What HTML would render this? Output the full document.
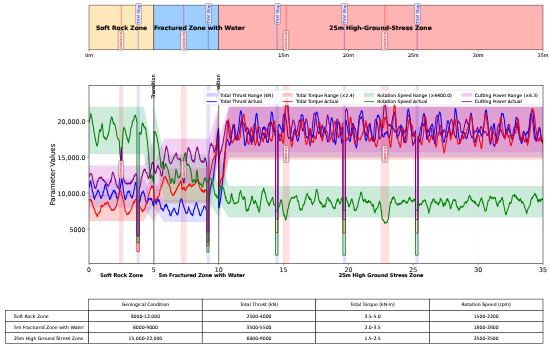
<!DOCTYPE html>
<html><head><meta charset="utf-8"><title>TBM Parameters</title>
<style>html,body{margin:0;padding:0;background:#fff}svg{display:block}</style></head>
<body>
<svg width="550" height="349" viewBox="0 0 550 349" font-family="DejaVu Sans, Liberation Sans, sans-serif">
<rect width="550" height="349" fill="#fff"/>
<rect x="89.00" y="5.1" width="64.86" height="44.70" fill="#fee8ba" stroke="#222" stroke-width="0.45"/>
<rect x="153.86" y="5.1" width="64.86" height="44.70" fill="#9dceff" stroke="#222" stroke-width="0.45"/>
<rect x="218.71" y="5.1" width="324.29" height="44.70" fill="#ffb3b3" stroke="#222" stroke-width="0.45"/>
<line x1="121.17" x2="121.17" y1="5.1" y2="49.8" stroke="#ff0000" stroke-opacity="0.6" stroke-width="0.6"/>
<line x1="183.69" x2="183.69" y1="5.1" y2="49.8" stroke="#ff0000" stroke-opacity="0.6" stroke-width="0.6"/>
<line x1="286.23" x2="286.23" y1="5.1" y2="49.8" stroke="#ff0000" stroke-opacity="0.6" stroke-width="0.6"/>
<line x1="384.88" x2="384.88" y1="5.1" y2="49.8" stroke="#ff0000" stroke-opacity="0.6" stroke-width="0.6"/>
<line x1="138.23" x2="138.23" y1="5.1" y2="49.8" stroke="#0000ff" stroke-opacity="0.5" stroke-width="0.6"/>
<line x1="208.27" x2="208.27" y1="5.1" y2="49.8" stroke="#0000ff" stroke-opacity="0.5" stroke-width="0.6"/>
<line x1="277.15" x2="277.15" y1="5.1" y2="49.8" stroke="#0000ff" stroke-opacity="0.5" stroke-width="0.6"/>
<line x1="344.34" x2="344.34" y1="5.1" y2="49.8" stroke="#0000ff" stroke-opacity="0.5" stroke-width="0.6"/>
<line x1="417.11" x2="417.11" y1="5.1" y2="49.8" stroke="#0000ff" stroke-opacity="0.5" stroke-width="0.6"/>
<text x="121.50" y="29.8" font-size="6" font-weight="bold" text-anchor="middle" fill="#000" stroke="#000" stroke-width="0.15">Soft Rock Zone</text>
<text x="199.40" y="29.8" font-size="6" font-weight="bold" text-anchor="middle" fill="#000" stroke="#000" stroke-width="0.15">Fractured Zone with Water</text>
<text x="380.50" y="29.8" font-size="6" font-weight="bold" text-anchor="middle" fill="#000" stroke="#000" stroke-width="0.15">25m High-Ground-Stress Zone</text>
<rect x="118.17" y="30.98" width="5.50" height="19.05" rx="0.8" fill="#fff" fill-opacity="0.82" stroke="#666" stroke-width="0.55"/><text transform="translate(122.36 40.50) rotate(-90)" font-size="4.0" text-anchor="middle" fill="#ff0000">Anomaly</text>
<rect x="180.69" y="30.98" width="5.50" height="19.05" rx="0.8" fill="#fff" fill-opacity="0.82" stroke="#666" stroke-width="0.55"/><text transform="translate(184.88 40.50) rotate(-90)" font-size="4.0" text-anchor="middle" fill="#ff0000">Anomaly</text>
<rect x="283.23" y="30.98" width="5.50" height="19.05" rx="0.8" fill="#fff" fill-opacity="0.82" stroke="#666" stroke-width="0.55"/><text transform="translate(287.42 40.50) rotate(-90)" font-size="4.0" text-anchor="middle" fill="#ff0000">Anomaly</text>
<rect x="381.88" y="30.98" width="5.50" height="19.05" rx="0.8" fill="#fff" fill-opacity="0.82" stroke="#666" stroke-width="0.55"/><text transform="translate(386.07 40.50) rotate(-90)" font-size="4.0" text-anchor="middle" fill="#ff0000">Anomaly</text>
<rect x="135.78" y="3.65" width="5.50" height="20.50" rx="0.8" fill="#fff" fill-opacity="0.82" stroke="#666" stroke-width="0.55"/><text transform="translate(139.97 13.90) rotate(-90)" font-size="4.0" text-anchor="middle" fill="#0000ff">TBM Stop</text>
<rect x="205.82" y="3.65" width="5.50" height="20.50" rx="0.8" fill="#fff" fill-opacity="0.82" stroke="#666" stroke-width="0.55"/><text transform="translate(210.01 13.90) rotate(-90)" font-size="4.0" text-anchor="middle" fill="#0000ff">TBM Stop</text>
<rect x="274.70" y="3.65" width="5.50" height="20.50" rx="0.8" fill="#fff" fill-opacity="0.82" stroke="#666" stroke-width="0.55"/><text transform="translate(278.89 13.90) rotate(-90)" font-size="4.0" text-anchor="middle" fill="#0000ff">TBM Stop</text>
<rect x="341.89" y="3.65" width="5.50" height="20.50" rx="0.8" fill="#fff" fill-opacity="0.82" stroke="#666" stroke-width="0.55"/><text transform="translate(346.08 13.90) rotate(-90)" font-size="4.0" text-anchor="middle" fill="#0000ff">TBM Stop</text>
<rect x="414.66" y="3.65" width="5.50" height="20.50" rx="0.8" fill="#fff" fill-opacity="0.82" stroke="#666" stroke-width="0.55"/><text transform="translate(418.85 13.90) rotate(-90)" font-size="4.0" text-anchor="middle" fill="#0000ff">TBM Stop</text>
<line x1="89.00" x2="89.00" y1="49.8" y2="51.599999999999994" stroke="#000" stroke-width="0.4"/>
<text x="89.00" y="56.80" font-size="4.8" text-anchor="middle" fill="#000" stroke="#000" stroke-width="0.08">0m</text>
<line x1="283.57" x2="283.57" y1="49.8" y2="51.599999999999994" stroke="#000" stroke-width="0.4"/>
<text x="283.57" y="56.80" font-size="4.8" text-anchor="middle" fill="#000" stroke="#000" stroke-width="0.08">15m</text>
<line x1="348.43" x2="348.43" y1="49.8" y2="51.599999999999994" stroke="#000" stroke-width="0.4"/>
<text x="348.43" y="56.80" font-size="4.8" text-anchor="middle" fill="#000" stroke="#000" stroke-width="0.08">20m</text>
<line x1="413.29" x2="413.29" y1="49.8" y2="51.599999999999994" stroke="#000" stroke-width="0.4"/>
<text x="413.29" y="56.80" font-size="4.8" text-anchor="middle" fill="#000" stroke="#000" stroke-width="0.08">25m</text>
<line x1="478.14" x2="478.14" y1="49.8" y2="51.599999999999994" stroke="#000" stroke-width="0.4"/>
<text x="478.14" y="56.80" font-size="4.8" text-anchor="middle" fill="#000" stroke="#000" stroke-width="0.08">30m</text>
<line x1="543.00" x2="543.00" y1="49.8" y2="51.599999999999994" stroke="#000" stroke-width="0.4"/>
<text x="543.00" y="56.80" font-size="4.8" text-anchor="middle" fill="#000" stroke="#000" stroke-width="0.08">35m</text>
<clipPath id="c"><rect x="89.0" y="85.5" width="454.0" height="178.0"/></clipPath>
<g clip-path="url(#c)">
<line x1="89.00" x2="89.00" y1="85.5" y2="263.5" stroke="#b0b0b0" stroke-opacity="0.35" stroke-width="0.4" stroke-dasharray="0.5 0.8"/>
<line x1="153.86" x2="153.86" y1="85.5" y2="263.5" stroke="#b0b0b0" stroke-opacity="0.35" stroke-width="0.4" stroke-dasharray="0.5 0.8"/>
<line x1="218.71" x2="218.71" y1="85.5" y2="263.5" stroke="#b0b0b0" stroke-opacity="0.35" stroke-width="0.4" stroke-dasharray="0.5 0.8"/>
<line x1="283.57" x2="283.57" y1="85.5" y2="263.5" stroke="#b0b0b0" stroke-opacity="0.35" stroke-width="0.4" stroke-dasharray="0.5 0.8"/>
<line x1="348.43" x2="348.43" y1="85.5" y2="263.5" stroke="#b0b0b0" stroke-opacity="0.35" stroke-width="0.4" stroke-dasharray="0.5 0.8"/>
<line x1="413.29" x2="413.29" y1="85.5" y2="263.5" stroke="#b0b0b0" stroke-opacity="0.35" stroke-width="0.4" stroke-dasharray="0.5 0.8"/>
<line x1="478.14" x2="478.14" y1="85.5" y2="263.5" stroke="#b0b0b0" stroke-opacity="0.35" stroke-width="0.4" stroke-dasharray="0.5 0.8"/>
<line x1="543.00" x2="543.00" y1="85.5" y2="263.5" stroke="#b0b0b0" stroke-opacity="0.35" stroke-width="0.4" stroke-dasharray="0.5 0.8"/>
<line x1="89.0" x2="543.0" y1="229.10" y2="229.10" stroke="#b0b0b0" stroke-opacity="0.35" stroke-width="0.4" stroke-dasharray="0.5 0.8"/>
<line x1="89.0" x2="543.0" y1="193.10" y2="193.10" stroke="#b0b0b0" stroke-opacity="0.35" stroke-width="0.4" stroke-dasharray="0.5 0.8"/>
<line x1="89.0" x2="543.0" y1="157.10" y2="157.10" stroke="#b0b0b0" stroke-opacity="0.35" stroke-width="0.4" stroke-dasharray="0.5 0.8"/>
<line x1="89.0" x2="543.0" y1="121.10" y2="121.10" stroke="#b0b0b0" stroke-opacity="0.35" stroke-width="0.4" stroke-dasharray="0.5 0.8"/>
<path d="M89.00 178.70 L89.65 178.70 L90.30 178.70 L90.95 178.70 L91.59 178.70 L92.24 178.70 L92.89 178.70 L93.54 178.70 L94.19 178.70 L94.84 178.70 L95.49 178.70 L96.13 178.70 L96.78 178.70 L97.43 178.70 L98.08 178.70 L98.73 178.70 L99.38 178.70 L100.03 178.70 L100.67 178.70 L101.32 178.70 L101.97 178.70 L102.62 178.70 L103.27 178.70 L103.92 178.70 L104.57 178.70 L105.21 178.70 L105.86 178.70 L106.51 178.70 L107.16 178.70 L107.81 178.70 L108.46 178.70 L109.11 178.70 L109.75 178.70 L110.40 178.70 L111.05 178.70 L111.70 178.70 L112.35 178.70 L113.00 178.70 L113.65 178.70 L114.29 178.70 L114.94 178.70 L115.59 178.70 L116.24 178.70 L116.89 178.70 L117.54 178.70 L118.19 178.70 L118.83 178.70 L119.48 178.70 L120.13 178.70 L120.78 178.70 L121.43 178.70 L122.08 178.70 L122.73 178.70 L123.37 178.70 L124.02 178.70 L124.67 178.70 L125.32 178.70 L125.97 178.70 L126.62 178.70 L127.27 178.70 L127.91 178.70 L128.56 178.70 L129.21 178.70 L129.86 178.70 L130.51 178.70 L131.16 178.70 L131.81 178.70 L132.45 178.70 L133.10 178.70 L133.75 178.70 L134.40 178.70 L135.05 178.70 L135.70 178.70 L136.35 178.70 L136.99 178.70 L137.64 178.70 L138.29 178.70 L138.94 178.70 L139.59 178.70 L140.24 178.70 L140.89 178.70 L141.53 178.70 L142.18 178.70 L142.83 178.70 L143.48 178.70 L144.13 179.53 L144.78 180.92 L145.43 182.30 L146.07 183.68 L146.72 185.07 L147.37 186.45 L148.02 187.84 L148.67 189.22 L149.32 190.61 L149.97 191.99 L150.61 193.38 L151.26 194.76 L151.91 196.15 L152.56 197.53 L153.21 198.92 L153.86 178.70 L154.51 180.08 L155.15 181.47 L155.80 182.85 L156.45 184.24 L157.10 185.62 L157.75 187.01 L158.40 188.39 L159.05 189.78 L159.69 191.16 L160.34 192.55 L160.99 193.93 L161.64 195.32 L162.29 196.70 L162.94 198.08 L163.59 199.47 L164.23 200.30 L164.88 200.30 L165.53 200.30 L166.18 200.30 L166.83 200.30 L167.48 200.30 L168.13 200.30 L168.77 200.30 L169.42 200.30 L170.07 200.30 L170.72 200.30 L171.37 200.30 L172.02 200.30 L172.67 200.30 L173.31 200.30 L173.96 200.30 L174.61 200.30 L175.26 200.30 L175.91 200.30 L176.56 200.30 L177.21 200.30 L177.85 200.30 L178.50 200.30 L179.15 200.30 L179.80 200.30 L180.45 200.30 L181.10 200.30 L181.75 200.30 L182.39 200.30 L183.04 200.30 L183.69 200.30 L184.34 200.30 L184.99 200.30 L185.64 200.30 L186.29 200.30 L186.93 200.30 L187.58 200.30 L188.23 200.30 L188.88 200.30 L189.53 200.30 L190.18 200.30 L190.83 200.30 L191.47 200.30 L192.12 200.30 L192.77 200.30 L193.42 200.30 L194.07 200.30 L194.72 200.30 L195.37 200.30 L196.01 200.30 L196.66 200.30 L197.31 200.30 L197.96 200.30 L198.61 200.30 L199.26 200.30 L199.91 200.30 L200.55 200.30 L201.20 200.30 L201.85 200.30 L202.50 200.30 L203.15 200.30 L203.80 200.30 L204.45 200.30 L205.09 200.30 L205.74 200.30 L206.39 200.30 L207.04 200.30 L207.69 200.30 L208.34 200.30 L208.99 196.70 L209.63 190.70 L210.28 184.70 L210.93 178.70 L211.58 172.70 L212.23 166.70 L212.88 160.70 L213.53 154.70 L214.17 148.70 L214.82 142.70 L215.47 136.70 L216.12 130.70 L216.77 124.70 L217.42 118.70 L218.07 112.70 L218.71 200.30 L219.36 194.30 L220.01 188.30 L220.66 182.30 L221.31 176.30 L221.96 170.30 L222.61 164.30 L223.25 158.30 L223.90 152.30 L224.55 146.30 L225.20 140.30 L225.85 134.30 L226.50 128.30 L227.15 122.30 L227.79 116.30 L228.44 110.30 L229.09 106.70 L229.74 106.70 L230.39 106.70 L231.04 106.70 L231.69 106.70 L232.33 106.70 L232.98 106.70 L233.63 106.70 L234.28 106.70 L234.93 106.70 L235.58 106.70 L236.23 106.70 L236.87 106.70 L237.52 106.70 L238.17 106.70 L238.82 106.70 L239.47 106.70 L240.12 106.70 L240.77 106.70 L241.41 106.70 L242.06 106.70 L242.71 106.70 L243.36 106.70 L244.01 106.70 L244.66 106.70 L245.31 106.70 L245.95 106.70 L246.60 106.70 L247.25 106.70 L247.90 106.70 L248.55 106.70 L249.20 106.70 L249.85 106.70 L250.49 106.70 L251.14 106.70 L251.79 106.70 L252.44 106.70 L253.09 106.70 L253.74 106.70 L254.39 106.70 L255.03 106.70 L255.68 106.70 L256.33 106.70 L256.98 106.70 L257.63 106.70 L258.28 106.70 L258.93 106.70 L259.57 106.70 L260.22 106.70 L260.87 106.70 L261.52 106.70 L262.17 106.70 L262.82 106.70 L263.47 106.70 L264.11 106.70 L264.76 106.70 L265.41 106.70 L266.06 106.70 L266.71 106.70 L267.36 106.70 L268.01 106.70 L268.65 106.70 L269.30 106.70 L269.95 106.70 L270.60 106.70 L271.25 106.70 L271.90 106.70 L272.55 106.70 L273.19 106.70 L273.84 106.70 L274.49 106.70 L275.14 106.70 L275.79 106.70 L276.44 106.70 L277.09 106.70 L277.73 106.70 L278.38 106.70 L279.03 106.70 L279.68 106.70 L280.33 106.70 L280.98 106.70 L281.63 106.70 L282.27 106.70 L282.92 106.70 L283.57 106.70 L284.22 106.70 L284.87 106.70 L285.52 106.70 L286.17 106.70 L286.81 106.70 L287.46 106.70 L288.11 106.70 L288.76 106.70 L289.41 106.70 L290.06 106.70 L290.71 106.70 L291.35 106.70 L292.00 106.70 L292.65 106.70 L293.30 106.70 L293.95 106.70 L294.60 106.70 L295.25 106.70 L295.89 106.70 L296.54 106.70 L297.19 106.70 L297.84 106.70 L298.49 106.70 L299.14 106.70 L299.79 106.70 L300.43 106.70 L301.08 106.70 L301.73 106.70 L302.38 106.70 L303.03 106.70 L303.68 106.70 L304.33 106.70 L304.97 106.70 L305.62 106.70 L306.27 106.70 L306.92 106.70 L307.57 106.70 L308.22 106.70 L308.87 106.70 L309.51 106.70 L310.16 106.70 L310.81 106.70 L311.46 106.70 L312.11 106.70 L312.76 106.70 L313.41 106.70 L314.05 106.70 L314.70 106.70 L315.35 106.70 L316.00 106.70 L316.65 106.70 L317.30 106.70 L317.95 106.70 L318.59 106.70 L319.24 106.70 L319.89 106.70 L320.54 106.70 L321.19 106.70 L321.84 106.70 L322.49 106.70 L323.13 106.70 L323.78 106.70 L324.43 106.70 L325.08 106.70 L325.73 106.70 L326.38 106.70 L327.03 106.70 L327.67 106.70 L328.32 106.70 L328.97 106.70 L329.62 106.70 L330.27 106.70 L330.92 106.70 L331.57 106.70 L332.21 106.70 L332.86 106.70 L333.51 106.70 L334.16 106.70 L334.81 106.70 L335.46 106.70 L336.11 106.70 L336.75 106.70 L337.40 106.70 L338.05 106.70 L338.70 106.70 L339.35 106.70 L340.00 106.70 L340.65 106.70 L341.29 106.70 L341.94 106.70 L342.59 106.70 L343.24 106.70 L343.89 106.70 L344.54 106.70 L345.19 106.70 L345.83 106.70 L346.48 106.70 L347.13 106.70 L347.78 106.70 L348.43 106.70 L349.08 106.70 L349.73 106.70 L350.37 106.70 L351.02 106.70 L351.67 106.70 L352.32 106.70 L352.97 106.70 L353.62 106.70 L354.27 106.70 L354.91 106.70 L355.56 106.70 L356.21 106.70 L356.86 106.70 L357.51 106.70 L358.16 106.70 L358.81 106.70 L359.45 106.70 L360.10 106.70 L360.75 106.70 L361.40 106.70 L362.05 106.70 L362.70 106.70 L363.35 106.70 L363.99 106.70 L364.64 106.70 L365.29 106.70 L365.94 106.70 L366.59 106.70 L367.24 106.70 L367.89 106.70 L368.53 106.70 L369.18 106.70 L369.83 106.70 L370.48 106.70 L371.13 106.70 L371.78 106.70 L372.43 106.70 L373.07 106.70 L373.72 106.70 L374.37 106.70 L375.02 106.70 L375.67 106.70 L376.32 106.70 L376.97 106.70 L377.61 106.70 L378.26 106.70 L378.91 106.70 L379.56 106.70 L380.21 106.70 L380.86 106.70 L381.51 106.70 L382.15 106.70 L382.80 106.70 L383.45 106.70 L384.10 106.70 L384.75 106.70 L385.40 106.70 L386.05 106.70 L386.69 106.70 L387.34 106.70 L387.99 106.70 L388.64 106.70 L389.29 106.70 L389.94 106.70 L390.59 106.70 L391.23 106.70 L391.88 106.70 L392.53 106.70 L393.18 106.70 L393.83 106.70 L394.48 106.70 L395.13 106.70 L395.77 106.70 L396.42 106.70 L397.07 106.70 L397.72 106.70 L398.37 106.70 L399.02 106.70 L399.67 106.70 L400.31 106.70 L400.96 106.70 L401.61 106.70 L402.26 106.70 L402.91 106.70 L403.56 106.70 L404.21 106.70 L404.85 106.70 L405.50 106.70 L406.15 106.70 L406.80 106.70 L407.45 106.70 L408.10 106.70 L408.75 106.70 L409.39 106.70 L410.04 106.70 L410.69 106.70 L411.34 106.70 L411.99 106.70 L412.64 106.70 L413.29 106.70 L413.93 106.70 L414.58 106.70 L415.23 106.70 L415.88 106.70 L416.53 106.70 L417.18 106.70 L417.83 106.70 L418.47 106.70 L419.12 106.70 L419.77 106.70 L420.42 106.70 L421.07 106.70 L421.72 106.70 L422.37 106.70 L423.01 106.70 L423.66 106.70 L424.31 106.70 L424.96 106.70 L425.61 106.70 L426.26 106.70 L426.91 106.70 L427.55 106.70 L428.20 106.70 L428.85 106.70 L429.50 106.70 L430.15 106.70 L430.80 106.70 L431.45 106.70 L432.09 106.70 L432.74 106.70 L433.39 106.70 L434.04 106.70 L434.69 106.70 L435.34 106.70 L435.99 106.70 L436.63 106.70 L437.28 106.70 L437.93 106.70 L438.58 106.70 L439.23 106.70 L439.88 106.70 L440.53 106.70 L441.17 106.70 L441.82 106.70 L442.47 106.70 L443.12 106.70 L443.77 106.70 L444.42 106.70 L445.07 106.70 L445.71 106.70 L446.36 106.70 L447.01 106.70 L447.66 106.70 L448.31 106.70 L448.96 106.70 L449.61 106.70 L450.25 106.70 L450.90 106.70 L451.55 106.70 L452.20 106.70 L452.85 106.70 L453.50 106.70 L454.15 106.70 L454.79 106.70 L455.44 106.70 L456.09 106.70 L456.74 106.70 L457.39 106.70 L458.04 106.70 L458.69 106.70 L459.33 106.70 L459.98 106.70 L460.63 106.70 L461.28 106.70 L461.93 106.70 L462.58 106.70 L463.23 106.70 L463.87 106.70 L464.52 106.70 L465.17 106.70 L465.82 106.70 L466.47 106.70 L467.12 106.70 L467.77 106.70 L468.41 106.70 L469.06 106.70 L469.71 106.70 L470.36 106.70 L471.01 106.70 L471.66 106.70 L472.31 106.70 L472.95 106.70 L473.60 106.70 L474.25 106.70 L474.90 106.70 L475.55 106.70 L476.20 106.70 L476.85 106.70 L477.49 106.70 L478.14 106.70 L478.79 106.70 L479.44 106.70 L480.09 106.70 L480.74 106.70 L481.39 106.70 L482.03 106.70 L482.68 106.70 L483.33 106.70 L483.98 106.70 L484.63 106.70 L485.28 106.70 L485.93 106.70 L486.57 106.70 L487.22 106.70 L487.87 106.70 L488.52 106.70 L489.17 106.70 L489.82 106.70 L490.47 106.70 L491.11 106.70 L491.76 106.70 L492.41 106.70 L493.06 106.70 L493.71 106.70 L494.36 106.70 L495.01 106.70 L495.65 106.70 L496.30 106.70 L496.95 106.70 L497.60 106.70 L498.25 106.70 L498.90 106.70 L499.55 106.70 L500.19 106.70 L500.84 106.70 L501.49 106.70 L502.14 106.70 L502.79 106.70 L503.44 106.70 L504.09 106.70 L504.73 106.70 L505.38 106.70 L506.03 106.70 L506.68 106.70 L507.33 106.70 L507.98 106.70 L508.63 106.70 L509.27 106.70 L509.92 106.70 L510.57 106.70 L511.22 106.70 L511.87 106.70 L512.52 106.70 L513.17 106.70 L513.81 106.70 L514.46 106.70 L515.11 106.70 L515.76 106.70 L516.41 106.70 L517.06 106.70 L517.71 106.70 L518.35 106.70 L519.00 106.70 L519.65 106.70 L520.30 106.70 L520.95 106.70 L521.60 106.70 L522.25 106.70 L522.89 106.70 L523.54 106.70 L524.19 106.70 L524.84 106.70 L525.49 106.70 L526.14 106.70 L526.79 106.70 L527.43 106.70 L528.08 106.70 L528.73 106.70 L529.38 106.70 L530.03 106.70 L530.68 106.70 L531.33 106.70 L531.97 106.70 L532.62 106.70 L533.27 106.70 L533.92 106.70 L534.57 106.70 L535.22 106.70 L535.87 106.70 L536.51 106.70 L537.16 106.70 L537.81 106.70 L538.46 106.70 L539.11 106.70 L539.76 106.70 L540.41 106.70 L541.05 106.70 L541.70 106.70 L542.35 106.70 L543.00 106.70 L543.00 157.10 L542.35 157.10 L541.70 157.10 L541.05 157.10 L540.41 157.10 L539.76 157.10 L539.11 157.10 L538.46 157.10 L537.81 157.10 L537.16 157.10 L536.51 157.10 L535.87 157.10 L535.22 157.10 L534.57 157.10 L533.92 157.10 L533.27 157.10 L532.62 157.10 L531.97 157.10 L531.33 157.10 L530.68 157.10 L530.03 157.10 L529.38 157.10 L528.73 157.10 L528.08 157.10 L527.43 157.10 L526.79 157.10 L526.14 157.10 L525.49 157.10 L524.84 157.10 L524.19 157.10 L523.54 157.10 L522.89 157.10 L522.25 157.10 L521.60 157.10 L520.95 157.10 L520.30 157.10 L519.65 157.10 L519.00 157.10 L518.35 157.10 L517.71 157.10 L517.06 157.10 L516.41 157.10 L515.76 157.10 L515.11 157.10 L514.46 157.10 L513.81 157.10 L513.17 157.10 L512.52 157.10 L511.87 157.10 L511.22 157.10 L510.57 157.10 L509.92 157.10 L509.27 157.10 L508.63 157.10 L507.98 157.10 L507.33 157.10 L506.68 157.10 L506.03 157.10 L505.38 157.10 L504.73 157.10 L504.09 157.10 L503.44 157.10 L502.79 157.10 L502.14 157.10 L501.49 157.10 L500.84 157.10 L500.19 157.10 L499.55 157.10 L498.90 157.10 L498.25 157.10 L497.60 157.10 L496.95 157.10 L496.30 157.10 L495.65 157.10 L495.01 157.10 L494.36 157.10 L493.71 157.10 L493.06 157.10 L492.41 157.10 L491.76 157.10 L491.11 157.10 L490.47 157.10 L489.82 157.10 L489.17 157.10 L488.52 157.10 L487.87 157.10 L487.22 157.10 L486.57 157.10 L485.93 157.10 L485.28 157.10 L484.63 157.10 L483.98 157.10 L483.33 157.10 L482.68 157.10 L482.03 157.10 L481.39 157.10 L480.74 157.10 L480.09 157.10 L479.44 157.10 L478.79 157.10 L478.14 157.10 L477.49 157.10 L476.85 157.10 L476.20 157.10 L475.55 157.10 L474.90 157.10 L474.25 157.10 L473.60 157.10 L472.95 157.10 L472.31 157.10 L471.66 157.10 L471.01 157.10 L470.36 157.10 L469.71 157.10 L469.06 157.10 L468.41 157.10 L467.77 157.10 L467.12 157.10 L466.47 157.10 L465.82 157.10 L465.17 157.10 L464.52 157.10 L463.87 157.10 L463.23 157.10 L462.58 157.10 L461.93 157.10 L461.28 157.10 L460.63 157.10 L459.98 157.10 L459.33 157.10 L458.69 157.10 L458.04 157.10 L457.39 157.10 L456.74 157.10 L456.09 157.10 L455.44 157.10 L454.79 157.10 L454.15 157.10 L453.50 157.10 L452.85 157.10 L452.20 157.10 L451.55 157.10 L450.90 157.10 L450.25 157.10 L449.61 157.10 L448.96 157.10 L448.31 157.10 L447.66 157.10 L447.01 157.10 L446.36 157.10 L445.71 157.10 L445.07 157.10 L444.42 157.10 L443.77 157.10 L443.12 157.10 L442.47 157.10 L441.82 157.10 L441.17 157.10 L440.53 157.10 L439.88 157.10 L439.23 157.10 L438.58 157.10 L437.93 157.10 L437.28 157.10 L436.63 157.10 L435.99 157.10 L435.34 157.10 L434.69 157.10 L434.04 157.10 L433.39 157.10 L432.74 157.10 L432.09 157.10 L431.45 157.10 L430.80 157.10 L430.15 157.10 L429.50 157.10 L428.85 157.10 L428.20 157.10 L427.55 157.10 L426.91 157.10 L426.26 157.10 L425.61 157.10 L424.96 157.10 L424.31 157.10 L423.66 157.10 L423.01 157.10 L422.37 157.10 L421.72 157.10 L421.07 157.10 L420.42 157.10 L419.77 157.10 L419.12 157.10 L418.47 157.10 L417.83 157.10 L417.18 157.10 L416.53 157.10 L415.88 157.10 L415.23 157.10 L414.58 157.10 L413.93 157.10 L413.29 157.10 L412.64 157.10 L411.99 157.10 L411.34 157.10 L410.69 157.10 L410.04 157.10 L409.39 157.10 L408.75 157.10 L408.10 157.10 L407.45 157.10 L406.80 157.10 L406.15 157.10 L405.50 157.10 L404.85 157.10 L404.21 157.10 L403.56 157.10 L402.91 157.10 L402.26 157.10 L401.61 157.10 L400.96 157.10 L400.31 157.10 L399.67 157.10 L399.02 157.10 L398.37 157.10 L397.72 157.10 L397.07 157.10 L396.42 157.10 L395.77 157.10 L395.13 157.10 L394.48 157.10 L393.83 157.10 L393.18 157.10 L392.53 157.10 L391.88 157.10 L391.23 157.10 L390.59 157.10 L389.94 157.10 L389.29 157.10 L388.64 157.10 L387.99 157.10 L387.34 157.10 L386.69 157.10 L386.05 157.10 L385.40 157.10 L384.75 157.10 L384.10 157.10 L383.45 157.10 L382.80 157.10 L382.15 157.10 L381.51 157.10 L380.86 157.10 L380.21 157.10 L379.56 157.10 L378.91 157.10 L378.26 157.10 L377.61 157.10 L376.97 157.10 L376.32 157.10 L375.67 157.10 L375.02 157.10 L374.37 157.10 L373.72 157.10 L373.07 157.10 L372.43 157.10 L371.78 157.10 L371.13 157.10 L370.48 157.10 L369.83 157.10 L369.18 157.10 L368.53 157.10 L367.89 157.10 L367.24 157.10 L366.59 157.10 L365.94 157.10 L365.29 157.10 L364.64 157.10 L363.99 157.10 L363.35 157.10 L362.70 157.10 L362.05 157.10 L361.40 157.10 L360.75 157.10 L360.10 157.10 L359.45 157.10 L358.81 157.10 L358.16 157.10 L357.51 157.10 L356.86 157.10 L356.21 157.10 L355.56 157.10 L354.91 157.10 L354.27 157.10 L353.62 157.10 L352.97 157.10 L352.32 157.10 L351.67 157.10 L351.02 157.10 L350.37 157.10 L349.73 157.10 L349.08 157.10 L348.43 157.10 L347.78 157.10 L347.13 157.10 L346.48 157.10 L345.83 157.10 L345.19 157.10 L344.54 157.10 L343.89 157.10 L343.24 157.10 L342.59 157.10 L341.94 157.10 L341.29 157.10 L340.65 157.10 L340.00 157.10 L339.35 157.10 L338.70 157.10 L338.05 157.10 L337.40 157.10 L336.75 157.10 L336.11 157.10 L335.46 157.10 L334.81 157.10 L334.16 157.10 L333.51 157.10 L332.86 157.10 L332.21 157.10 L331.57 157.10 L330.92 157.10 L330.27 157.10 L329.62 157.10 L328.97 157.10 L328.32 157.10 L327.67 157.10 L327.03 157.10 L326.38 157.10 L325.73 157.10 L325.08 157.10 L324.43 157.10 L323.78 157.10 L323.13 157.10 L322.49 157.10 L321.84 157.10 L321.19 157.10 L320.54 157.10 L319.89 157.10 L319.24 157.10 L318.59 157.10 L317.95 157.10 L317.30 157.10 L316.65 157.10 L316.00 157.10 L315.35 157.10 L314.70 157.10 L314.05 157.10 L313.41 157.10 L312.76 157.10 L312.11 157.10 L311.46 157.10 L310.81 157.10 L310.16 157.10 L309.51 157.10 L308.87 157.10 L308.22 157.10 L307.57 157.10 L306.92 157.10 L306.27 157.10 L305.62 157.10 L304.97 157.10 L304.33 157.10 L303.68 157.10 L303.03 157.10 L302.38 157.10 L301.73 157.10 L301.08 157.10 L300.43 157.10 L299.79 157.10 L299.14 157.10 L298.49 157.10 L297.84 157.10 L297.19 157.10 L296.54 157.10 L295.89 157.10 L295.25 157.10 L294.60 157.10 L293.95 157.10 L293.30 157.10 L292.65 157.10 L292.00 157.10 L291.35 157.10 L290.71 157.10 L290.06 157.10 L289.41 157.10 L288.76 157.10 L288.11 157.10 L287.46 157.10 L286.81 157.10 L286.17 157.10 L285.52 157.10 L284.87 157.10 L284.22 157.10 L283.57 157.10 L282.92 157.10 L282.27 157.10 L281.63 157.10 L280.98 157.10 L280.33 157.10 L279.68 157.10 L279.03 157.10 L278.38 157.10 L277.73 157.10 L277.09 157.10 L276.44 157.10 L275.79 157.10 L275.14 157.10 L274.49 157.10 L273.84 157.10 L273.19 157.10 L272.55 157.10 L271.90 157.10 L271.25 157.10 L270.60 157.10 L269.95 157.10 L269.30 157.10 L268.65 157.10 L268.01 157.10 L267.36 157.10 L266.71 157.10 L266.06 157.10 L265.41 157.10 L264.76 157.10 L264.11 157.10 L263.47 157.10 L262.82 157.10 L262.17 157.10 L261.52 157.10 L260.87 157.10 L260.22 157.10 L259.57 157.10 L258.93 157.10 L258.28 157.10 L257.63 157.10 L256.98 157.10 L256.33 157.10 L255.68 157.10 L255.03 157.10 L254.39 157.10 L253.74 157.10 L253.09 157.10 L252.44 157.10 L251.79 157.10 L251.14 157.10 L250.49 157.10 L249.85 157.10 L249.20 157.10 L248.55 157.10 L247.90 157.10 L247.25 157.10 L246.60 157.10 L245.95 157.10 L245.31 157.10 L244.66 157.10 L244.01 157.10 L243.36 157.10 L242.71 157.10 L242.06 157.10 L241.41 157.10 L240.77 157.10 L240.12 157.10 L239.47 157.10 L238.82 157.10 L238.17 157.10 L237.52 157.10 L236.87 157.10 L236.23 157.10 L235.58 157.10 L234.93 157.10 L234.28 157.10 L233.63 157.10 L232.98 157.10 L232.33 157.10 L231.69 157.10 L231.04 157.10 L230.39 157.10 L229.74 157.10 L229.09 157.10 L228.44 159.59 L227.79 163.75 L227.15 167.90 L226.50 172.05 L225.85 176.21 L225.20 180.36 L224.55 184.52 L223.90 188.67 L223.25 192.82 L222.61 196.98 L221.96 201.13 L221.31 205.28 L220.66 209.44 L220.01 213.59 L219.36 217.75 L218.71 221.90 L218.07 161.25 L217.42 165.41 L216.77 169.56 L216.12 173.72 L215.47 177.87 L214.82 182.02 L214.17 186.18 L213.53 190.33 L212.88 194.48 L212.23 198.64 L211.58 202.79 L210.93 206.95 L210.28 211.10 L209.63 215.25 L208.99 219.41 L208.34 221.90 L207.69 221.90 L207.04 221.90 L206.39 221.90 L205.74 221.90 L205.09 221.90 L204.45 221.90 L203.80 221.90 L203.15 221.90 L202.50 221.90 L201.85 221.90 L201.20 221.90 L200.55 221.90 L199.91 221.90 L199.26 221.90 L198.61 221.90 L197.96 221.90 L197.31 221.90 L196.66 221.90 L196.01 221.90 L195.37 221.90 L194.72 221.90 L194.07 221.90 L193.42 221.90 L192.77 221.90 L192.12 221.90 L191.47 221.90 L190.83 221.90 L190.18 221.90 L189.53 221.90 L188.88 221.90 L188.23 221.90 L187.58 221.90 L186.93 221.90 L186.29 221.90 L185.64 221.90 L184.99 221.90 L184.34 221.90 L183.69 221.90 L183.04 221.90 L182.39 221.90 L181.75 221.90 L181.10 221.90 L180.45 221.90 L179.80 221.90 L179.15 221.90 L178.50 221.90 L177.85 221.90 L177.21 221.90 L176.56 221.90 L175.91 221.90 L175.26 221.90 L174.61 221.90 L173.96 221.90 L173.31 221.90 L172.67 221.90 L172.02 221.90 L171.37 221.90 L170.72 221.90 L170.07 221.90 L169.42 221.90 L168.77 221.90 L168.13 221.90 L167.48 221.90 L166.83 221.90 L166.18 221.90 L165.53 221.90 L164.88 221.90 L164.23 221.90 L163.59 221.35 L162.94 220.42 L162.29 219.50 L161.64 218.58 L160.99 217.65 L160.34 216.73 L159.69 215.81 L159.05 214.88 L158.40 213.96 L157.75 213.04 L157.10 212.12 L156.45 211.19 L155.80 210.27 L155.15 209.35 L154.51 208.42 L153.86 207.50 L153.21 220.98 L152.56 220.05 L151.91 219.13 L151.26 218.21 L150.61 217.28 L149.97 216.36 L149.32 215.44 L148.67 214.52 L148.02 213.59 L147.37 212.67 L146.72 211.75 L146.07 210.82 L145.43 209.90 L144.78 208.98 L144.13 208.05 L143.48 207.50 L142.83 207.50 L142.18 207.50 L141.53 207.50 L140.89 207.50 L140.24 207.50 L139.59 207.50 L138.94 207.50 L138.29 207.50 L137.64 207.50 L136.99 207.50 L136.35 207.50 L135.70 207.50 L135.05 207.50 L134.40 207.50 L133.75 207.50 L133.10 207.50 L132.45 207.50 L131.81 207.50 L131.16 207.50 L130.51 207.50 L129.86 207.50 L129.21 207.50 L128.56 207.50 L127.91 207.50 L127.27 207.50 L126.62 207.50 L125.97 207.50 L125.32 207.50 L124.67 207.50 L124.02 207.50 L123.37 207.50 L122.73 207.50 L122.08 207.50 L121.43 207.50 L120.78 207.50 L120.13 207.50 L119.48 207.50 L118.83 207.50 L118.19 207.50 L117.54 207.50 L116.89 207.50 L116.24 207.50 L115.59 207.50 L114.94 207.50 L114.29 207.50 L113.65 207.50 L113.00 207.50 L112.35 207.50 L111.70 207.50 L111.05 207.50 L110.40 207.50 L109.75 207.50 L109.11 207.50 L108.46 207.50 L107.81 207.50 L107.16 207.50 L106.51 207.50 L105.86 207.50 L105.21 207.50 L104.57 207.50 L103.92 207.50 L103.27 207.50 L102.62 207.50 L101.97 207.50 L101.32 207.50 L100.67 207.50 L100.03 207.50 L99.38 207.50 L98.73 207.50 L98.08 207.50 L97.43 207.50 L96.78 207.50 L96.13 207.50 L95.49 207.50 L94.84 207.50 L94.19 207.50 L93.54 207.50 L92.89 207.50 L92.24 207.50 L91.59 207.50 L90.95 207.50 L90.30 207.50 L89.65 207.50 L89.00 207.50Z" fill="#0000ff" fill-opacity="0.13"/>
<path d="M89.00 194.70 L89.65 194.70 L90.30 194.70 L90.95 194.70 L91.59 194.70 L92.24 194.70 L92.89 194.70 L93.54 194.70 L94.19 194.70 L94.84 194.70 L95.49 194.70 L96.13 194.70 L96.78 194.70 L97.43 194.70 L98.08 194.70 L98.73 194.70 L99.38 194.70 L100.03 194.70 L100.67 194.70 L101.32 194.70 L101.97 194.70 L102.62 194.70 L103.27 194.70 L103.92 194.70 L104.57 194.70 L105.21 194.70 L105.86 194.70 L106.51 194.70 L107.16 194.70 L107.81 194.70 L108.46 194.70 L109.11 194.70 L109.75 194.70 L110.40 194.70 L111.05 194.70 L111.70 194.70 L112.35 194.70 L113.00 194.70 L113.65 194.70 L114.29 194.70 L114.94 194.70 L115.59 194.70 L116.24 194.70 L116.89 194.70 L117.54 194.70 L118.19 194.70 L118.83 194.70 L119.48 194.70 L120.13 194.70 L120.78 194.70 L121.43 194.70 L122.08 194.70 L122.73 194.70 L123.37 194.70 L124.02 194.70 L124.67 194.70 L125.32 194.70 L125.97 194.70 L126.62 194.70 L127.27 194.70 L127.91 194.70 L128.56 194.70 L129.21 194.70 L129.86 194.70 L130.51 194.70 L131.16 194.70 L131.81 194.70 L132.45 194.70 L133.10 194.70 L133.75 194.70 L134.40 194.70 L135.05 194.70 L135.70 194.70 L136.35 194.70 L136.99 194.70 L137.64 194.70 L138.29 194.70 L138.94 194.70 L139.59 194.70 L140.24 194.70 L140.89 194.70 L141.53 194.70 L142.18 194.70 L142.83 194.70 L143.48 194.70 L144.13 193.68 L144.78 191.99 L145.43 190.30 L146.07 188.61 L146.72 186.92 L147.37 185.22 L148.02 183.53 L148.67 181.84 L149.32 180.15 L149.97 178.46 L150.61 176.76 L151.26 175.07 L151.91 173.38 L152.56 171.69 L153.21 170.00 L153.86 194.70 L154.51 193.01 L155.15 191.31 L155.80 189.62 L156.45 187.93 L157.10 186.24 L157.75 184.55 L158.40 182.85 L159.05 181.16 L159.69 179.47 L160.34 177.78 L160.99 176.09 L161.64 174.39 L162.29 172.70 L162.94 171.01 L163.59 169.32 L164.23 168.30 L164.88 168.30 L165.53 168.30 L166.18 168.30 L166.83 168.30 L167.48 168.30 L168.13 168.30 L168.77 168.30 L169.42 168.30 L170.07 168.30 L170.72 168.30 L171.37 168.30 L172.02 168.30 L172.67 168.30 L173.31 168.30 L173.96 168.30 L174.61 168.30 L175.26 168.30 L175.91 168.30 L176.56 168.30 L177.21 168.30 L177.85 168.30 L178.50 168.30 L179.15 168.30 L179.80 168.30 L180.45 168.30 L181.10 168.30 L181.75 168.30 L182.39 168.30 L183.04 168.30 L183.69 168.30 L184.34 168.30 L184.99 168.30 L185.64 168.30 L186.29 168.30 L186.93 168.30 L187.58 168.30 L188.23 168.30 L188.88 168.30 L189.53 168.30 L190.18 168.30 L190.83 168.30 L191.47 168.30 L192.12 168.30 L192.77 168.30 L193.42 168.30 L194.07 168.30 L194.72 168.30 L195.37 168.30 L196.01 168.30 L196.66 168.30 L197.31 168.30 L197.96 168.30 L198.61 168.30 L199.26 168.30 L199.91 168.30 L200.55 168.30 L201.20 168.30 L201.85 168.30 L202.50 168.30 L203.15 168.30 L203.80 168.30 L204.45 168.30 L205.09 168.30 L205.74 168.30 L206.39 168.30 L207.04 168.30 L207.69 168.30 L208.34 168.30 L208.99 165.93 L209.63 161.98 L210.28 158.04 L210.93 154.09 L211.58 150.14 L212.23 146.19 L212.88 142.24 L213.53 138.29 L214.17 134.34 L214.82 130.39 L215.47 126.44 L216.12 122.50 L216.77 118.55 L217.42 114.60 L218.07 110.65 L218.71 168.30 L219.36 164.35 L220.01 160.41 L220.66 156.46 L221.31 152.51 L221.96 148.56 L222.61 144.61 L223.25 140.66 L223.90 136.71 L224.55 132.76 L225.20 128.81 L225.85 124.87 L226.50 120.92 L227.15 116.97 L227.79 113.02 L228.44 109.07 L229.09 106.70 L229.74 106.70 L230.39 106.70 L231.04 106.70 L231.69 106.70 L232.33 106.70 L232.98 106.70 L233.63 106.70 L234.28 106.70 L234.93 106.70 L235.58 106.70 L236.23 106.70 L236.87 106.70 L237.52 106.70 L238.17 106.70 L238.82 106.70 L239.47 106.70 L240.12 106.70 L240.77 106.70 L241.41 106.70 L242.06 106.70 L242.71 106.70 L243.36 106.70 L244.01 106.70 L244.66 106.70 L245.31 106.70 L245.95 106.70 L246.60 106.70 L247.25 106.70 L247.90 106.70 L248.55 106.70 L249.20 106.70 L249.85 106.70 L250.49 106.70 L251.14 106.70 L251.79 106.70 L252.44 106.70 L253.09 106.70 L253.74 106.70 L254.39 106.70 L255.03 106.70 L255.68 106.70 L256.33 106.70 L256.98 106.70 L257.63 106.70 L258.28 106.70 L258.93 106.70 L259.57 106.70 L260.22 106.70 L260.87 106.70 L261.52 106.70 L262.17 106.70 L262.82 106.70 L263.47 106.70 L264.11 106.70 L264.76 106.70 L265.41 106.70 L266.06 106.70 L266.71 106.70 L267.36 106.70 L268.01 106.70 L268.65 106.70 L269.30 106.70 L269.95 106.70 L270.60 106.70 L271.25 106.70 L271.90 106.70 L272.55 106.70 L273.19 106.70 L273.84 106.70 L274.49 106.70 L275.14 106.70 L275.79 106.70 L276.44 106.70 L277.09 106.70 L277.73 106.70 L278.38 106.70 L279.03 106.70 L279.68 106.70 L280.33 106.70 L280.98 106.70 L281.63 106.70 L282.27 106.70 L282.92 106.70 L283.57 106.70 L284.22 106.70 L284.87 106.70 L285.52 106.70 L286.17 106.70 L286.81 106.70 L287.46 106.70 L288.11 106.70 L288.76 106.70 L289.41 106.70 L290.06 106.70 L290.71 106.70 L291.35 106.70 L292.00 106.70 L292.65 106.70 L293.30 106.70 L293.95 106.70 L294.60 106.70 L295.25 106.70 L295.89 106.70 L296.54 106.70 L297.19 106.70 L297.84 106.70 L298.49 106.70 L299.14 106.70 L299.79 106.70 L300.43 106.70 L301.08 106.70 L301.73 106.70 L302.38 106.70 L303.03 106.70 L303.68 106.70 L304.33 106.70 L304.97 106.70 L305.62 106.70 L306.27 106.70 L306.92 106.70 L307.57 106.70 L308.22 106.70 L308.87 106.70 L309.51 106.70 L310.16 106.70 L310.81 106.70 L311.46 106.70 L312.11 106.70 L312.76 106.70 L313.41 106.70 L314.05 106.70 L314.70 106.70 L315.35 106.70 L316.00 106.70 L316.65 106.70 L317.30 106.70 L317.95 106.70 L318.59 106.70 L319.24 106.70 L319.89 106.70 L320.54 106.70 L321.19 106.70 L321.84 106.70 L322.49 106.70 L323.13 106.70 L323.78 106.70 L324.43 106.70 L325.08 106.70 L325.73 106.70 L326.38 106.70 L327.03 106.70 L327.67 106.70 L328.32 106.70 L328.97 106.70 L329.62 106.70 L330.27 106.70 L330.92 106.70 L331.57 106.70 L332.21 106.70 L332.86 106.70 L333.51 106.70 L334.16 106.70 L334.81 106.70 L335.46 106.70 L336.11 106.70 L336.75 106.70 L337.40 106.70 L338.05 106.70 L338.70 106.70 L339.35 106.70 L340.00 106.70 L340.65 106.70 L341.29 106.70 L341.94 106.70 L342.59 106.70 L343.24 106.70 L343.89 106.70 L344.54 106.70 L345.19 106.70 L345.83 106.70 L346.48 106.70 L347.13 106.70 L347.78 106.70 L348.43 106.70 L349.08 106.70 L349.73 106.70 L350.37 106.70 L351.02 106.70 L351.67 106.70 L352.32 106.70 L352.97 106.70 L353.62 106.70 L354.27 106.70 L354.91 106.70 L355.56 106.70 L356.21 106.70 L356.86 106.70 L357.51 106.70 L358.16 106.70 L358.81 106.70 L359.45 106.70 L360.10 106.70 L360.75 106.70 L361.40 106.70 L362.05 106.70 L362.70 106.70 L363.35 106.70 L363.99 106.70 L364.64 106.70 L365.29 106.70 L365.94 106.70 L366.59 106.70 L367.24 106.70 L367.89 106.70 L368.53 106.70 L369.18 106.70 L369.83 106.70 L370.48 106.70 L371.13 106.70 L371.78 106.70 L372.43 106.70 L373.07 106.70 L373.72 106.70 L374.37 106.70 L375.02 106.70 L375.67 106.70 L376.32 106.70 L376.97 106.70 L377.61 106.70 L378.26 106.70 L378.91 106.70 L379.56 106.70 L380.21 106.70 L380.86 106.70 L381.51 106.70 L382.15 106.70 L382.80 106.70 L383.45 106.70 L384.10 106.70 L384.75 106.70 L385.40 106.70 L386.05 106.70 L386.69 106.70 L387.34 106.70 L387.99 106.70 L388.64 106.70 L389.29 106.70 L389.94 106.70 L390.59 106.70 L391.23 106.70 L391.88 106.70 L392.53 106.70 L393.18 106.70 L393.83 106.70 L394.48 106.70 L395.13 106.70 L395.77 106.70 L396.42 106.70 L397.07 106.70 L397.72 106.70 L398.37 106.70 L399.02 106.70 L399.67 106.70 L400.31 106.70 L400.96 106.70 L401.61 106.70 L402.26 106.70 L402.91 106.70 L403.56 106.70 L404.21 106.70 L404.85 106.70 L405.50 106.70 L406.15 106.70 L406.80 106.70 L407.45 106.70 L408.10 106.70 L408.75 106.70 L409.39 106.70 L410.04 106.70 L410.69 106.70 L411.34 106.70 L411.99 106.70 L412.64 106.70 L413.29 106.70 L413.93 106.70 L414.58 106.70 L415.23 106.70 L415.88 106.70 L416.53 106.70 L417.18 106.70 L417.83 106.70 L418.47 106.70 L419.12 106.70 L419.77 106.70 L420.42 106.70 L421.07 106.70 L421.72 106.70 L422.37 106.70 L423.01 106.70 L423.66 106.70 L424.31 106.70 L424.96 106.70 L425.61 106.70 L426.26 106.70 L426.91 106.70 L427.55 106.70 L428.20 106.70 L428.85 106.70 L429.50 106.70 L430.15 106.70 L430.80 106.70 L431.45 106.70 L432.09 106.70 L432.74 106.70 L433.39 106.70 L434.04 106.70 L434.69 106.70 L435.34 106.70 L435.99 106.70 L436.63 106.70 L437.28 106.70 L437.93 106.70 L438.58 106.70 L439.23 106.70 L439.88 106.70 L440.53 106.70 L441.17 106.70 L441.82 106.70 L442.47 106.70 L443.12 106.70 L443.77 106.70 L444.42 106.70 L445.07 106.70 L445.71 106.70 L446.36 106.70 L447.01 106.70 L447.66 106.70 L448.31 106.70 L448.96 106.70 L449.61 106.70 L450.25 106.70 L450.90 106.70 L451.55 106.70 L452.20 106.70 L452.85 106.70 L453.50 106.70 L454.15 106.70 L454.79 106.70 L455.44 106.70 L456.09 106.70 L456.74 106.70 L457.39 106.70 L458.04 106.70 L458.69 106.70 L459.33 106.70 L459.98 106.70 L460.63 106.70 L461.28 106.70 L461.93 106.70 L462.58 106.70 L463.23 106.70 L463.87 106.70 L464.52 106.70 L465.17 106.70 L465.82 106.70 L466.47 106.70 L467.12 106.70 L467.77 106.70 L468.41 106.70 L469.06 106.70 L469.71 106.70 L470.36 106.70 L471.01 106.70 L471.66 106.70 L472.31 106.70 L472.95 106.70 L473.60 106.70 L474.25 106.70 L474.90 106.70 L475.55 106.70 L476.20 106.70 L476.85 106.70 L477.49 106.70 L478.14 106.70 L478.79 106.70 L479.44 106.70 L480.09 106.70 L480.74 106.70 L481.39 106.70 L482.03 106.70 L482.68 106.70 L483.33 106.70 L483.98 106.70 L484.63 106.70 L485.28 106.70 L485.93 106.70 L486.57 106.70 L487.22 106.70 L487.87 106.70 L488.52 106.70 L489.17 106.70 L489.82 106.70 L490.47 106.70 L491.11 106.70 L491.76 106.70 L492.41 106.70 L493.06 106.70 L493.71 106.70 L494.36 106.70 L495.01 106.70 L495.65 106.70 L496.30 106.70 L496.95 106.70 L497.60 106.70 L498.25 106.70 L498.90 106.70 L499.55 106.70 L500.19 106.70 L500.84 106.70 L501.49 106.70 L502.14 106.70 L502.79 106.70 L503.44 106.70 L504.09 106.70 L504.73 106.70 L505.38 106.70 L506.03 106.70 L506.68 106.70 L507.33 106.70 L507.98 106.70 L508.63 106.70 L509.27 106.70 L509.92 106.70 L510.57 106.70 L511.22 106.70 L511.87 106.70 L512.52 106.70 L513.17 106.70 L513.81 106.70 L514.46 106.70 L515.11 106.70 L515.76 106.70 L516.41 106.70 L517.06 106.70 L517.71 106.70 L518.35 106.70 L519.00 106.70 L519.65 106.70 L520.30 106.70 L520.95 106.70 L521.60 106.70 L522.25 106.70 L522.89 106.70 L523.54 106.70 L524.19 106.70 L524.84 106.70 L525.49 106.70 L526.14 106.70 L526.79 106.70 L527.43 106.70 L528.08 106.70 L528.73 106.70 L529.38 106.70 L530.03 106.70 L530.68 106.70 L531.33 106.70 L531.97 106.70 L532.62 106.70 L533.27 106.70 L533.92 106.70 L534.57 106.70 L535.22 106.70 L535.87 106.70 L536.51 106.70 L537.16 106.70 L537.81 106.70 L538.46 106.70 L539.11 106.70 L539.76 106.70 L540.41 106.70 L541.05 106.70 L541.70 106.70 L542.35 106.70 L543.00 106.70 L543.00 159.50 L542.35 159.50 L541.70 159.50 L541.05 159.50 L540.41 159.50 L539.76 159.50 L539.11 159.50 L538.46 159.50 L537.81 159.50 L537.16 159.50 L536.51 159.50 L535.87 159.50 L535.22 159.50 L534.57 159.50 L533.92 159.50 L533.27 159.50 L532.62 159.50 L531.97 159.50 L531.33 159.50 L530.68 159.50 L530.03 159.50 L529.38 159.50 L528.73 159.50 L528.08 159.50 L527.43 159.50 L526.79 159.50 L526.14 159.50 L525.49 159.50 L524.84 159.50 L524.19 159.50 L523.54 159.50 L522.89 159.50 L522.25 159.50 L521.60 159.50 L520.95 159.50 L520.30 159.50 L519.65 159.50 L519.00 159.50 L518.35 159.50 L517.71 159.50 L517.06 159.50 L516.41 159.50 L515.76 159.50 L515.11 159.50 L514.46 159.50 L513.81 159.50 L513.17 159.50 L512.52 159.50 L511.87 159.50 L511.22 159.50 L510.57 159.50 L509.92 159.50 L509.27 159.50 L508.63 159.50 L507.98 159.50 L507.33 159.50 L506.68 159.50 L506.03 159.50 L505.38 159.50 L504.73 159.50 L504.09 159.50 L503.44 159.50 L502.79 159.50 L502.14 159.50 L501.49 159.50 L500.84 159.50 L500.19 159.50 L499.55 159.50 L498.90 159.50 L498.25 159.50 L497.60 159.50 L496.95 159.50 L496.30 159.50 L495.65 159.50 L495.01 159.50 L494.36 159.50 L493.71 159.50 L493.06 159.50 L492.41 159.50 L491.76 159.50 L491.11 159.50 L490.47 159.50 L489.82 159.50 L489.17 159.50 L488.52 159.50 L487.87 159.50 L487.22 159.50 L486.57 159.50 L485.93 159.50 L485.28 159.50 L484.63 159.50 L483.98 159.50 L483.33 159.50 L482.68 159.50 L482.03 159.50 L481.39 159.50 L480.74 159.50 L480.09 159.50 L479.44 159.50 L478.79 159.50 L478.14 159.50 L477.49 159.50 L476.85 159.50 L476.20 159.50 L475.55 159.50 L474.90 159.50 L474.25 159.50 L473.60 159.50 L472.95 159.50 L472.31 159.50 L471.66 159.50 L471.01 159.50 L470.36 159.50 L469.71 159.50 L469.06 159.50 L468.41 159.50 L467.77 159.50 L467.12 159.50 L466.47 159.50 L465.82 159.50 L465.17 159.50 L464.52 159.50 L463.87 159.50 L463.23 159.50 L462.58 159.50 L461.93 159.50 L461.28 159.50 L460.63 159.50 L459.98 159.50 L459.33 159.50 L458.69 159.50 L458.04 159.50 L457.39 159.50 L456.74 159.50 L456.09 159.50 L455.44 159.50 L454.79 159.50 L454.15 159.50 L453.50 159.50 L452.85 159.50 L452.20 159.50 L451.55 159.50 L450.90 159.50 L450.25 159.50 L449.61 159.50 L448.96 159.50 L448.31 159.50 L447.66 159.50 L447.01 159.50 L446.36 159.50 L445.71 159.50 L445.07 159.50 L444.42 159.50 L443.77 159.50 L443.12 159.50 L442.47 159.50 L441.82 159.50 L441.17 159.50 L440.53 159.50 L439.88 159.50 L439.23 159.50 L438.58 159.50 L437.93 159.50 L437.28 159.50 L436.63 159.50 L435.99 159.50 L435.34 159.50 L434.69 159.50 L434.04 159.50 L433.39 159.50 L432.74 159.50 L432.09 159.50 L431.45 159.50 L430.80 159.50 L430.15 159.50 L429.50 159.50 L428.85 159.50 L428.20 159.50 L427.55 159.50 L426.91 159.50 L426.26 159.50 L425.61 159.50 L424.96 159.50 L424.31 159.50 L423.66 159.50 L423.01 159.50 L422.37 159.50 L421.72 159.50 L421.07 159.50 L420.42 159.50 L419.77 159.50 L419.12 159.50 L418.47 159.50 L417.83 159.50 L417.18 159.50 L416.53 159.50 L415.88 159.50 L415.23 159.50 L414.58 159.50 L413.93 159.50 L413.29 159.50 L412.64 159.50 L411.99 159.50 L411.34 159.50 L410.69 159.50 L410.04 159.50 L409.39 159.50 L408.75 159.50 L408.10 159.50 L407.45 159.50 L406.80 159.50 L406.15 159.50 L405.50 159.50 L404.85 159.50 L404.21 159.50 L403.56 159.50 L402.91 159.50 L402.26 159.50 L401.61 159.50 L400.96 159.50 L400.31 159.50 L399.67 159.50 L399.02 159.50 L398.37 159.50 L397.72 159.50 L397.07 159.50 L396.42 159.50 L395.77 159.50 L395.13 159.50 L394.48 159.50 L393.83 159.50 L393.18 159.50 L392.53 159.50 L391.88 159.50 L391.23 159.50 L390.59 159.50 L389.94 159.50 L389.29 159.50 L388.64 159.50 L387.99 159.50 L387.34 159.50 L386.69 159.50 L386.05 159.50 L385.40 159.50 L384.75 159.50 L384.10 159.50 L383.45 159.50 L382.80 159.50 L382.15 159.50 L381.51 159.50 L380.86 159.50 L380.21 159.50 L379.56 159.50 L378.91 159.50 L378.26 159.50 L377.61 159.50 L376.97 159.50 L376.32 159.50 L375.67 159.50 L375.02 159.50 L374.37 159.50 L373.72 159.50 L373.07 159.50 L372.43 159.50 L371.78 159.50 L371.13 159.50 L370.48 159.50 L369.83 159.50 L369.18 159.50 L368.53 159.50 L367.89 159.50 L367.24 159.50 L366.59 159.50 L365.94 159.50 L365.29 159.50 L364.64 159.50 L363.99 159.50 L363.35 159.50 L362.70 159.50 L362.05 159.50 L361.40 159.50 L360.75 159.50 L360.10 159.50 L359.45 159.50 L358.81 159.50 L358.16 159.50 L357.51 159.50 L356.86 159.50 L356.21 159.50 L355.56 159.50 L354.91 159.50 L354.27 159.50 L353.62 159.50 L352.97 159.50 L352.32 159.50 L351.67 159.50 L351.02 159.50 L350.37 159.50 L349.73 159.50 L349.08 159.50 L348.43 159.50 L347.78 159.50 L347.13 159.50 L346.48 159.50 L345.83 159.50 L345.19 159.50 L344.54 159.50 L343.89 159.50 L343.24 159.50 L342.59 159.50 L341.94 159.50 L341.29 159.50 L340.65 159.50 L340.00 159.50 L339.35 159.50 L338.70 159.50 L338.05 159.50 L337.40 159.50 L336.75 159.50 L336.11 159.50 L335.46 159.50 L334.81 159.50 L334.16 159.50 L333.51 159.50 L332.86 159.50 L332.21 159.50 L331.57 159.50 L330.92 159.50 L330.27 159.50 L329.62 159.50 L328.97 159.50 L328.32 159.50 L327.67 159.50 L327.03 159.50 L326.38 159.50 L325.73 159.50 L325.08 159.50 L324.43 159.50 L323.78 159.50 L323.13 159.50 L322.49 159.50 L321.84 159.50 L321.19 159.50 L320.54 159.50 L319.89 159.50 L319.24 159.50 L318.59 159.50 L317.95 159.50 L317.30 159.50 L316.65 159.50 L316.00 159.50 L315.35 159.50 L314.70 159.50 L314.05 159.50 L313.41 159.50 L312.76 159.50 L312.11 159.50 L311.46 159.50 L310.81 159.50 L310.16 159.50 L309.51 159.50 L308.87 159.50 L308.22 159.50 L307.57 159.50 L306.92 159.50 L306.27 159.50 L305.62 159.50 L304.97 159.50 L304.33 159.50 L303.68 159.50 L303.03 159.50 L302.38 159.50 L301.73 159.50 L301.08 159.50 L300.43 159.50 L299.79 159.50 L299.14 159.50 L298.49 159.50 L297.84 159.50 L297.19 159.50 L296.54 159.50 L295.89 159.50 L295.25 159.50 L294.60 159.50 L293.95 159.50 L293.30 159.50 L292.65 159.50 L292.00 159.50 L291.35 159.50 L290.71 159.50 L290.06 159.50 L289.41 159.50 L288.76 159.50 L288.11 159.50 L287.46 159.50 L286.81 159.50 L286.17 159.50 L285.52 159.50 L284.87 159.50 L284.22 159.50 L283.57 159.50 L282.92 159.50 L282.27 159.50 L281.63 159.50 L280.98 159.50 L280.33 159.50 L279.68 159.50 L279.03 159.50 L278.38 159.50 L277.73 159.50 L277.09 159.50 L276.44 159.50 L275.79 159.50 L275.14 159.50 L274.49 159.50 L273.84 159.50 L273.19 159.50 L272.55 159.50 L271.90 159.50 L271.25 159.50 L270.60 159.50 L269.95 159.50 L269.30 159.50 L268.65 159.50 L268.01 159.50 L267.36 159.50 L266.71 159.50 L266.06 159.50 L265.41 159.50 L264.76 159.50 L264.11 159.50 L263.47 159.50 L262.82 159.50 L262.17 159.50 L261.52 159.50 L260.87 159.50 L260.22 159.50 L259.57 159.50 L258.93 159.50 L258.28 159.50 L257.63 159.50 L256.98 159.50 L256.33 159.50 L255.68 159.50 L255.03 159.50 L254.39 159.50 L253.74 159.50 L253.09 159.50 L252.44 159.50 L251.79 159.50 L251.14 159.50 L250.49 159.50 L249.85 159.50 L249.20 159.50 L248.55 159.50 L247.90 159.50 L247.25 159.50 L246.60 159.50 L245.95 159.50 L245.31 159.50 L244.66 159.50 L244.01 159.50 L243.36 159.50 L242.71 159.50 L242.06 159.50 L241.41 159.50 L240.77 159.50 L240.12 159.50 L239.47 159.50 L238.82 159.50 L238.17 159.50 L237.52 159.50 L236.87 159.50 L236.23 159.50 L235.58 159.50 L234.93 159.50 L234.28 159.50 L233.63 159.50 L232.98 159.50 L232.33 159.50 L231.69 159.50 L231.04 159.50 L230.39 159.50 L229.74 159.50 L229.09 159.50 L228.44 161.19 L227.79 164.01 L227.15 166.83 L226.50 169.65 L225.85 172.47 L225.20 175.29 L224.55 178.11 L223.90 180.93 L223.25 183.75 L222.61 186.57 L221.96 189.39 L221.31 192.21 L220.66 195.04 L220.01 197.86 L219.36 200.68 L218.71 203.50 L218.07 162.32 L217.42 165.14 L216.77 167.96 L216.12 170.78 L215.47 173.60 L214.82 176.42 L214.17 179.24 L213.53 182.06 L212.88 184.88 L212.23 187.70 L211.58 190.52 L210.93 193.34 L210.28 196.16 L209.63 198.98 L208.99 201.80 L208.34 203.50 L207.69 203.50 L207.04 203.50 L206.39 203.50 L205.74 203.50 L205.09 203.50 L204.45 203.50 L203.80 203.50 L203.15 203.50 L202.50 203.50 L201.85 203.50 L201.20 203.50 L200.55 203.50 L199.91 203.50 L199.26 203.50 L198.61 203.50 L197.96 203.50 L197.31 203.50 L196.66 203.50 L196.01 203.50 L195.37 203.50 L194.72 203.50 L194.07 203.50 L193.42 203.50 L192.77 203.50 L192.12 203.50 L191.47 203.50 L190.83 203.50 L190.18 203.50 L189.53 203.50 L188.88 203.50 L188.23 203.50 L187.58 203.50 L186.93 203.50 L186.29 203.50 L185.64 203.50 L184.99 203.50 L184.34 203.50 L183.69 203.50 L183.04 203.50 L182.39 203.50 L181.75 203.50 L181.10 203.50 L180.45 203.50 L179.80 203.50 L179.15 203.50 L178.50 203.50 L177.85 203.50 L177.21 203.50 L176.56 203.50 L175.91 203.50 L175.26 203.50 L174.61 203.50 L173.96 203.50 L173.31 203.50 L172.67 203.50 L172.02 203.50 L171.37 203.50 L170.72 203.50 L170.07 203.50 L169.42 203.50 L168.77 203.50 L168.13 203.50 L167.48 203.50 L166.83 203.50 L166.18 203.50 L165.53 203.50 L164.88 203.50 L164.23 203.50 L163.59 204.17 L162.94 205.30 L162.29 206.43 L161.64 207.56 L160.99 208.69 L160.34 209.82 L159.69 210.94 L159.05 212.07 L158.40 213.20 L157.75 214.33 L157.10 215.46 L156.45 216.59 L155.80 217.72 L155.15 218.84 L154.51 219.97 L153.86 221.10 L153.21 204.63 L152.56 205.75 L151.91 206.88 L151.26 208.01 L150.61 209.14 L149.97 210.27 L149.32 211.40 L148.67 212.52 L148.02 213.65 L147.37 214.78 L146.72 215.91 L146.07 217.04 L145.43 218.17 L144.78 219.30 L144.13 220.42 L143.48 221.10 L142.83 221.10 L142.18 221.10 L141.53 221.10 L140.89 221.10 L140.24 221.10 L139.59 221.10 L138.94 221.10 L138.29 221.10 L137.64 221.10 L136.99 221.10 L136.35 221.10 L135.70 221.10 L135.05 221.10 L134.40 221.10 L133.75 221.10 L133.10 221.10 L132.45 221.10 L131.81 221.10 L131.16 221.10 L130.51 221.10 L129.86 221.10 L129.21 221.10 L128.56 221.10 L127.91 221.10 L127.27 221.10 L126.62 221.10 L125.97 221.10 L125.32 221.10 L124.67 221.10 L124.02 221.10 L123.37 221.10 L122.73 221.10 L122.08 221.10 L121.43 221.10 L120.78 221.10 L120.13 221.10 L119.48 221.10 L118.83 221.10 L118.19 221.10 L117.54 221.10 L116.89 221.10 L116.24 221.10 L115.59 221.10 L114.94 221.10 L114.29 221.10 L113.65 221.10 L113.00 221.10 L112.35 221.10 L111.70 221.10 L111.05 221.10 L110.40 221.10 L109.75 221.10 L109.11 221.10 L108.46 221.10 L107.81 221.10 L107.16 221.10 L106.51 221.10 L105.86 221.10 L105.21 221.10 L104.57 221.10 L103.92 221.10 L103.27 221.10 L102.62 221.10 L101.97 221.10 L101.32 221.10 L100.67 221.10 L100.03 221.10 L99.38 221.10 L98.73 221.10 L98.08 221.10 L97.43 221.10 L96.78 221.10 L96.13 221.10 L95.49 221.10 L94.84 221.10 L94.19 221.10 L93.54 221.10 L92.89 221.10 L92.24 221.10 L91.59 221.10 L90.95 221.10 L90.30 221.10 L89.65 221.10 L89.00 221.10Z" fill="#ff0000" fill-opacity="0.175"/>
<path d="M89.00 106.70 L89.65 106.70 L90.30 106.70 L90.95 106.70 L91.59 106.70 L92.24 106.70 L92.89 106.70 L93.54 106.70 L94.19 106.70 L94.84 106.70 L95.49 106.70 L96.13 106.70 L96.78 106.70 L97.43 106.70 L98.08 106.70 L98.73 106.70 L99.38 106.70 L100.03 106.70 L100.67 106.70 L101.32 106.70 L101.97 106.70 L102.62 106.70 L103.27 106.70 L103.92 106.70 L104.57 106.70 L105.21 106.70 L105.86 106.70 L106.51 106.70 L107.16 106.70 L107.81 106.70 L108.46 106.70 L109.11 106.70 L109.75 106.70 L110.40 106.70 L111.05 106.70 L111.70 106.70 L112.35 106.70 L113.00 106.70 L113.65 106.70 L114.29 106.70 L114.94 106.70 L115.59 106.70 L116.24 106.70 L116.89 106.70 L117.54 106.70 L118.19 106.70 L118.83 106.70 L119.48 106.70 L120.13 106.70 L120.78 106.70 L121.43 106.70 L122.08 106.70 L122.73 106.70 L123.37 106.70 L124.02 106.70 L124.67 106.70 L125.32 106.70 L125.97 106.70 L126.62 106.70 L127.27 106.70 L127.91 106.70 L128.56 106.70 L129.21 106.70 L129.86 106.70 L130.51 106.70 L131.16 106.70 L131.81 106.70 L132.45 106.70 L133.10 106.70 L133.75 106.70 L134.40 106.70 L135.05 106.70 L135.70 106.70 L136.35 106.70 L136.99 106.70 L137.64 106.70 L138.29 106.70 L138.94 106.70 L139.59 106.70 L140.24 106.70 L140.89 106.70 L141.53 106.70 L142.18 106.70 L142.83 106.70 L143.48 106.70 L144.13 108.53 L144.78 111.57 L145.43 114.62 L146.07 117.67 L146.72 120.71 L147.37 123.76 L148.02 126.80 L148.67 129.85 L149.32 132.90 L149.97 135.94 L150.61 138.99 L151.26 142.04 L151.91 145.08 L152.56 148.13 L153.21 151.17 L153.86 106.70 L154.51 109.75 L155.15 112.79 L155.80 115.84 L156.45 118.88 L157.10 121.93 L157.75 124.98 L158.40 128.02 L159.05 131.07 L159.69 134.12 L160.34 137.16 L160.99 140.21 L161.64 143.25 L162.29 146.30 L162.94 149.35 L163.59 152.39 L164.23 154.22 L164.88 154.22 L165.53 154.22 L166.18 154.22 L166.83 154.22 L167.48 154.22 L168.13 154.22 L168.77 154.22 L169.42 154.22 L170.07 154.22 L170.72 154.22 L171.37 154.22 L172.02 154.22 L172.67 154.22 L173.31 154.22 L173.96 154.22 L174.61 154.22 L175.26 154.22 L175.91 154.22 L176.56 154.22 L177.21 154.22 L177.85 154.22 L178.50 154.22 L179.15 154.22 L179.80 154.22 L180.45 154.22 L181.10 154.22 L181.75 154.22 L182.39 154.22 L183.04 154.22 L183.69 154.22 L184.34 154.22 L184.99 154.22 L185.64 154.22 L186.29 154.22 L186.93 154.22 L187.58 154.22 L188.23 154.22 L188.88 154.22 L189.53 154.22 L190.18 154.22 L190.83 154.22 L191.47 154.22 L192.12 154.22 L192.77 154.22 L193.42 154.22 L194.07 154.22 L194.72 154.22 L195.37 154.22 L196.01 154.22 L196.66 154.22 L197.31 154.22 L197.96 154.22 L198.61 154.22 L199.26 154.22 L199.91 154.22 L200.55 154.22 L201.20 154.22 L201.85 154.22 L202.50 154.22 L203.15 154.22 L203.80 154.22 L204.45 154.22 L205.09 154.22 L205.74 154.22 L206.39 154.22 L207.04 154.22 L207.69 154.22 L208.34 154.22 L208.99 155.44 L209.63 157.47 L210.28 159.50 L210.93 161.53 L211.58 163.56 L212.23 165.59 L212.88 167.62 L213.53 169.65 L214.17 171.68 L214.82 173.72 L215.47 175.75 L216.12 177.78 L216.77 179.81 L217.42 181.84 L218.07 183.87 L218.71 154.22 L219.36 156.25 L220.01 158.28 L220.66 160.31 L221.31 162.34 L221.96 164.37 L222.61 166.40 L223.25 168.44 L223.90 170.47 L224.55 172.50 L225.20 174.53 L225.85 176.56 L226.50 178.59 L227.15 180.62 L227.79 182.65 L228.44 184.68 L229.09 185.90 L229.74 185.90 L230.39 185.90 L231.04 185.90 L231.69 185.90 L232.33 185.90 L232.98 185.90 L233.63 185.90 L234.28 185.90 L234.93 185.90 L235.58 185.90 L236.23 185.90 L236.87 185.90 L237.52 185.90 L238.17 185.90 L238.82 185.90 L239.47 185.90 L240.12 185.90 L240.77 185.90 L241.41 185.90 L242.06 185.90 L242.71 185.90 L243.36 185.90 L244.01 185.90 L244.66 185.90 L245.31 185.90 L245.95 185.90 L246.60 185.90 L247.25 185.90 L247.90 185.90 L248.55 185.90 L249.20 185.90 L249.85 185.90 L250.49 185.90 L251.14 185.90 L251.79 185.90 L252.44 185.90 L253.09 185.90 L253.74 185.90 L254.39 185.90 L255.03 185.90 L255.68 185.90 L256.33 185.90 L256.98 185.90 L257.63 185.90 L258.28 185.90 L258.93 185.90 L259.57 185.90 L260.22 185.90 L260.87 185.90 L261.52 185.90 L262.17 185.90 L262.82 185.90 L263.47 185.90 L264.11 185.90 L264.76 185.90 L265.41 185.90 L266.06 185.90 L266.71 185.90 L267.36 185.90 L268.01 185.90 L268.65 185.90 L269.30 185.90 L269.95 185.90 L270.60 185.90 L271.25 185.90 L271.90 185.90 L272.55 185.90 L273.19 185.90 L273.84 185.90 L274.49 185.90 L275.14 185.90 L275.79 185.90 L276.44 185.90 L277.09 185.90 L277.73 185.90 L278.38 185.90 L279.03 185.90 L279.68 185.90 L280.33 185.90 L280.98 185.90 L281.63 185.90 L282.27 185.90 L282.92 185.90 L283.57 185.90 L284.22 185.90 L284.87 185.90 L285.52 185.90 L286.17 185.90 L286.81 185.90 L287.46 185.90 L288.11 185.90 L288.76 185.90 L289.41 185.90 L290.06 185.90 L290.71 185.90 L291.35 185.90 L292.00 185.90 L292.65 185.90 L293.30 185.90 L293.95 185.90 L294.60 185.90 L295.25 185.90 L295.89 185.90 L296.54 185.90 L297.19 185.90 L297.84 185.90 L298.49 185.90 L299.14 185.90 L299.79 185.90 L300.43 185.90 L301.08 185.90 L301.73 185.90 L302.38 185.90 L303.03 185.90 L303.68 185.90 L304.33 185.90 L304.97 185.90 L305.62 185.90 L306.27 185.90 L306.92 185.90 L307.57 185.90 L308.22 185.90 L308.87 185.90 L309.51 185.90 L310.16 185.90 L310.81 185.90 L311.46 185.90 L312.11 185.90 L312.76 185.90 L313.41 185.90 L314.05 185.90 L314.70 185.90 L315.35 185.90 L316.00 185.90 L316.65 185.90 L317.30 185.90 L317.95 185.90 L318.59 185.90 L319.24 185.90 L319.89 185.90 L320.54 185.90 L321.19 185.90 L321.84 185.90 L322.49 185.90 L323.13 185.90 L323.78 185.90 L324.43 185.90 L325.08 185.90 L325.73 185.90 L326.38 185.90 L327.03 185.90 L327.67 185.90 L328.32 185.90 L328.97 185.90 L329.62 185.90 L330.27 185.90 L330.92 185.90 L331.57 185.90 L332.21 185.90 L332.86 185.90 L333.51 185.90 L334.16 185.90 L334.81 185.90 L335.46 185.90 L336.11 185.90 L336.75 185.90 L337.40 185.90 L338.05 185.90 L338.70 185.90 L339.35 185.90 L340.00 185.90 L340.65 185.90 L341.29 185.90 L341.94 185.90 L342.59 185.90 L343.24 185.90 L343.89 185.90 L344.54 185.90 L345.19 185.90 L345.83 185.90 L346.48 185.90 L347.13 185.90 L347.78 185.90 L348.43 185.90 L349.08 185.90 L349.73 185.90 L350.37 185.90 L351.02 185.90 L351.67 185.90 L352.32 185.90 L352.97 185.90 L353.62 185.90 L354.27 185.90 L354.91 185.90 L355.56 185.90 L356.21 185.90 L356.86 185.90 L357.51 185.90 L358.16 185.90 L358.81 185.90 L359.45 185.90 L360.10 185.90 L360.75 185.90 L361.40 185.90 L362.05 185.90 L362.70 185.90 L363.35 185.90 L363.99 185.90 L364.64 185.90 L365.29 185.90 L365.94 185.90 L366.59 185.90 L367.24 185.90 L367.89 185.90 L368.53 185.90 L369.18 185.90 L369.83 185.90 L370.48 185.90 L371.13 185.90 L371.78 185.90 L372.43 185.90 L373.07 185.90 L373.72 185.90 L374.37 185.90 L375.02 185.90 L375.67 185.90 L376.32 185.90 L376.97 185.90 L377.61 185.90 L378.26 185.90 L378.91 185.90 L379.56 185.90 L380.21 185.90 L380.86 185.90 L381.51 185.90 L382.15 185.90 L382.80 185.90 L383.45 185.90 L384.10 185.90 L384.75 185.90 L385.40 185.90 L386.05 185.90 L386.69 185.90 L387.34 185.90 L387.99 185.90 L388.64 185.90 L389.29 185.90 L389.94 185.90 L390.59 185.90 L391.23 185.90 L391.88 185.90 L392.53 185.90 L393.18 185.90 L393.83 185.90 L394.48 185.90 L395.13 185.90 L395.77 185.90 L396.42 185.90 L397.07 185.90 L397.72 185.90 L398.37 185.90 L399.02 185.90 L399.67 185.90 L400.31 185.90 L400.96 185.90 L401.61 185.90 L402.26 185.90 L402.91 185.90 L403.56 185.90 L404.21 185.90 L404.85 185.90 L405.50 185.90 L406.15 185.90 L406.80 185.90 L407.45 185.90 L408.10 185.90 L408.75 185.90 L409.39 185.90 L410.04 185.90 L410.69 185.90 L411.34 185.90 L411.99 185.90 L412.64 185.90 L413.29 185.90 L413.93 185.90 L414.58 185.90 L415.23 185.90 L415.88 185.90 L416.53 185.90 L417.18 185.90 L417.83 185.90 L418.47 185.90 L419.12 185.90 L419.77 185.90 L420.42 185.90 L421.07 185.90 L421.72 185.90 L422.37 185.90 L423.01 185.90 L423.66 185.90 L424.31 185.90 L424.96 185.90 L425.61 185.90 L426.26 185.90 L426.91 185.90 L427.55 185.90 L428.20 185.90 L428.85 185.90 L429.50 185.90 L430.15 185.90 L430.80 185.90 L431.45 185.90 L432.09 185.90 L432.74 185.90 L433.39 185.90 L434.04 185.90 L434.69 185.90 L435.34 185.90 L435.99 185.90 L436.63 185.90 L437.28 185.90 L437.93 185.90 L438.58 185.90 L439.23 185.90 L439.88 185.90 L440.53 185.90 L441.17 185.90 L441.82 185.90 L442.47 185.90 L443.12 185.90 L443.77 185.90 L444.42 185.90 L445.07 185.90 L445.71 185.90 L446.36 185.90 L447.01 185.90 L447.66 185.90 L448.31 185.90 L448.96 185.90 L449.61 185.90 L450.25 185.90 L450.90 185.90 L451.55 185.90 L452.20 185.90 L452.85 185.90 L453.50 185.90 L454.15 185.90 L454.79 185.90 L455.44 185.90 L456.09 185.90 L456.74 185.90 L457.39 185.90 L458.04 185.90 L458.69 185.90 L459.33 185.90 L459.98 185.90 L460.63 185.90 L461.28 185.90 L461.93 185.90 L462.58 185.90 L463.23 185.90 L463.87 185.90 L464.52 185.90 L465.17 185.90 L465.82 185.90 L466.47 185.90 L467.12 185.90 L467.77 185.90 L468.41 185.90 L469.06 185.90 L469.71 185.90 L470.36 185.90 L471.01 185.90 L471.66 185.90 L472.31 185.90 L472.95 185.90 L473.60 185.90 L474.25 185.90 L474.90 185.90 L475.55 185.90 L476.20 185.90 L476.85 185.90 L477.49 185.90 L478.14 185.90 L478.79 185.90 L479.44 185.90 L480.09 185.90 L480.74 185.90 L481.39 185.90 L482.03 185.90 L482.68 185.90 L483.33 185.90 L483.98 185.90 L484.63 185.90 L485.28 185.90 L485.93 185.90 L486.57 185.90 L487.22 185.90 L487.87 185.90 L488.52 185.90 L489.17 185.90 L489.82 185.90 L490.47 185.90 L491.11 185.90 L491.76 185.90 L492.41 185.90 L493.06 185.90 L493.71 185.90 L494.36 185.90 L495.01 185.90 L495.65 185.90 L496.30 185.90 L496.95 185.90 L497.60 185.90 L498.25 185.90 L498.90 185.90 L499.55 185.90 L500.19 185.90 L500.84 185.90 L501.49 185.90 L502.14 185.90 L502.79 185.90 L503.44 185.90 L504.09 185.90 L504.73 185.90 L505.38 185.90 L506.03 185.90 L506.68 185.90 L507.33 185.90 L507.98 185.90 L508.63 185.90 L509.27 185.90 L509.92 185.90 L510.57 185.90 L511.22 185.90 L511.87 185.90 L512.52 185.90 L513.17 185.90 L513.81 185.90 L514.46 185.90 L515.11 185.90 L515.76 185.90 L516.41 185.90 L517.06 185.90 L517.71 185.90 L518.35 185.90 L519.00 185.90 L519.65 185.90 L520.30 185.90 L520.95 185.90 L521.60 185.90 L522.25 185.90 L522.89 185.90 L523.54 185.90 L524.19 185.90 L524.84 185.90 L525.49 185.90 L526.14 185.90 L526.79 185.90 L527.43 185.90 L528.08 185.90 L528.73 185.90 L529.38 185.90 L530.03 185.90 L530.68 185.90 L531.33 185.90 L531.97 185.90 L532.62 185.90 L533.27 185.90 L533.92 185.90 L534.57 185.90 L535.22 185.90 L535.87 185.90 L536.51 185.90 L537.16 185.90 L537.81 185.90 L538.46 185.90 L539.11 185.90 L539.76 185.90 L540.41 185.90 L541.05 185.90 L541.70 185.90 L542.35 185.90 L543.00 185.90 L543.00 217.58 L542.35 217.58 L541.70 217.58 L541.05 217.58 L540.41 217.58 L539.76 217.58 L539.11 217.58 L538.46 217.58 L537.81 217.58 L537.16 217.58 L536.51 217.58 L535.87 217.58 L535.22 217.58 L534.57 217.58 L533.92 217.58 L533.27 217.58 L532.62 217.58 L531.97 217.58 L531.33 217.58 L530.68 217.58 L530.03 217.58 L529.38 217.58 L528.73 217.58 L528.08 217.58 L527.43 217.58 L526.79 217.58 L526.14 217.58 L525.49 217.58 L524.84 217.58 L524.19 217.58 L523.54 217.58 L522.89 217.58 L522.25 217.58 L521.60 217.58 L520.95 217.58 L520.30 217.58 L519.65 217.58 L519.00 217.58 L518.35 217.58 L517.71 217.58 L517.06 217.58 L516.41 217.58 L515.76 217.58 L515.11 217.58 L514.46 217.58 L513.81 217.58 L513.17 217.58 L512.52 217.58 L511.87 217.58 L511.22 217.58 L510.57 217.58 L509.92 217.58 L509.27 217.58 L508.63 217.58 L507.98 217.58 L507.33 217.58 L506.68 217.58 L506.03 217.58 L505.38 217.58 L504.73 217.58 L504.09 217.58 L503.44 217.58 L502.79 217.58 L502.14 217.58 L501.49 217.58 L500.84 217.58 L500.19 217.58 L499.55 217.58 L498.90 217.58 L498.25 217.58 L497.60 217.58 L496.95 217.58 L496.30 217.58 L495.65 217.58 L495.01 217.58 L494.36 217.58 L493.71 217.58 L493.06 217.58 L492.41 217.58 L491.76 217.58 L491.11 217.58 L490.47 217.58 L489.82 217.58 L489.17 217.58 L488.52 217.58 L487.87 217.58 L487.22 217.58 L486.57 217.58 L485.93 217.58 L485.28 217.58 L484.63 217.58 L483.98 217.58 L483.33 217.58 L482.68 217.58 L482.03 217.58 L481.39 217.58 L480.74 217.58 L480.09 217.58 L479.44 217.58 L478.79 217.58 L478.14 217.58 L477.49 217.58 L476.85 217.58 L476.20 217.58 L475.55 217.58 L474.90 217.58 L474.25 217.58 L473.60 217.58 L472.95 217.58 L472.31 217.58 L471.66 217.58 L471.01 217.58 L470.36 217.58 L469.71 217.58 L469.06 217.58 L468.41 217.58 L467.77 217.58 L467.12 217.58 L466.47 217.58 L465.82 217.58 L465.17 217.58 L464.52 217.58 L463.87 217.58 L463.23 217.58 L462.58 217.58 L461.93 217.58 L461.28 217.58 L460.63 217.58 L459.98 217.58 L459.33 217.58 L458.69 217.58 L458.04 217.58 L457.39 217.58 L456.74 217.58 L456.09 217.58 L455.44 217.58 L454.79 217.58 L454.15 217.58 L453.50 217.58 L452.85 217.58 L452.20 217.58 L451.55 217.58 L450.90 217.58 L450.25 217.58 L449.61 217.58 L448.96 217.58 L448.31 217.58 L447.66 217.58 L447.01 217.58 L446.36 217.58 L445.71 217.58 L445.07 217.58 L444.42 217.58 L443.77 217.58 L443.12 217.58 L442.47 217.58 L441.82 217.58 L441.17 217.58 L440.53 217.58 L439.88 217.58 L439.23 217.58 L438.58 217.58 L437.93 217.58 L437.28 217.58 L436.63 217.58 L435.99 217.58 L435.34 217.58 L434.69 217.58 L434.04 217.58 L433.39 217.58 L432.74 217.58 L432.09 217.58 L431.45 217.58 L430.80 217.58 L430.15 217.58 L429.50 217.58 L428.85 217.58 L428.20 217.58 L427.55 217.58 L426.91 217.58 L426.26 217.58 L425.61 217.58 L424.96 217.58 L424.31 217.58 L423.66 217.58 L423.01 217.58 L422.37 217.58 L421.72 217.58 L421.07 217.58 L420.42 217.58 L419.77 217.58 L419.12 217.58 L418.47 217.58 L417.83 217.58 L417.18 217.58 L416.53 217.58 L415.88 217.58 L415.23 217.58 L414.58 217.58 L413.93 217.58 L413.29 217.58 L412.64 217.58 L411.99 217.58 L411.34 217.58 L410.69 217.58 L410.04 217.58 L409.39 217.58 L408.75 217.58 L408.10 217.58 L407.45 217.58 L406.80 217.58 L406.15 217.58 L405.50 217.58 L404.85 217.58 L404.21 217.58 L403.56 217.58 L402.91 217.58 L402.26 217.58 L401.61 217.58 L400.96 217.58 L400.31 217.58 L399.67 217.58 L399.02 217.58 L398.37 217.58 L397.72 217.58 L397.07 217.58 L396.42 217.58 L395.77 217.58 L395.13 217.58 L394.48 217.58 L393.83 217.58 L393.18 217.58 L392.53 217.58 L391.88 217.58 L391.23 217.58 L390.59 217.58 L389.94 217.58 L389.29 217.58 L388.64 217.58 L387.99 217.58 L387.34 217.58 L386.69 217.58 L386.05 217.58 L385.40 217.58 L384.75 217.58 L384.10 217.58 L383.45 217.58 L382.80 217.58 L382.15 217.58 L381.51 217.58 L380.86 217.58 L380.21 217.58 L379.56 217.58 L378.91 217.58 L378.26 217.58 L377.61 217.58 L376.97 217.58 L376.32 217.58 L375.67 217.58 L375.02 217.58 L374.37 217.58 L373.72 217.58 L373.07 217.58 L372.43 217.58 L371.78 217.58 L371.13 217.58 L370.48 217.58 L369.83 217.58 L369.18 217.58 L368.53 217.58 L367.89 217.58 L367.24 217.58 L366.59 217.58 L365.94 217.58 L365.29 217.58 L364.64 217.58 L363.99 217.58 L363.35 217.58 L362.70 217.58 L362.05 217.58 L361.40 217.58 L360.75 217.58 L360.10 217.58 L359.45 217.58 L358.81 217.58 L358.16 217.58 L357.51 217.58 L356.86 217.58 L356.21 217.58 L355.56 217.58 L354.91 217.58 L354.27 217.58 L353.62 217.58 L352.97 217.58 L352.32 217.58 L351.67 217.58 L351.02 217.58 L350.37 217.58 L349.73 217.58 L349.08 217.58 L348.43 217.58 L347.78 217.58 L347.13 217.58 L346.48 217.58 L345.83 217.58 L345.19 217.58 L344.54 217.58 L343.89 217.58 L343.24 217.58 L342.59 217.58 L341.94 217.58 L341.29 217.58 L340.65 217.58 L340.00 217.58 L339.35 217.58 L338.70 217.58 L338.05 217.58 L337.40 217.58 L336.75 217.58 L336.11 217.58 L335.46 217.58 L334.81 217.58 L334.16 217.58 L333.51 217.58 L332.86 217.58 L332.21 217.58 L331.57 217.58 L330.92 217.58 L330.27 217.58 L329.62 217.58 L328.97 217.58 L328.32 217.58 L327.67 217.58 L327.03 217.58 L326.38 217.58 L325.73 217.58 L325.08 217.58 L324.43 217.58 L323.78 217.58 L323.13 217.58 L322.49 217.58 L321.84 217.58 L321.19 217.58 L320.54 217.58 L319.89 217.58 L319.24 217.58 L318.59 217.58 L317.95 217.58 L317.30 217.58 L316.65 217.58 L316.00 217.58 L315.35 217.58 L314.70 217.58 L314.05 217.58 L313.41 217.58 L312.76 217.58 L312.11 217.58 L311.46 217.58 L310.81 217.58 L310.16 217.58 L309.51 217.58 L308.87 217.58 L308.22 217.58 L307.57 217.58 L306.92 217.58 L306.27 217.58 L305.62 217.58 L304.97 217.58 L304.33 217.58 L303.68 217.58 L303.03 217.58 L302.38 217.58 L301.73 217.58 L301.08 217.58 L300.43 217.58 L299.79 217.58 L299.14 217.58 L298.49 217.58 L297.84 217.58 L297.19 217.58 L296.54 217.58 L295.89 217.58 L295.25 217.58 L294.60 217.58 L293.95 217.58 L293.30 217.58 L292.65 217.58 L292.00 217.58 L291.35 217.58 L290.71 217.58 L290.06 217.58 L289.41 217.58 L288.76 217.58 L288.11 217.58 L287.46 217.58 L286.81 217.58 L286.17 217.58 L285.52 217.58 L284.87 217.58 L284.22 217.58 L283.57 217.58 L282.92 217.58 L282.27 217.58 L281.63 217.58 L280.98 217.58 L280.33 217.58 L279.68 217.58 L279.03 217.58 L278.38 217.58 L277.73 217.58 L277.09 217.58 L276.44 217.58 L275.79 217.58 L275.14 217.58 L274.49 217.58 L273.84 217.58 L273.19 217.58 L272.55 217.58 L271.90 217.58 L271.25 217.58 L270.60 217.58 L269.95 217.58 L269.30 217.58 L268.65 217.58 L268.01 217.58 L267.36 217.58 L266.71 217.58 L266.06 217.58 L265.41 217.58 L264.76 217.58 L264.11 217.58 L263.47 217.58 L262.82 217.58 L262.17 217.58 L261.52 217.58 L260.87 217.58 L260.22 217.58 L259.57 217.58 L258.93 217.58 L258.28 217.58 L257.63 217.58 L256.98 217.58 L256.33 217.58 L255.68 217.58 L255.03 217.58 L254.39 217.58 L253.74 217.58 L253.09 217.58 L252.44 217.58 L251.79 217.58 L251.14 217.58 L250.49 217.58 L249.85 217.58 L249.20 217.58 L248.55 217.58 L247.90 217.58 L247.25 217.58 L246.60 217.58 L245.95 217.58 L245.31 217.58 L244.66 217.58 L244.01 217.58 L243.36 217.58 L242.71 217.58 L242.06 217.58 L241.41 217.58 L240.77 217.58 L240.12 217.58 L239.47 217.58 L238.82 217.58 L238.17 217.58 L237.52 217.58 L236.87 217.58 L236.23 217.58 L235.58 217.58 L234.93 217.58 L234.28 217.58 L233.63 217.58 L232.98 217.58 L232.33 217.58 L231.69 217.58 L231.04 217.58 L230.39 217.58 L229.74 217.58 L229.09 217.58 L228.44 216.97 L227.79 215.96 L227.15 214.94 L226.50 213.92 L225.85 212.91 L225.20 211.89 L224.55 210.88 L223.90 209.86 L223.25 208.85 L222.61 207.83 L221.96 206.82 L221.31 205.80 L220.66 204.79 L220.01 203.77 L219.36 202.76 L218.71 201.74 L218.07 216.56 L217.42 215.55 L216.77 214.53 L216.12 213.52 L215.47 212.50 L214.82 211.49 L214.17 210.47 L213.53 209.46 L212.88 208.44 L212.23 207.43 L211.58 206.41 L210.93 205.40 L210.28 204.38 L209.63 203.36 L208.99 202.35 L208.34 201.74 L207.69 201.74 L207.04 201.74 L206.39 201.74 L205.74 201.74 L205.09 201.74 L204.45 201.74 L203.80 201.74 L203.15 201.74 L202.50 201.74 L201.85 201.74 L201.20 201.74 L200.55 201.74 L199.91 201.74 L199.26 201.74 L198.61 201.74 L197.96 201.74 L197.31 201.74 L196.66 201.74 L196.01 201.74 L195.37 201.74 L194.72 201.74 L194.07 201.74 L193.42 201.74 L192.77 201.74 L192.12 201.74 L191.47 201.74 L190.83 201.74 L190.18 201.74 L189.53 201.74 L188.88 201.74 L188.23 201.74 L187.58 201.74 L186.93 201.74 L186.29 201.74 L185.64 201.74 L184.99 201.74 L184.34 201.74 L183.69 201.74 L183.04 201.74 L182.39 201.74 L181.75 201.74 L181.10 201.74 L180.45 201.74 L179.80 201.74 L179.15 201.74 L178.50 201.74 L177.85 201.74 L177.21 201.74 L176.56 201.74 L175.91 201.74 L175.26 201.74 L174.61 201.74 L173.96 201.74 L173.31 201.74 L172.67 201.74 L172.02 201.74 L171.37 201.74 L170.72 201.74 L170.07 201.74 L169.42 201.74 L168.77 201.74 L168.13 201.74 L167.48 201.74 L166.83 201.74 L166.18 201.74 L165.53 201.74 L164.88 201.74 L164.23 201.74 L163.59 199.91 L162.94 196.87 L162.29 193.82 L161.64 190.77 L160.99 187.73 L160.34 184.68 L159.69 181.64 L159.05 178.59 L158.40 175.54 L157.75 172.50 L157.10 169.45 L156.45 166.40 L155.80 163.36 L155.15 160.31 L154.51 157.27 L153.86 154.22 L153.21 198.69 L152.56 195.65 L151.91 192.60 L151.26 189.56 L150.61 186.51 L149.97 183.46 L149.32 180.42 L148.67 177.37 L148.02 174.32 L147.37 171.28 L146.72 168.23 L146.07 165.19 L145.43 162.14 L144.78 159.09 L144.13 156.05 L143.48 154.22 L142.83 154.22 L142.18 154.22 L141.53 154.22 L140.89 154.22 L140.24 154.22 L139.59 154.22 L138.94 154.22 L138.29 154.22 L137.64 154.22 L136.99 154.22 L136.35 154.22 L135.70 154.22 L135.05 154.22 L134.40 154.22 L133.75 154.22 L133.10 154.22 L132.45 154.22 L131.81 154.22 L131.16 154.22 L130.51 154.22 L129.86 154.22 L129.21 154.22 L128.56 154.22 L127.91 154.22 L127.27 154.22 L126.62 154.22 L125.97 154.22 L125.32 154.22 L124.67 154.22 L124.02 154.22 L123.37 154.22 L122.73 154.22 L122.08 154.22 L121.43 154.22 L120.78 154.22 L120.13 154.22 L119.48 154.22 L118.83 154.22 L118.19 154.22 L117.54 154.22 L116.89 154.22 L116.24 154.22 L115.59 154.22 L114.94 154.22 L114.29 154.22 L113.65 154.22 L113.00 154.22 L112.35 154.22 L111.70 154.22 L111.05 154.22 L110.40 154.22 L109.75 154.22 L109.11 154.22 L108.46 154.22 L107.81 154.22 L107.16 154.22 L106.51 154.22 L105.86 154.22 L105.21 154.22 L104.57 154.22 L103.92 154.22 L103.27 154.22 L102.62 154.22 L101.97 154.22 L101.32 154.22 L100.67 154.22 L100.03 154.22 L99.38 154.22 L98.73 154.22 L98.08 154.22 L97.43 154.22 L96.78 154.22 L96.13 154.22 L95.49 154.22 L94.84 154.22 L94.19 154.22 L93.54 154.22 L92.89 154.22 L92.24 154.22 L91.59 154.22 L90.95 154.22 L90.30 154.22 L89.65 154.22 L89.00 154.22Z" fill="#3cb371" fill-opacity="0.26"/>
<path d="M89.00 165.53 L89.65 165.53 L90.30 165.53 L90.95 165.53 L91.59 165.53 L92.24 165.53 L92.89 165.53 L93.54 165.53 L94.19 165.53 L94.84 165.53 L95.49 165.53 L96.13 165.53 L96.78 165.53 L97.43 165.53 L98.08 165.53 L98.73 165.53 L99.38 165.53 L100.03 165.53 L100.67 165.53 L101.32 165.53 L101.97 165.53 L102.62 165.53 L103.27 165.53 L103.92 165.53 L104.57 165.53 L105.21 165.53 L105.86 165.53 L106.51 165.53 L107.16 165.53 L107.81 165.53 L108.46 165.53 L109.11 165.53 L109.75 165.53 L110.40 165.53 L111.05 165.53 L111.70 165.53 L112.35 165.53 L113.00 165.53 L113.65 165.53 L114.29 165.53 L114.94 165.53 L115.59 165.53 L116.24 165.53 L116.89 165.53 L117.54 165.53 L118.19 165.53 L118.83 165.53 L119.48 165.53 L120.13 165.53 L120.78 165.53 L121.43 165.53 L122.08 165.53 L122.73 165.53 L123.37 165.53 L124.02 165.53 L124.67 165.53 L125.32 165.53 L125.97 165.53 L126.62 165.53 L127.27 165.53 L127.91 165.53 L128.56 165.53 L129.21 165.53 L129.86 165.53 L130.51 165.53 L131.16 165.53 L131.81 165.53 L132.45 165.53 L133.10 165.53 L133.75 165.53 L134.40 165.53 L135.05 165.53 L135.70 165.53 L136.35 165.53 L136.99 165.53 L137.64 165.53 L138.29 165.53 L138.94 165.53 L139.59 165.53 L140.24 165.53 L140.89 165.53 L141.53 165.53 L142.18 165.53 L142.83 165.53 L143.48 165.53 L144.13 164.49 L144.78 162.75 L145.43 161.01 L146.07 159.27 L146.72 157.53 L147.37 155.78 L148.02 154.04 L148.67 152.30 L149.32 150.56 L149.97 148.82 L150.61 147.08 L151.26 145.34 L151.91 143.60 L152.56 141.86 L153.21 140.12 L153.86 165.53 L154.51 163.79 L155.15 162.05 L155.80 160.31 L156.45 158.57 L157.10 156.83 L157.75 155.09 L158.40 153.35 L159.05 151.61 L159.69 149.87 L160.34 148.13 L160.99 146.39 L161.64 144.65 L162.29 142.91 L162.94 141.16 L163.59 139.42 L164.23 138.38 L164.88 138.38 L165.53 138.38 L166.18 138.38 L166.83 138.38 L167.48 138.38 L168.13 138.38 L168.77 138.38 L169.42 138.38 L170.07 138.38 L170.72 138.38 L171.37 138.38 L172.02 138.38 L172.67 138.38 L173.31 138.38 L173.96 138.38 L174.61 138.38 L175.26 138.38 L175.91 138.38 L176.56 138.38 L177.21 138.38 L177.85 138.38 L178.50 138.38 L179.15 138.38 L179.80 138.38 L180.45 138.38 L181.10 138.38 L181.75 138.38 L182.39 138.38 L183.04 138.38 L183.69 138.38 L184.34 138.38 L184.99 138.38 L185.64 138.38 L186.29 138.38 L186.93 138.38 L187.58 138.38 L188.23 138.38 L188.88 138.38 L189.53 138.38 L190.18 138.38 L190.83 138.38 L191.47 138.38 L192.12 138.38 L192.77 138.38 L193.42 138.38 L194.07 138.38 L194.72 138.38 L195.37 138.38 L196.01 138.38 L196.66 138.38 L197.31 138.38 L197.96 138.38 L198.61 138.38 L199.26 138.38 L199.91 138.38 L200.55 138.38 L201.20 138.38 L201.85 138.38 L202.50 138.38 L203.15 138.38 L203.80 138.38 L204.45 138.38 L205.09 138.38 L205.74 138.38 L206.39 138.38 L207.04 138.38 L207.69 138.38 L208.34 138.38 L208.99 137.16 L209.63 135.13 L210.28 133.10 L210.93 131.07 L211.58 129.04 L212.23 127.01 L212.88 124.98 L213.53 122.95 L214.17 120.92 L214.82 118.88 L215.47 116.85 L216.12 114.82 L216.77 112.79 L217.42 110.76 L218.07 108.73 L218.71 138.38 L219.36 136.35 L220.01 134.32 L220.66 132.29 L221.31 130.26 L221.96 128.23 L222.61 126.20 L223.25 124.16 L223.90 122.13 L224.55 120.10 L225.20 118.07 L225.85 116.04 L226.50 114.01 L227.15 111.98 L227.79 109.95 L228.44 107.92 L229.09 106.70 L229.74 106.70 L230.39 106.70 L231.04 106.70 L231.69 106.70 L232.33 106.70 L232.98 106.70 L233.63 106.70 L234.28 106.70 L234.93 106.70 L235.58 106.70 L236.23 106.70 L236.87 106.70 L237.52 106.70 L238.17 106.70 L238.82 106.70 L239.47 106.70 L240.12 106.70 L240.77 106.70 L241.41 106.70 L242.06 106.70 L242.71 106.70 L243.36 106.70 L244.01 106.70 L244.66 106.70 L245.31 106.70 L245.95 106.70 L246.60 106.70 L247.25 106.70 L247.90 106.70 L248.55 106.70 L249.20 106.70 L249.85 106.70 L250.49 106.70 L251.14 106.70 L251.79 106.70 L252.44 106.70 L253.09 106.70 L253.74 106.70 L254.39 106.70 L255.03 106.70 L255.68 106.70 L256.33 106.70 L256.98 106.70 L257.63 106.70 L258.28 106.70 L258.93 106.70 L259.57 106.70 L260.22 106.70 L260.87 106.70 L261.52 106.70 L262.17 106.70 L262.82 106.70 L263.47 106.70 L264.11 106.70 L264.76 106.70 L265.41 106.70 L266.06 106.70 L266.71 106.70 L267.36 106.70 L268.01 106.70 L268.65 106.70 L269.30 106.70 L269.95 106.70 L270.60 106.70 L271.25 106.70 L271.90 106.70 L272.55 106.70 L273.19 106.70 L273.84 106.70 L274.49 106.70 L275.14 106.70 L275.79 106.70 L276.44 106.70 L277.09 106.70 L277.73 106.70 L278.38 106.70 L279.03 106.70 L279.68 106.70 L280.33 106.70 L280.98 106.70 L281.63 106.70 L282.27 106.70 L282.92 106.70 L283.57 106.70 L284.22 106.70 L284.87 106.70 L285.52 106.70 L286.17 106.70 L286.81 106.70 L287.46 106.70 L288.11 106.70 L288.76 106.70 L289.41 106.70 L290.06 106.70 L290.71 106.70 L291.35 106.70 L292.00 106.70 L292.65 106.70 L293.30 106.70 L293.95 106.70 L294.60 106.70 L295.25 106.70 L295.89 106.70 L296.54 106.70 L297.19 106.70 L297.84 106.70 L298.49 106.70 L299.14 106.70 L299.79 106.70 L300.43 106.70 L301.08 106.70 L301.73 106.70 L302.38 106.70 L303.03 106.70 L303.68 106.70 L304.33 106.70 L304.97 106.70 L305.62 106.70 L306.27 106.70 L306.92 106.70 L307.57 106.70 L308.22 106.70 L308.87 106.70 L309.51 106.70 L310.16 106.70 L310.81 106.70 L311.46 106.70 L312.11 106.70 L312.76 106.70 L313.41 106.70 L314.05 106.70 L314.70 106.70 L315.35 106.70 L316.00 106.70 L316.65 106.70 L317.30 106.70 L317.95 106.70 L318.59 106.70 L319.24 106.70 L319.89 106.70 L320.54 106.70 L321.19 106.70 L321.84 106.70 L322.49 106.70 L323.13 106.70 L323.78 106.70 L324.43 106.70 L325.08 106.70 L325.73 106.70 L326.38 106.70 L327.03 106.70 L327.67 106.70 L328.32 106.70 L328.97 106.70 L329.62 106.70 L330.27 106.70 L330.92 106.70 L331.57 106.70 L332.21 106.70 L332.86 106.70 L333.51 106.70 L334.16 106.70 L334.81 106.70 L335.46 106.70 L336.11 106.70 L336.75 106.70 L337.40 106.70 L338.05 106.70 L338.70 106.70 L339.35 106.70 L340.00 106.70 L340.65 106.70 L341.29 106.70 L341.94 106.70 L342.59 106.70 L343.24 106.70 L343.89 106.70 L344.54 106.70 L345.19 106.70 L345.83 106.70 L346.48 106.70 L347.13 106.70 L347.78 106.70 L348.43 106.70 L349.08 106.70 L349.73 106.70 L350.37 106.70 L351.02 106.70 L351.67 106.70 L352.32 106.70 L352.97 106.70 L353.62 106.70 L354.27 106.70 L354.91 106.70 L355.56 106.70 L356.21 106.70 L356.86 106.70 L357.51 106.70 L358.16 106.70 L358.81 106.70 L359.45 106.70 L360.10 106.70 L360.75 106.70 L361.40 106.70 L362.05 106.70 L362.70 106.70 L363.35 106.70 L363.99 106.70 L364.64 106.70 L365.29 106.70 L365.94 106.70 L366.59 106.70 L367.24 106.70 L367.89 106.70 L368.53 106.70 L369.18 106.70 L369.83 106.70 L370.48 106.70 L371.13 106.70 L371.78 106.70 L372.43 106.70 L373.07 106.70 L373.72 106.70 L374.37 106.70 L375.02 106.70 L375.67 106.70 L376.32 106.70 L376.97 106.70 L377.61 106.70 L378.26 106.70 L378.91 106.70 L379.56 106.70 L380.21 106.70 L380.86 106.70 L381.51 106.70 L382.15 106.70 L382.80 106.70 L383.45 106.70 L384.10 106.70 L384.75 106.70 L385.40 106.70 L386.05 106.70 L386.69 106.70 L387.34 106.70 L387.99 106.70 L388.64 106.70 L389.29 106.70 L389.94 106.70 L390.59 106.70 L391.23 106.70 L391.88 106.70 L392.53 106.70 L393.18 106.70 L393.83 106.70 L394.48 106.70 L395.13 106.70 L395.77 106.70 L396.42 106.70 L397.07 106.70 L397.72 106.70 L398.37 106.70 L399.02 106.70 L399.67 106.70 L400.31 106.70 L400.96 106.70 L401.61 106.70 L402.26 106.70 L402.91 106.70 L403.56 106.70 L404.21 106.70 L404.85 106.70 L405.50 106.70 L406.15 106.70 L406.80 106.70 L407.45 106.70 L408.10 106.70 L408.75 106.70 L409.39 106.70 L410.04 106.70 L410.69 106.70 L411.34 106.70 L411.99 106.70 L412.64 106.70 L413.29 106.70 L413.93 106.70 L414.58 106.70 L415.23 106.70 L415.88 106.70 L416.53 106.70 L417.18 106.70 L417.83 106.70 L418.47 106.70 L419.12 106.70 L419.77 106.70 L420.42 106.70 L421.07 106.70 L421.72 106.70 L422.37 106.70 L423.01 106.70 L423.66 106.70 L424.31 106.70 L424.96 106.70 L425.61 106.70 L426.26 106.70 L426.91 106.70 L427.55 106.70 L428.20 106.70 L428.85 106.70 L429.50 106.70 L430.15 106.70 L430.80 106.70 L431.45 106.70 L432.09 106.70 L432.74 106.70 L433.39 106.70 L434.04 106.70 L434.69 106.70 L435.34 106.70 L435.99 106.70 L436.63 106.70 L437.28 106.70 L437.93 106.70 L438.58 106.70 L439.23 106.70 L439.88 106.70 L440.53 106.70 L441.17 106.70 L441.82 106.70 L442.47 106.70 L443.12 106.70 L443.77 106.70 L444.42 106.70 L445.07 106.70 L445.71 106.70 L446.36 106.70 L447.01 106.70 L447.66 106.70 L448.31 106.70 L448.96 106.70 L449.61 106.70 L450.25 106.70 L450.90 106.70 L451.55 106.70 L452.20 106.70 L452.85 106.70 L453.50 106.70 L454.15 106.70 L454.79 106.70 L455.44 106.70 L456.09 106.70 L456.74 106.70 L457.39 106.70 L458.04 106.70 L458.69 106.70 L459.33 106.70 L459.98 106.70 L460.63 106.70 L461.28 106.70 L461.93 106.70 L462.58 106.70 L463.23 106.70 L463.87 106.70 L464.52 106.70 L465.17 106.70 L465.82 106.70 L466.47 106.70 L467.12 106.70 L467.77 106.70 L468.41 106.70 L469.06 106.70 L469.71 106.70 L470.36 106.70 L471.01 106.70 L471.66 106.70 L472.31 106.70 L472.95 106.70 L473.60 106.70 L474.25 106.70 L474.90 106.70 L475.55 106.70 L476.20 106.70 L476.85 106.70 L477.49 106.70 L478.14 106.70 L478.79 106.70 L479.44 106.70 L480.09 106.70 L480.74 106.70 L481.39 106.70 L482.03 106.70 L482.68 106.70 L483.33 106.70 L483.98 106.70 L484.63 106.70 L485.28 106.70 L485.93 106.70 L486.57 106.70 L487.22 106.70 L487.87 106.70 L488.52 106.70 L489.17 106.70 L489.82 106.70 L490.47 106.70 L491.11 106.70 L491.76 106.70 L492.41 106.70 L493.06 106.70 L493.71 106.70 L494.36 106.70 L495.01 106.70 L495.65 106.70 L496.30 106.70 L496.95 106.70 L497.60 106.70 L498.25 106.70 L498.90 106.70 L499.55 106.70 L500.19 106.70 L500.84 106.70 L501.49 106.70 L502.14 106.70 L502.79 106.70 L503.44 106.70 L504.09 106.70 L504.73 106.70 L505.38 106.70 L506.03 106.70 L506.68 106.70 L507.33 106.70 L507.98 106.70 L508.63 106.70 L509.27 106.70 L509.92 106.70 L510.57 106.70 L511.22 106.70 L511.87 106.70 L512.52 106.70 L513.17 106.70 L513.81 106.70 L514.46 106.70 L515.11 106.70 L515.76 106.70 L516.41 106.70 L517.06 106.70 L517.71 106.70 L518.35 106.70 L519.00 106.70 L519.65 106.70 L520.30 106.70 L520.95 106.70 L521.60 106.70 L522.25 106.70 L522.89 106.70 L523.54 106.70 L524.19 106.70 L524.84 106.70 L525.49 106.70 L526.14 106.70 L526.79 106.70 L527.43 106.70 L528.08 106.70 L528.73 106.70 L529.38 106.70 L530.03 106.70 L530.68 106.70 L531.33 106.70 L531.97 106.70 L532.62 106.70 L533.27 106.70 L533.92 106.70 L534.57 106.70 L535.22 106.70 L535.87 106.70 L536.51 106.70 L537.16 106.70 L537.81 106.70 L538.46 106.70 L539.11 106.70 L539.76 106.70 L540.41 106.70 L541.05 106.70 L541.70 106.70 L542.35 106.70 L543.00 106.70 L543.00 151.96 L542.35 151.96 L541.70 151.96 L541.05 151.96 L540.41 151.96 L539.76 151.96 L539.11 151.96 L538.46 151.96 L537.81 151.96 L537.16 151.96 L536.51 151.96 L535.87 151.96 L535.22 151.96 L534.57 151.96 L533.92 151.96 L533.27 151.96 L532.62 151.96 L531.97 151.96 L531.33 151.96 L530.68 151.96 L530.03 151.96 L529.38 151.96 L528.73 151.96 L528.08 151.96 L527.43 151.96 L526.79 151.96 L526.14 151.96 L525.49 151.96 L524.84 151.96 L524.19 151.96 L523.54 151.96 L522.89 151.96 L522.25 151.96 L521.60 151.96 L520.95 151.96 L520.30 151.96 L519.65 151.96 L519.00 151.96 L518.35 151.96 L517.71 151.96 L517.06 151.96 L516.41 151.96 L515.76 151.96 L515.11 151.96 L514.46 151.96 L513.81 151.96 L513.17 151.96 L512.52 151.96 L511.87 151.96 L511.22 151.96 L510.57 151.96 L509.92 151.96 L509.27 151.96 L508.63 151.96 L507.98 151.96 L507.33 151.96 L506.68 151.96 L506.03 151.96 L505.38 151.96 L504.73 151.96 L504.09 151.96 L503.44 151.96 L502.79 151.96 L502.14 151.96 L501.49 151.96 L500.84 151.96 L500.19 151.96 L499.55 151.96 L498.90 151.96 L498.25 151.96 L497.60 151.96 L496.95 151.96 L496.30 151.96 L495.65 151.96 L495.01 151.96 L494.36 151.96 L493.71 151.96 L493.06 151.96 L492.41 151.96 L491.76 151.96 L491.11 151.96 L490.47 151.96 L489.82 151.96 L489.17 151.96 L488.52 151.96 L487.87 151.96 L487.22 151.96 L486.57 151.96 L485.93 151.96 L485.28 151.96 L484.63 151.96 L483.98 151.96 L483.33 151.96 L482.68 151.96 L482.03 151.96 L481.39 151.96 L480.74 151.96 L480.09 151.96 L479.44 151.96 L478.79 151.96 L478.14 151.96 L477.49 151.96 L476.85 151.96 L476.20 151.96 L475.55 151.96 L474.90 151.96 L474.25 151.96 L473.60 151.96 L472.95 151.96 L472.31 151.96 L471.66 151.96 L471.01 151.96 L470.36 151.96 L469.71 151.96 L469.06 151.96 L468.41 151.96 L467.77 151.96 L467.12 151.96 L466.47 151.96 L465.82 151.96 L465.17 151.96 L464.52 151.96 L463.87 151.96 L463.23 151.96 L462.58 151.96 L461.93 151.96 L461.28 151.96 L460.63 151.96 L459.98 151.96 L459.33 151.96 L458.69 151.96 L458.04 151.96 L457.39 151.96 L456.74 151.96 L456.09 151.96 L455.44 151.96 L454.79 151.96 L454.15 151.96 L453.50 151.96 L452.85 151.96 L452.20 151.96 L451.55 151.96 L450.90 151.96 L450.25 151.96 L449.61 151.96 L448.96 151.96 L448.31 151.96 L447.66 151.96 L447.01 151.96 L446.36 151.96 L445.71 151.96 L445.07 151.96 L444.42 151.96 L443.77 151.96 L443.12 151.96 L442.47 151.96 L441.82 151.96 L441.17 151.96 L440.53 151.96 L439.88 151.96 L439.23 151.96 L438.58 151.96 L437.93 151.96 L437.28 151.96 L436.63 151.96 L435.99 151.96 L435.34 151.96 L434.69 151.96 L434.04 151.96 L433.39 151.96 L432.74 151.96 L432.09 151.96 L431.45 151.96 L430.80 151.96 L430.15 151.96 L429.50 151.96 L428.85 151.96 L428.20 151.96 L427.55 151.96 L426.91 151.96 L426.26 151.96 L425.61 151.96 L424.96 151.96 L424.31 151.96 L423.66 151.96 L423.01 151.96 L422.37 151.96 L421.72 151.96 L421.07 151.96 L420.42 151.96 L419.77 151.96 L419.12 151.96 L418.47 151.96 L417.83 151.96 L417.18 151.96 L416.53 151.96 L415.88 151.96 L415.23 151.96 L414.58 151.96 L413.93 151.96 L413.29 151.96 L412.64 151.96 L411.99 151.96 L411.34 151.96 L410.69 151.96 L410.04 151.96 L409.39 151.96 L408.75 151.96 L408.10 151.96 L407.45 151.96 L406.80 151.96 L406.15 151.96 L405.50 151.96 L404.85 151.96 L404.21 151.96 L403.56 151.96 L402.91 151.96 L402.26 151.96 L401.61 151.96 L400.96 151.96 L400.31 151.96 L399.67 151.96 L399.02 151.96 L398.37 151.96 L397.72 151.96 L397.07 151.96 L396.42 151.96 L395.77 151.96 L395.13 151.96 L394.48 151.96 L393.83 151.96 L393.18 151.96 L392.53 151.96 L391.88 151.96 L391.23 151.96 L390.59 151.96 L389.94 151.96 L389.29 151.96 L388.64 151.96 L387.99 151.96 L387.34 151.96 L386.69 151.96 L386.05 151.96 L385.40 151.96 L384.75 151.96 L384.10 151.96 L383.45 151.96 L382.80 151.96 L382.15 151.96 L381.51 151.96 L380.86 151.96 L380.21 151.96 L379.56 151.96 L378.91 151.96 L378.26 151.96 L377.61 151.96 L376.97 151.96 L376.32 151.96 L375.67 151.96 L375.02 151.96 L374.37 151.96 L373.72 151.96 L373.07 151.96 L372.43 151.96 L371.78 151.96 L371.13 151.96 L370.48 151.96 L369.83 151.96 L369.18 151.96 L368.53 151.96 L367.89 151.96 L367.24 151.96 L366.59 151.96 L365.94 151.96 L365.29 151.96 L364.64 151.96 L363.99 151.96 L363.35 151.96 L362.70 151.96 L362.05 151.96 L361.40 151.96 L360.75 151.96 L360.10 151.96 L359.45 151.96 L358.81 151.96 L358.16 151.96 L357.51 151.96 L356.86 151.96 L356.21 151.96 L355.56 151.96 L354.91 151.96 L354.27 151.96 L353.62 151.96 L352.97 151.96 L352.32 151.96 L351.67 151.96 L351.02 151.96 L350.37 151.96 L349.73 151.96 L349.08 151.96 L348.43 151.96 L347.78 151.96 L347.13 151.96 L346.48 151.96 L345.83 151.96 L345.19 151.96 L344.54 151.96 L343.89 151.96 L343.24 151.96 L342.59 151.96 L341.94 151.96 L341.29 151.96 L340.65 151.96 L340.00 151.96 L339.35 151.96 L338.70 151.96 L338.05 151.96 L337.40 151.96 L336.75 151.96 L336.11 151.96 L335.46 151.96 L334.81 151.96 L334.16 151.96 L333.51 151.96 L332.86 151.96 L332.21 151.96 L331.57 151.96 L330.92 151.96 L330.27 151.96 L329.62 151.96 L328.97 151.96 L328.32 151.96 L327.67 151.96 L327.03 151.96 L326.38 151.96 L325.73 151.96 L325.08 151.96 L324.43 151.96 L323.78 151.96 L323.13 151.96 L322.49 151.96 L321.84 151.96 L321.19 151.96 L320.54 151.96 L319.89 151.96 L319.24 151.96 L318.59 151.96 L317.95 151.96 L317.30 151.96 L316.65 151.96 L316.00 151.96 L315.35 151.96 L314.70 151.96 L314.05 151.96 L313.41 151.96 L312.76 151.96 L312.11 151.96 L311.46 151.96 L310.81 151.96 L310.16 151.96 L309.51 151.96 L308.87 151.96 L308.22 151.96 L307.57 151.96 L306.92 151.96 L306.27 151.96 L305.62 151.96 L304.97 151.96 L304.33 151.96 L303.68 151.96 L303.03 151.96 L302.38 151.96 L301.73 151.96 L301.08 151.96 L300.43 151.96 L299.79 151.96 L299.14 151.96 L298.49 151.96 L297.84 151.96 L297.19 151.96 L296.54 151.96 L295.89 151.96 L295.25 151.96 L294.60 151.96 L293.95 151.96 L293.30 151.96 L292.65 151.96 L292.00 151.96 L291.35 151.96 L290.71 151.96 L290.06 151.96 L289.41 151.96 L288.76 151.96 L288.11 151.96 L287.46 151.96 L286.81 151.96 L286.17 151.96 L285.52 151.96 L284.87 151.96 L284.22 151.96 L283.57 151.96 L282.92 151.96 L282.27 151.96 L281.63 151.96 L280.98 151.96 L280.33 151.96 L279.68 151.96 L279.03 151.96 L278.38 151.96 L277.73 151.96 L277.09 151.96 L276.44 151.96 L275.79 151.96 L275.14 151.96 L274.49 151.96 L273.84 151.96 L273.19 151.96 L272.55 151.96 L271.90 151.96 L271.25 151.96 L270.60 151.96 L269.95 151.96 L269.30 151.96 L268.65 151.96 L268.01 151.96 L267.36 151.96 L266.71 151.96 L266.06 151.96 L265.41 151.96 L264.76 151.96 L264.11 151.96 L263.47 151.96 L262.82 151.96 L262.17 151.96 L261.52 151.96 L260.87 151.96 L260.22 151.96 L259.57 151.96 L258.93 151.96 L258.28 151.96 L257.63 151.96 L256.98 151.96 L256.33 151.96 L255.68 151.96 L255.03 151.96 L254.39 151.96 L253.74 151.96 L253.09 151.96 L252.44 151.96 L251.79 151.96 L251.14 151.96 L250.49 151.96 L249.85 151.96 L249.20 151.96 L248.55 151.96 L247.90 151.96 L247.25 151.96 L246.60 151.96 L245.95 151.96 L245.31 151.96 L244.66 151.96 L244.01 151.96 L243.36 151.96 L242.71 151.96 L242.06 151.96 L241.41 151.96 L240.77 151.96 L240.12 151.96 L239.47 151.96 L238.82 151.96 L238.17 151.96 L237.52 151.96 L236.87 151.96 L236.23 151.96 L235.58 151.96 L234.93 151.96 L234.28 151.96 L233.63 151.96 L232.98 151.96 L232.33 151.96 L231.69 151.96 L231.04 151.96 L230.39 151.96 L229.74 151.96 L229.09 151.96 L228.44 153.18 L227.79 155.21 L227.15 157.24 L226.50 159.27 L225.85 161.30 L225.20 163.33 L224.55 165.36 L223.90 167.39 L223.25 169.42 L222.61 171.45 L221.96 173.49 L221.31 175.52 L220.66 177.55 L220.01 179.58 L219.36 181.61 L218.71 183.64 L218.07 153.99 L217.42 156.02 L216.77 158.05 L216.12 160.08 L215.47 162.11 L214.82 164.14 L214.17 166.17 L213.53 168.21 L212.88 170.24 L212.23 172.27 L211.58 174.30 L210.93 176.33 L210.28 178.36 L209.63 180.39 L208.99 182.42 L208.34 183.64 L207.69 183.64 L207.04 183.64 L206.39 183.64 L205.74 183.64 L205.09 183.64 L204.45 183.64 L203.80 183.64 L203.15 183.64 L202.50 183.64 L201.85 183.64 L201.20 183.64 L200.55 183.64 L199.91 183.64 L199.26 183.64 L198.61 183.64 L197.96 183.64 L197.31 183.64 L196.66 183.64 L196.01 183.64 L195.37 183.64 L194.72 183.64 L194.07 183.64 L193.42 183.64 L192.77 183.64 L192.12 183.64 L191.47 183.64 L190.83 183.64 L190.18 183.64 L189.53 183.64 L188.88 183.64 L188.23 183.64 L187.58 183.64 L186.93 183.64 L186.29 183.64 L185.64 183.64 L184.99 183.64 L184.34 183.64 L183.69 183.64 L183.04 183.64 L182.39 183.64 L181.75 183.64 L181.10 183.64 L180.45 183.64 L179.80 183.64 L179.15 183.64 L178.50 183.64 L177.85 183.64 L177.21 183.64 L176.56 183.64 L175.91 183.64 L175.26 183.64 L174.61 183.64 L173.96 183.64 L173.31 183.64 L172.67 183.64 L172.02 183.64 L171.37 183.64 L170.72 183.64 L170.07 183.64 L169.42 183.64 L168.77 183.64 L168.13 183.64 L167.48 183.64 L166.83 183.64 L166.18 183.64 L165.53 183.64 L164.88 183.64 L164.23 183.64 L163.59 184.16 L162.94 185.03 L162.29 185.90 L161.64 186.77 L160.99 187.64 L160.34 188.51 L159.69 189.38 L159.05 190.25 L158.40 191.12 L157.75 191.99 L157.10 192.86 L156.45 193.73 L155.80 194.60 L155.15 195.47 L154.51 196.34 L153.86 197.21 L153.21 184.51 L152.56 185.38 L151.91 186.25 L151.26 187.12 L150.61 187.99 L149.97 188.86 L149.32 189.73 L148.67 190.60 L148.02 191.47 L147.37 192.34 L146.72 193.21 L146.07 194.08 L145.43 194.95 L144.78 195.82 L144.13 196.69 L143.48 197.21 L142.83 197.21 L142.18 197.21 L141.53 197.21 L140.89 197.21 L140.24 197.21 L139.59 197.21 L138.94 197.21 L138.29 197.21 L137.64 197.21 L136.99 197.21 L136.35 197.21 L135.70 197.21 L135.05 197.21 L134.40 197.21 L133.75 197.21 L133.10 197.21 L132.45 197.21 L131.81 197.21 L131.16 197.21 L130.51 197.21 L129.86 197.21 L129.21 197.21 L128.56 197.21 L127.91 197.21 L127.27 197.21 L126.62 197.21 L125.97 197.21 L125.32 197.21 L124.67 197.21 L124.02 197.21 L123.37 197.21 L122.73 197.21 L122.08 197.21 L121.43 197.21 L120.78 197.21 L120.13 197.21 L119.48 197.21 L118.83 197.21 L118.19 197.21 L117.54 197.21 L116.89 197.21 L116.24 197.21 L115.59 197.21 L114.94 197.21 L114.29 197.21 L113.65 197.21 L113.00 197.21 L112.35 197.21 L111.70 197.21 L111.05 197.21 L110.40 197.21 L109.75 197.21 L109.11 197.21 L108.46 197.21 L107.81 197.21 L107.16 197.21 L106.51 197.21 L105.86 197.21 L105.21 197.21 L104.57 197.21 L103.92 197.21 L103.27 197.21 L102.62 197.21 L101.97 197.21 L101.32 197.21 L100.67 197.21 L100.03 197.21 L99.38 197.21 L98.73 197.21 L98.08 197.21 L97.43 197.21 L96.78 197.21 L96.13 197.21 L95.49 197.21 L94.84 197.21 L94.19 197.21 L93.54 197.21 L92.89 197.21 L92.24 197.21 L91.59 197.21 L90.95 197.21 L90.30 197.21 L89.65 197.21 L89.00 197.21Z" fill="#da70d6" fill-opacity="0.32"/>
<rect x="119.09" y="85.5" width="4.15" height="178.0" fill="#ff0000" fill-opacity="0.12"/>
<rect x="180.97" y="85.5" width="5.45" height="178.0" fill="#ff0000" fill-opacity="0.12"/>
<rect x="282.79" y="85.5" width="6.87" height="178.0" fill="#ff0000" fill-opacity="0.12"/>
<rect x="380.60" y="85.5" width="8.56" height="178.0" fill="#ff0000" fill-opacity="0.12"/>
<rect x="136.61" y="85.5" width="3.24" height="178.0" fill="#0000ff" fill-opacity="0.12"/>
<rect x="206.52" y="85.5" width="3.50" height="178.0" fill="#0000ff" fill-opacity="0.12"/>
<rect x="275.53" y="85.5" width="3.24" height="178.0" fill="#0000ff" fill-opacity="0.12"/>
<rect x="342.72" y="85.5" width="3.24" height="178.0" fill="#0000ff" fill-opacity="0.12"/>
<rect x="415.49" y="85.5" width="3.24" height="178.0" fill="#0000ff" fill-opacity="0.12"/>
<path d="M89.00 187.43 L89.30 186.38 L89.60 185.17 L89.90 183.65 L90.20 181.75 L90.50 181.02 L90.80 181.04 L91.10 182.77 L91.40 185.19 L91.70 186.38 L92.00 187.98 L92.30 191.19 L92.60 192.33 L92.90 192.67 L93.20 192.79 L93.50 195.86 L93.80 197.40 L94.10 197.56 L94.40 199.37 L94.70 198.11 L95.00 197.55 L95.30 196.48 L95.60 195.88 L95.90 194.86 L96.20 195.06 L96.50 193.58 L96.80 193.43 L97.10 192.44 L97.40 191.66 L97.70 190.18 L98.00 189.96 L98.30 190.75 L98.60 191.37 L98.90 191.45 L99.20 193.10 L99.50 193.90 L99.80 195.12 L100.10 196.11 L100.40 196.52 L100.70 197.96 L101.00 198.55 L101.30 198.08 L101.60 197.06 L101.90 196.73 L102.20 195.53 L102.50 195.75 L102.80 195.52 L103.10 191.68 L103.40 192.43 L103.70 191.19 L104.00 190.15 L104.30 188.56 L104.60 186.36 L104.90 185.73 L105.20 184.57 L105.50 184.24 L105.80 185.46 L106.10 186.45 L106.40 189.14 L106.70 188.29 L107.00 189.93 L107.30 190.59 L107.60 192.35 L107.90 194.40 L108.20 194.50 L108.50 194.95 L108.80 195.57 L109.10 197.57 L109.40 197.88 L109.70 199.56 L110.00 199.29 L110.30 198.88 L110.60 198.31 L110.90 196.35 L111.20 196.73 L111.50 194.32 L111.80 194.19 L112.10 193.60 L112.40 194.01 L112.70 192.39 L113.00 192.02 L113.30 190.70 L113.60 190.39 L113.90 190.41 L114.20 191.21 L114.50 190.39 L114.80 191.60 L115.10 193.45 L115.40 191.79 L115.70 192.09 L116.00 193.86 L116.30 195.33 L116.60 197.58 L116.90 197.93 L117.20 199.01 L117.50 198.53 L117.80 198.25 L118.10 197.58 L118.40 195.86 L118.70 195.19 L119.00 193.49 L119.30 192.42 L119.60 190.32 L119.90 188.59 L120.20 188.66 L120.50 185.86 L120.80 183.67 L121.10 183.13 L121.40 180.52 L121.70 178.93 L122.00 179.54 L122.30 181.86 L122.60 183.87 L122.90 185.90 L123.20 189.25 L123.50 191.24 L123.80 193.13 L124.10 194.20 L124.40 195.88 L124.70 198.31 L125.00 199.06 L125.30 199.52 L125.60 199.60 L125.90 198.29 L126.20 196.77 L126.50 195.63 L126.80 194.93 L127.10 193.73 L127.40 192.30 L127.70 191.92 L128.00 192.23 L128.30 191.23 L128.60 191.91 L128.90 191.88 L129.20 191.35 L129.50 191.07 L129.80 192.54 L130.10 193.70 L130.40 194.55 L130.70 196.06 L131.00 196.05 L131.30 196.57 L131.60 197.37 L131.90 197.51 L132.20 198.25 L132.50 196.37 L132.80 195.37 L133.10 194.44 L133.40 194.05 L133.70 191.74 L134.00 190.33 L134.30 189.43 L134.60 187.94 L134.90 185.32 L135.20 184.43 L135.50 182.43 L135.80 183.18 L136.10 183.29 L136.40 185.73 L136.70 187.69 L136.90 188.55 M139.20 199.96 L139.40 200.97 L139.70 202.32 L140.00 201.28 L140.30 199.87 L140.60 197.90 L140.90 195.85 L141.20 195.42 L141.50 193.48 L141.80 194.44 L142.10 192.41 L142.40 192.52 L142.70 192.43 L143.00 191.61 L143.30 190.95 L143.60 192.24 L143.90 193.21 L144.20 193.52 L144.50 195.25 L144.80 195.18 L145.10 197.58 L145.40 199.78 L145.70 200.37 L146.00 201.56 L146.30 201.86 L146.60 202.61 L146.90 203.43 L147.20 202.20 L147.50 202.17 L147.80 200.55 L148.10 200.54 L148.40 199.78 L148.70 197.96 L149.00 198.75 L149.30 198.98 L149.60 198.99 L149.90 199.17 L150.20 199.63 L150.50 198.70 L150.80 198.17 L151.10 199.02 L151.40 199.78 L151.70 198.80 L152.00 200.88 L152.30 201.56 L152.60 202.47 L152.90 204.26 L153.20 205.39 L153.50 206.01 L153.80 203.66 L154.10 201.29 L154.40 199.99 L154.70 199.72 L155.00 199.67 L155.30 200.35 L155.60 202.16 L155.90 202.71 L156.20 204.17 L156.50 203.37 L156.80 201.35 L157.10 199.63 L157.40 199.11 L157.70 198.27 L158.00 200.56 L158.30 201.58 L158.60 200.68 L158.90 199.75 L159.20 200.84 L159.50 201.27 L159.80 202.17 L160.10 204.38 L160.40 205.57 L160.70 206.44 L161.00 208.41 L161.30 208.60 L161.60 208.34 L161.90 209.38 L162.20 208.76 L162.50 209.65 L162.80 209.95 L163.10 210.99 L163.40 210.33 L163.70 209.41 L164.00 208.80 L164.30 207.61 L164.60 206.18 L164.90 205.75 L165.20 204.60 L165.50 205.76 L165.80 206.76 L166.10 205.74 L166.40 203.98 L166.70 205.60 L167.00 205.28 L167.30 206.61 L167.60 207.51 L167.90 208.68 L168.20 209.75 L168.50 209.74 L168.80 210.81 L169.10 210.60 L169.40 211.89 L169.70 213.36 L170.00 215.22 L170.30 214.64 L170.60 215.49 L170.90 215.92 L171.20 214.58 L171.50 213.23 L171.80 211.87 L172.10 212.52 L172.40 210.74 L172.70 210.88 L173.00 210.43 L173.30 209.19 L173.60 209.59 L173.90 207.93 L174.20 208.99 L174.50 208.61 L174.80 209.86 L175.10 210.54 L175.40 211.44 L175.70 212.66 L176.00 212.73 L176.30 212.65 L176.60 213.08 L176.90 214.73 L177.20 214.04 L177.50 214.84 L177.80 214.92 L178.10 213.57 L178.40 211.58 L178.70 209.11 L179.00 208.86 L179.30 206.20 L179.60 204.07 L179.90 203.14 L180.20 202.07 L180.50 199.66 L180.80 199.73 L181.10 198.80 L181.40 198.86 L181.70 199.52 L182.00 200.15 L182.30 201.04 L182.60 202.89 L182.90 203.55 L183.20 205.43 L183.50 205.36 L183.80 206.86 L184.10 207.78 L184.40 207.76 L184.70 209.99 L185.00 210.17 L185.30 210.48 L185.60 212.03 L185.90 213.03 L186.20 212.84 L186.50 213.28 L186.80 213.27 L187.10 212.87 L187.40 213.02 L187.70 211.53 L188.00 210.60 L188.30 209.56 L188.60 206.74 L188.90 208.68 L189.20 209.46 L189.50 210.14 L189.80 210.17 L190.10 211.39 L190.40 212.80 L190.70 213.16 L191.00 213.70 L191.30 213.18 L191.60 214.21 L191.90 215.07 L192.20 214.62 L192.50 215.76 L192.80 215.06 L193.10 214.08 L193.40 211.91 L193.70 210.48 L194.00 209.15 L194.30 209.03 L194.60 208.22 L194.90 206.34 L195.20 205.44 L195.50 205.19 L195.80 204.70 L196.10 203.10 L196.40 202.59 L196.70 202.96 L197.00 204.35 L197.30 205.49 L197.60 207.15 L197.90 208.27 L198.20 208.74 L198.50 210.71 L198.80 210.39 L199.10 212.01 L199.40 212.80 L199.70 214.68 L200.00 215.39 L200.30 215.05 L200.60 215.83 L200.90 215.09 L201.20 213.79 L201.50 213.03 L201.80 212.52 L202.10 211.60 L202.40 210.04 L202.70 209.74 L203.00 209.62 L203.30 209.22 L203.60 207.87 L203.90 206.56 L204.20 205.72 L204.50 206.43 L204.80 206.50 L205.10 206.85 L205.40 207.31 L205.70 207.90 L206.00 208.86 L206.30 209.83 L206.60 209.60 L206.90 212.41 L206.90 212.41 M208.90 201.91 L209.00 200.75 L209.30 197.17 L209.60 195.04 L209.90 191.86 L210.20 189.79 L210.50 187.91 L210.80 186.13 L211.10 185.64 L211.40 183.56 L211.70 182.40 L212.00 181.71 L212.30 181.87 L212.60 181.95 L212.90 180.98 L213.20 179.32 L213.50 176.57 L213.80 174.35 L214.10 171.70 L214.40 168.32 L214.70 166.87 L215.00 164.57 L215.30 161.69 L215.60 159.42 L215.90 155.09 L216.20 150.22 L216.50 146.49 L216.80 142.57 L217.10 137.17 L217.40 134.66 L217.70 132.77 L218.00 130.75 L218.30 129.39 L218.60 128.15 L218.90 208.00 L219.20 207.62 L219.50 204.83 L219.80 203.69 L220.10 201.87 L220.40 200.67 L220.70 197.26 L221.00 195.90 L221.30 192.63 L221.60 191.97 L221.90 187.76 L222.20 184.88 L222.50 180.70 L222.80 177.12 L223.10 174.11 L223.40 169.67 L223.70 165.38 L224.00 162.50 L224.30 159.60 L224.60 157.65 L224.90 153.71 L225.20 151.13 L225.50 148.59 L225.80 146.53 L226.10 143.10 L226.40 140.29 L226.70 139.28 L227.00 140.53 L227.30 140.18 L227.60 139.48 L227.90 140.77 L228.20 141.24 L228.50 141.71 L228.80 142.53 L229.10 144.28 L229.40 145.72 L229.70 144.04 L230.00 144.55 L230.30 143.14 L230.60 141.33 L230.90 140.82 L231.20 137.69 L231.50 135.25 L231.80 134.30 L232.10 131.27 L232.40 129.53 L232.70 128.08 L233.00 125.06 L233.30 125.33 L233.60 124.40 L233.90 125.67 L234.20 127.96 L234.50 130.59 L234.80 132.76 L235.10 135.32 L235.40 137.28 L235.70 139.12 L236.00 138.05 L236.30 139.98 L236.60 137.88 L236.90 138.25 L237.20 135.71 L237.50 134.65 L237.80 131.73 L238.10 131.07 L238.40 128.81 L238.70 127.32 L239.00 125.49 L239.30 121.35 L239.60 118.79 L239.90 115.44 L240.20 113.47 L240.50 111.22 L240.80 110.85 L241.10 110.92 L241.40 112.97 L241.70 114.36 L242.00 117.84 L242.30 120.37 L242.60 123.07 L242.90 125.94 L243.20 130.10 L243.50 132.70 L243.80 135.75 L244.10 138.21 L244.40 140.76 L244.70 145.28 L245.00 145.41 L245.30 145.22 L245.60 145.14 L245.90 143.63 L246.20 140.77 L246.50 140.18 L246.80 137.26 L247.10 136.34 L247.40 134.12 L247.70 132.42 L248.00 133.64 L248.30 131.29 L248.60 131.32 L248.90 132.77 L249.20 133.31 L249.50 134.91 L249.80 134.65 L250.10 133.69 L250.40 135.43 L250.70 134.94 L251.00 135.62 L251.30 138.67 L251.60 140.14 L251.90 140.60 L252.20 141.41 L252.50 142.14 L252.80 141.31 L253.10 140.88 L253.40 139.35 L253.70 136.96 L254.00 135.06 L254.30 133.01 L254.60 130.93 L254.90 126.65 L255.20 123.94 L255.50 119.73 L255.80 117.09 L256.10 114.18 L256.40 113.70 L256.70 113.23 L257.00 114.54 L257.30 118.01 L257.60 120.10 L257.90 122.14 L258.20 126.99 L258.50 129.52 L258.80 133.15 L259.10 133.90 L259.40 136.30 L259.70 137.29 L260.00 137.85 L260.30 137.98 L260.60 139.78 L260.90 138.31 L261.20 137.30 L261.50 135.38 L261.80 135.47 L262.10 133.62 L262.40 130.68 L262.70 127.91 L263.00 127.75 L263.30 127.34 L263.60 127.09 L263.90 129.45 L264.20 128.44 L264.50 126.98 L264.80 127.09 L265.10 129.07 L265.40 131.47 L265.70 133.89 L266.00 136.56 L266.30 138.33 L266.60 141.38 L266.90 141.18 L267.20 142.05 L267.50 142.33 L267.80 141.92 L268.10 142.20 L268.40 141.84 L268.70 138.31 L269.00 137.44 L269.30 135.90 L269.60 133.32 L269.90 129.20 L270.20 126.28 L270.50 122.10 L270.80 118.19 L271.10 114.40 L271.40 112.92 L271.70 111.88 L272.00 112.28 L272.30 112.80 L272.60 114.67 L272.90 117.47 L273.20 121.06 L273.50 121.56 L273.80 124.26 L274.10 128.04 L274.40 129.12 L274.70 130.75 L275.00 134.72 L275.30 136.71 L275.50 137.75 M277.90 128.19 L278.00 127.35 L278.30 126.03 L278.60 125.30 L278.90 124.86 L279.20 124.99 L279.50 124.53 L279.80 125.28 L280.10 126.28 L280.40 127.30 L280.70 128.23 L281.00 128.87 L281.30 128.74 L281.60 129.04 L281.90 129.83 L282.20 130.74 L282.50 132.26 L282.80 132.26 L283.10 132.05 L283.40 130.18 L283.70 126.15 L284.00 123.97 L284.30 119.96 L284.60 118.23 L284.90 116.05 L285.20 112.45 L285.50 108.90 L285.80 106.01 L286.10 102.56 L286.40 100.08 L286.70 99.96 L287.00 98.30 L287.30 101.17 L287.60 102.68 L287.90 106.68 L288.20 108.98 L288.50 113.33 L288.80 115.29 L289.10 117.94 L289.40 124.69 L289.70 126.87 L290.00 130.25 L290.30 133.35 L290.60 135.71 L290.90 137.99 L291.20 138.75 L291.50 141.22 L291.80 139.99 L292.10 140.56 L292.40 140.03 L292.70 137.57 L293.00 136.34 L293.30 133.92 L293.60 132.35 L293.90 131.29 L294.20 131.25 L294.50 130.44 L294.80 129.13 L295.10 130.73 L295.40 130.87 L295.70 133.22 L296.00 135.45 L296.30 135.66 L296.60 138.58 L296.90 139.21 L297.20 139.48 L297.50 141.27 L297.80 141.18 L298.10 140.92 L298.40 139.89 L298.70 138.48 L299.00 136.25 L299.30 134.30 L299.60 130.85 L299.90 127.95 L300.20 125.03 L300.50 121.85 L300.80 118.62 L301.10 116.35 L301.40 114.87 L301.70 115.15 L302.00 115.28 L302.30 114.62 L302.60 115.25 L302.90 115.95 L303.20 117.71 L303.50 119.28 L303.80 122.29 L304.10 123.37 L304.40 123.00 L304.70 125.54 L305.00 127.11 L305.30 129.24 L305.60 133.49 L305.90 135.39 L306.20 137.19 L306.50 137.53 L306.80 136.61 L307.10 137.68 L307.40 137.27 L307.70 137.37 L308.00 137.22 L308.30 139.03 L308.60 136.44 L308.90 135.71 L309.20 134.39 L309.50 133.08 L309.80 130.34 L310.10 128.95 L310.40 130.69 L310.70 131.12 L311.00 133.54 L311.30 136.19 L311.60 135.19 L311.90 135.80 L312.20 134.85 L312.50 137.72 L312.80 136.57 L313.10 137.08 L313.40 135.69 L313.70 133.16 L314.00 131.04 L314.30 127.05 L314.60 123.64 L314.90 121.25 L315.20 119.13 L315.50 117.30 L315.80 115.44 L316.10 113.33 L316.40 112.39 L316.70 113.27 L317.00 111.94 L317.30 113.46 L317.60 113.84 L317.90 116.30 L318.20 118.01 L318.50 119.47 L318.80 122.36 L319.10 125.21 L319.40 127.51 L319.70 129.57 L320.00 130.89 L320.30 133.10 L320.60 134.35 L320.90 136.34 L321.20 137.34 L321.50 137.35 L321.80 136.89 L322.10 137.32 L322.40 136.52 L322.70 135.58 L323.00 133.65 L323.30 132.15 L323.60 130.04 L323.90 128.70 L324.20 126.90 L324.50 128.12 L324.80 128.42 L325.10 128.88 L325.40 131.92 L325.70 133.49 L326.00 135.20 L326.30 135.24 L326.60 136.18 L326.90 137.85 L327.20 139.85 L327.50 141.77 L327.80 141.35 L328.10 141.80 L328.40 139.90 L328.70 139.48 L329.00 138.38 L329.30 136.14 L329.60 134.52 L329.90 130.64 L330.20 126.86 L330.50 123.51 L330.80 121.28 L331.10 120.08 L331.40 117.56 L331.70 117.75 L332.00 118.83 L332.30 119.34 L332.60 121.15 L332.90 122.25 L333.20 125.28 L333.50 128.62 L333.80 132.30 L334.10 136.40 L334.40 138.17 L334.70 140.80 L335.00 143.01 L335.30 144.48 L335.60 144.04 L335.90 142.35 L336.20 139.49 L336.50 136.21 L336.80 131.79 L337.10 129.14 L337.40 126.86 L337.70 123.65 L338.00 122.56 L338.30 121.92 L338.60 122.59 L338.90 122.69 L339.20 123.65 L339.50 126.23 L339.80 128.50 L340.10 131.49 L340.40 132.87 L340.70 135.00 L341.00 136.73 L341.30 138.83 L341.60 142.37 L341.90 141.39 L342.20 143.72 L342.50 142.23 L342.80 140.75 L342.90 139.49 M345.40 120.43 L345.50 120.63 L345.80 120.38 L346.10 120.26 L346.40 121.63 L346.70 124.24 L347.00 126.10 L347.30 126.65 L347.60 127.80 L347.90 131.36 L348.20 132.42 L348.50 135.34 L348.80 137.61 L349.10 139.36 L349.40 141.26 L349.70 141.06 L350.00 141.54 L350.30 140.96 L350.60 138.93 L350.90 136.36 L351.20 132.37 L351.50 128.75 L351.80 127.41 L352.10 125.59 L352.40 124.32 L352.70 123.19 L353.00 123.68 L353.30 123.92 L353.60 127.30 L353.90 131.34 L354.20 134.48 L354.50 138.16 L354.80 141.25 L355.10 143.02 L355.40 144.42 L355.70 145.54 L356.00 146.41 L356.30 148.06 L356.60 146.26 L356.90 146.30 L357.20 142.92 L357.50 140.47 L357.80 135.72 L358.10 130.94 L358.40 126.59 L358.70 122.21 L359.00 119.91 L359.30 116.48 L359.60 115.28 L359.90 114.68 L360.20 114.82 L360.50 114.10 L360.80 113.44 L361.10 111.78 L361.40 110.72 L361.70 110.80 L362.00 111.21 L362.30 111.99 L362.60 113.08 L362.90 116.29 L363.20 119.83 L363.50 122.02 L363.80 123.86 L364.10 127.06 L364.40 129.45 L364.70 132.93 L365.00 136.33 L365.30 138.10 L365.60 139.34 L365.90 140.20 L366.20 140.90 L366.50 139.80 L366.80 139.12 L367.10 137.22 L367.40 136.52 L367.70 134.74 L368.00 133.81 L368.30 133.27 L368.60 131.75 L368.90 129.51 L369.20 127.24 L369.50 125.79 L369.80 123.96 L370.10 123.61 L370.40 126.07 L370.70 128.76 L371.00 130.38 L371.30 131.13 L371.60 133.76 L371.90 135.53 L372.20 136.62 L372.50 138.33 L372.80 139.06 L373.10 138.33 L373.40 141.29 L373.70 141.19 L374.00 141.29 L374.30 140.72 L374.60 140.60 L374.90 140.23 L375.20 139.10 L375.50 135.89 L375.80 131.48 L376.10 127.47 L376.40 122.65 L376.70 119.28 L377.00 118.63 L377.30 116.51 L377.60 115.35 L377.90 115.67 L378.20 114.99 L378.50 116.83 L378.80 115.83 L379.10 116.73 L379.40 117.46 L379.70 118.54 L380.00 119.83 L380.30 123.36 L380.60 125.45 L380.90 127.00 L381.20 129.04 L381.50 130.41 L381.80 133.33 L382.10 134.33 L382.40 135.24 L382.70 136.21 L383.00 136.27 L383.30 136.56 L383.60 136.65 L383.90 136.85 L384.20 134.49 L384.50 133.61 L384.80 134.04 L385.10 134.14 L385.40 133.60 L385.70 132.69 L386.00 132.43 L386.30 132.18 L386.60 132.97 L386.90 131.52 L387.20 131.89 L387.50 131.87 L387.80 134.60 L388.10 135.69 L388.40 136.79 L388.70 137.08 L389.00 136.78 L389.30 137.73 L389.60 136.05 L389.90 135.66 L390.20 134.15 L390.50 132.41 L390.80 130.06 L391.10 128.79 L391.40 127.06 L391.70 124.88 L392.00 121.60 L392.30 120.48 L392.60 117.85 L392.90 117.23 L393.20 115.13 L393.50 114.05 L393.80 112.54 L394.10 112.01 L394.40 112.66 L394.70 114.11 L395.00 116.13 L395.30 117.94 L395.60 120.85 L395.90 125.56 L396.20 130.15 L396.50 133.09 L396.80 136.19 L397.10 137.88 L397.40 138.56 L397.70 138.10 L398.00 135.88 L398.30 135.70 L398.60 135.73 L398.90 134.97 L399.20 133.78 L399.50 132.48 L399.80 131.75 L400.10 130.38 L400.40 127.88 L400.70 126.52 L401.00 124.79 L401.30 125.41 L401.60 126.18 L401.90 128.61 L402.20 130.01 L402.50 131.57 L402.80 133.78 L403.10 136.36 L403.40 138.53 L403.70 140.27 L404.00 142.46 L404.30 142.27 L404.60 141.35 L404.90 141.91 L405.20 139.83 L405.50 138.04 L405.80 136.47 L406.10 132.14 L406.40 128.01 L406.70 122.92 L407.00 118.51 L407.30 113.72 L407.60 112.16 L407.90 110.46 L408.20 108.89 L408.50 109.90 L408.80 110.61 L409.10 112.26 L409.40 114.14 L409.70 114.51 L410.00 117.74 L410.30 119.85 L410.60 123.44 L410.90 125.92 L411.20 129.62 L411.50 131.06 L411.80 131.38 L412.10 132.86 L412.40 134.06 L412.70 135.24 L413.00 136.28 L413.30 135.31 L413.60 134.70 L413.90 135.57 L414.20 134.63 L414.50 133.67 L414.80 132.83 L415.10 131.38 L415.40 130.99 L415.50 130.55 M418.00 137.87 L418.10 138.38 L418.40 139.63 L418.70 139.97 L419.00 141.42 L419.30 141.99 L419.60 140.86 L419.90 141.69 L420.20 140.50 L420.50 139.10 L420.80 137.22 L421.10 134.68 L421.40 131.00 L421.70 129.08 L422.00 125.85 L422.30 122.00 L422.60 121.72 L422.90 117.88 L423.20 115.38 L423.50 114.76 L423.80 113.63 L424.10 113.31 L424.40 114.70 L424.70 116.24 L425.00 117.83 L425.30 119.06 L425.60 123.65 L425.90 126.98 L426.20 131.13 L426.50 135.44 L426.80 139.16 L427.10 138.47 L427.40 139.26 L427.70 137.42 L428.00 136.18 L428.30 135.88 L428.60 136.22 L428.90 135.99 L429.20 135.87 L429.50 135.23 L429.80 132.55 L430.10 129.33 L430.40 127.09 L430.70 126.36 L431.00 126.28 L431.30 125.57 L431.60 125.13 L431.90 124.44 L432.20 124.09 L432.50 124.26 L432.80 125.64 L433.10 129.02 L433.40 131.26 L433.70 134.63 L434.00 137.46 L434.30 140.64 L434.60 143.45 L434.90 143.49 L435.20 143.46 L435.50 140.94 L435.80 138.74 L436.10 134.90 L436.40 132.93 L436.70 128.27 L437.00 124.85 L437.30 121.12 L437.60 119.26 L437.90 118.94 L438.20 116.82 L438.50 117.43 L438.80 115.12 L439.10 114.54 L439.40 112.35 L439.70 111.93 L440.00 112.11 L440.30 113.57 L440.60 114.29 L440.90 117.35 L441.20 120.17 L441.50 124.13 L441.80 127.28 L442.10 131.52 L442.40 134.23 L442.70 136.95 L443.00 139.89 L443.30 141.69 L443.60 141.66 L443.90 142.41 L444.20 141.99 L444.50 140.43 L444.80 139.26 L445.10 137.16 L445.40 136.24 L445.70 133.59 L446.00 133.01 L446.30 129.06 L446.60 128.14 L446.90 125.79 L447.20 123.00 L447.50 120.94 L447.80 121.24 L448.10 120.43 L448.40 122.17 L448.70 122.39 L449.00 123.35 L449.30 124.91 L449.60 127.43 L449.90 129.77 L450.20 132.96 L450.50 135.09 L450.80 135.64 L451.10 136.46 L451.40 136.11 L451.70 135.20 L452.00 134.02 L452.30 133.36 L452.60 130.95 L452.90 129.40 L453.20 127.84 L453.50 126.58 L453.80 125.59 L454.10 122.09 L454.40 118.73 L454.70 114.37 L455.00 111.31 L455.30 108.42 L455.60 109.10 L455.90 109.36 L456.20 111.97 L456.50 114.99 L456.80 117.75 L457.10 121.05 L457.40 124.11 L457.70 126.72 L458.00 128.62 L458.30 132.86 L458.60 135.19 L458.90 137.34 L459.20 139.18 L459.50 140.43 L459.80 141.25 L460.10 140.38 L460.40 140.06 L460.70 140.95 L461.00 139.95 L461.30 138.95 L461.60 136.87 L461.90 134.71 L462.20 134.97 L462.50 134.20 L462.80 132.82 L463.10 133.08 L463.40 133.10 L463.70 133.53 L464.00 132.71 L464.30 132.64 L464.60 132.91 L464.90 133.70 L465.20 134.89 L465.50 135.56 L465.80 137.36 L466.10 138.18 L466.40 138.71 L466.70 138.32 L467.00 138.12 L467.30 136.50 L467.60 135.47 L467.90 133.59 L468.20 133.45 L468.50 131.70 L468.80 130.94 L469.10 127.10 L469.40 125.84 L469.70 123.36 L470.00 118.77 L470.30 117.30 L470.60 115.01 L470.90 112.97 L471.20 113.57 L471.50 115.41 L471.80 116.54 L472.10 118.87 L472.40 121.22 L472.70 124.91 L473.00 127.52 L473.30 130.96 L473.60 135.28 L473.90 139.45 L474.20 141.66 L474.50 143.18 L474.80 142.68 L475.10 141.45 L475.40 140.27 L475.70 138.92 L476.00 138.77 L476.30 137.66 L476.60 137.51 L476.90 135.61 L477.20 135.32 L477.50 133.68 L477.80 131.60 L478.10 132.84 L478.40 130.42 L478.70 131.40 L479.00 131.55 L479.30 132.12 L479.60 131.49 L479.90 130.43 L480.20 132.42 L480.50 132.71 L480.80 134.23 L481.10 134.84 L481.40 136.15 L481.70 135.62 L482.00 134.77 L482.30 135.87 L482.60 133.62 L482.90 131.62 L483.20 131.18 L483.50 129.33 L483.80 127.12 L484.10 123.93 L484.40 121.22 L484.70 117.51 L485.00 114.62 L485.30 112.68 L485.60 110.38 L485.90 110.35 L486.20 110.01 L486.50 111.21 L486.80 112.68 L487.10 115.66 L487.40 117.62 L487.70 119.97 L488.00 123.61 L488.30 127.44 L488.60 130.10 L488.90 132.45 L489.20 135.61 L489.50 138.27 L489.80 141.99 L490.10 143.10 L490.40 144.25 L490.70 143.74 L491.00 141.51 L491.30 140.21 L491.60 137.66 L491.90 136.43 L492.20 133.79 L492.50 133.13 L492.80 130.73 L493.10 128.06 L493.40 126.33 L493.70 123.93 L494.00 123.96 L494.30 123.50 L494.60 126.77 L494.90 129.20 L495.20 133.15 L495.50 134.27 L495.80 135.83 L496.10 135.03 L496.40 137.77 L496.70 138.99 L497.00 141.72 L497.30 142.04 L497.60 141.03 L497.90 139.74 L498.20 138.19 L498.50 136.71 L498.80 135.81 L499.10 134.36 L499.40 132.18 L499.70 129.73 L500.00 128.58 L500.30 124.76 L500.60 121.65 L500.90 120.31 L501.20 116.52 L501.50 114.72 L501.80 113.37 L502.10 113.40 L502.40 114.61 L502.70 113.55 L503.00 114.52 L503.30 114.08 L503.60 116.48 L503.90 117.78 L504.20 119.28 L504.50 120.50 L504.80 124.49 L505.10 126.44 L505.40 128.99 L505.70 131.66 L506.00 131.98 L506.30 133.93 L506.60 133.79 L506.90 133.69 L507.20 133.45 L507.50 131.85 L507.80 130.55 L508.10 129.13 L508.40 127.40 L508.70 128.19 L509.00 128.65 L509.30 130.32 L509.60 130.15 L509.90 132.88 L510.20 132.45 L510.50 132.84 L510.80 133.78 L511.10 135.75 L511.40 136.62 L511.70 138.04 L512.00 139.36 L512.30 139.55 L512.60 139.08 L512.90 138.19 L513.20 137.13 L513.50 136.59 L513.80 134.79 L514.10 134.33 L514.40 131.56 L514.70 130.38 L515.00 127.57 L515.30 123.97 L515.60 121.22 L515.90 119.78 L516.20 117.49 L516.50 117.08 L516.80 118.46 L517.10 118.70 L517.40 120.53 L517.70 121.97 L518.00 124.03 L518.30 126.86 L518.60 129.14 L518.90 132.75 L519.20 134.60 L519.50 136.33 L519.80 137.92 L520.10 138.09 L520.40 138.00 L520.70 140.51 L521.00 142.50 L521.30 142.13 L521.60 143.46 L521.90 142.94 L522.20 141.79 L522.50 141.35 L522.80 138.85 L523.10 139.32 L523.40 137.12 L523.70 136.13 L524.00 134.43 L524.30 132.38 L524.60 132.38 L524.90 133.45 L525.20 134.04 L525.50 134.33 L525.80 134.73 L526.10 134.96 L526.40 133.53 L526.70 133.44 L527.00 131.82 L527.30 132.18 L527.60 133.11 L527.90 132.49 L528.20 131.50 L528.50 130.74 L528.80 128.75 L529.10 126.77 L529.40 124.63 L529.70 121.32 L530.00 117.92 L530.30 116.79 L530.60 114.15 L530.90 113.70 L531.20 112.64 L531.50 111.51 L531.80 111.19 L532.10 109.41 L532.40 108.71 L532.70 109.82 L533.00 111.93 L533.30 115.54 L533.60 118.30 L533.90 122.29 L534.20 126.29 L534.50 129.85 L534.80 133.20 L535.10 134.59 L535.40 137.64 L535.70 138.15 L536.00 141.38 L536.30 140.80 L536.60 140.96 L536.90 139.42 L537.20 139.31 L537.50 136.47 L537.80 136.08 L538.10 133.49 L538.40 132.47 L538.70 131.28 L539.00 130.18 L539.30 129.23 L539.60 128.51 L539.90 128.74 L540.20 129.53 L540.50 131.45 L540.80 134.82 L541.10 136.75 L541.40 138.17 L541.70 139.98 L542.00 141.72 L542.30 142.49 L542.60 142.09 L542.90 141.77" fill="none" stroke="#0000ff" stroke-width="1.05" stroke-linejoin="round"/>
<path d="M136.90 188.55 L136.90 236.00 L139.20 236.00 L139.20 199.96 M206.90 212.41 L206.90 241.90 L208.90 241.90 L208.90 201.91 M275.50 137.75 L275.50 211.00 L277.90 211.00 L277.90 128.19 M342.90 139.49 L342.90 210.00 L345.40 210.00 L345.40 120.43 M415.50 130.55 L415.50 210.00 L418.00 210.00 L418.00 137.87" fill="none" stroke="#0000ff" stroke-width="0.8" stroke-linejoin="miter"/>
<path d="M89.00 200.42 L89.30 199.98 L89.60 199.62 L89.90 199.21 L90.20 199.88 L90.50 199.85 L90.80 199.59 L91.10 200.50 L91.40 201.58 L91.70 200.68 L92.00 203.13 L92.30 203.11 L92.60 204.01 L92.90 205.27 L93.20 206.55 L93.50 207.26 L93.80 208.53 L94.10 208.43 L94.40 209.24 L94.70 210.16 L95.00 211.40 L95.30 211.87 L95.60 212.48 L95.90 213.96 L96.20 213.85 L96.50 213.68 L96.80 215.71 L97.10 216.32 L97.40 216.69 L97.70 214.32 L98.00 214.29 L98.30 213.71 L98.60 213.75 L98.90 213.36 L99.20 212.88 L99.50 211.98 L99.80 212.39 L100.10 212.11 L100.40 209.89 L100.70 209.16 L101.00 207.40 L101.30 205.20 L101.60 206.15 L101.90 206.38 L102.20 206.90 L102.50 206.85 L102.80 205.72 L103.10 205.20 L103.40 205.15 L103.70 205.46 L104.00 205.07 L104.30 204.78 L104.60 204.73 L104.90 203.10 L105.20 204.44 L105.50 203.11 L105.80 204.15 L106.10 203.54 L106.40 203.69 L106.70 202.62 L107.00 203.10 L107.30 202.34 L107.60 201.60 L107.90 202.42 L108.20 202.51 L108.50 204.11 L108.80 204.40 L109.10 205.91 L109.40 206.34 L109.70 206.64 L110.00 206.49 L110.30 208.06 L110.60 208.04 L110.90 208.55 L111.20 209.70 L111.50 209.35 L111.80 210.66 L112.10 210.45 L112.40 210.15 L112.70 209.68 L113.00 209.57 L113.30 210.34 L113.60 209.51 L113.90 210.01 L114.20 208.86 L114.50 209.50 L114.80 208.45 L115.10 208.55 L115.40 207.06 L115.70 207.24 L116.00 206.48 L116.30 206.30 L116.60 204.69 L116.90 204.54 L117.20 202.05 L117.50 201.14 L117.80 199.61 L118.10 198.59 L118.40 196.80 L118.70 194.24 L119.00 193.76 L119.30 192.60 L119.60 191.81 L119.90 191.30 L120.20 191.65 L120.50 190.95 L120.80 191.33 L121.10 191.64 L121.40 193.36 L121.70 195.37 L122.00 196.26 L122.30 196.30 L122.60 197.89 L122.90 198.79 L123.20 200.65 L123.50 200.86 L123.80 200.84 L124.10 203.87 L124.40 205.90 L124.70 206.25 L125.00 209.50 L125.30 211.21 L125.60 211.83 L125.90 212.00 L126.20 212.85 L126.50 213.25 L126.80 214.01 L127.10 214.71 L127.40 214.22 L127.70 213.96 L128.00 214.61 L128.30 213.66 L128.60 212.47 L128.90 212.98 L129.20 213.49 L129.50 212.00 L129.80 212.14 L130.10 210.87 L130.40 210.99 L130.70 210.21 L131.00 209.87 L131.30 209.14 L131.60 208.35 L131.90 207.99 L132.20 206.03 L132.50 204.52 L132.80 204.58 L133.10 203.53 L133.40 202.22 L133.70 201.69 L134.00 201.45 L134.30 202.94 L134.60 201.60 L134.90 200.78 L135.20 200.39 L135.50 199.66 L135.80 200.03 L136.10 198.85 L136.40 199.23 L136.70 199.65 L136.90 200.81 M139.20 205.72 L139.40 206.79 L139.70 207.01 L140.00 207.72 L140.30 207.74 L140.60 208.03 L140.90 207.93 L141.20 208.83 L141.50 209.14 L141.80 210.46 L142.10 210.23 L142.40 211.41 L142.70 211.83 L143.00 209.82 L143.30 210.59 L143.60 209.76 L143.90 209.49 L144.20 209.87 L144.50 209.66 L144.80 208.40 L145.10 208.04 L145.40 206.46 L145.70 204.88 L146.00 204.90 L146.30 203.16 L146.60 201.80 L146.90 201.14 L147.20 200.18 L147.50 198.83 L147.80 198.81 L148.10 196.46 L148.40 195.51 L148.70 194.97 L149.00 192.94 L149.30 193.48 L149.60 191.61 L149.90 191.26 L150.20 189.83 L150.50 188.56 L150.80 187.86 L151.10 187.91 L151.40 187.13 L151.70 186.00 L152.00 187.55 L152.30 186.28 L152.60 186.32 L152.90 186.80 L153.20 186.88 L153.50 186.63 L153.80 189.98 L154.10 196.98 L154.40 200.88 L154.70 200.68 L155.00 200.20 L155.30 199.87 L155.60 201.05 L155.90 200.20 L156.20 199.80 L156.50 198.75 L156.80 198.82 L157.10 198.67 L157.40 197.47 L157.70 197.10 L158.00 196.63 L158.30 196.94 L158.60 196.94 L158.90 195.95 L159.20 194.74 L159.50 193.70 L159.80 192.58 L160.10 189.31 L160.40 189.25 L160.70 188.65 L161.00 187.95 L161.30 185.47 L161.60 185.50 L161.90 185.58 L162.20 184.05 L162.50 183.15 L162.80 182.37 L163.10 180.90 L163.40 178.93 L163.70 178.47 L164.00 177.20 L164.30 177.32 L164.60 177.12 L164.90 177.17 L165.20 177.49 L165.50 176.37 L165.80 178.13 L166.10 178.14 L166.40 179.54 L166.70 180.25 L167.00 180.21 L167.30 180.27 L167.60 181.55 L167.90 182.64 L168.20 183.64 L168.50 184.20 L168.80 183.95 L169.10 184.62 L169.40 185.22 L169.70 186.94 L170.00 186.72 L170.30 188.01 L170.60 190.76 L170.90 191.86 L171.20 192.45 L171.50 192.66 L171.80 193.98 L172.10 194.12 L172.40 194.39 L172.70 195.55 L173.00 194.76 L173.30 195.37 L173.60 194.80 L173.90 194.48 L174.20 194.65 L174.50 192.13 L174.80 192.48 L175.10 192.60 L175.40 192.08 L175.70 191.30 L176.00 189.80 L176.30 190.15 L176.60 188.49 L176.90 189.34 L177.20 187.76 L177.50 187.69 L177.80 186.99 L178.10 185.65 L178.40 185.33 L178.70 185.46 L179.00 184.15 L179.30 184.46 L179.60 183.46 L179.90 183.26 L180.20 182.11 L180.50 181.31 L180.80 181.41 L181.10 181.08 L181.40 183.02 L181.70 184.77 L182.00 189.44 L182.30 188.92 L182.60 189.84 L182.90 188.57 L183.20 187.94 L183.50 187.27 L183.80 188.46 L184.10 187.34 L184.40 187.86 L184.70 189.31 L185.00 190.18 L185.30 190.81 L185.60 189.75 L185.90 189.71 L186.20 189.27 L186.50 187.61 L186.80 188.25 L187.10 186.55 L187.40 186.56 L187.70 186.07 L188.00 185.54 L188.30 186.18 L188.60 184.85 L188.90 185.51 L189.20 184.58 L189.50 185.05 L189.80 183.58 L190.10 184.95 L190.40 184.43 L190.70 185.62 L191.00 185.35 L191.30 186.94 L191.60 186.39 L191.90 186.47 L192.20 186.09 L192.50 185.79 L192.80 184.84 L193.10 185.48 L193.40 184.35 L193.70 185.21 L194.00 184.88 L194.30 184.64 L194.60 184.03 L194.90 183.95 L195.20 183.52 L195.50 182.93 L195.80 182.73 L196.10 180.86 L196.40 180.76 L196.70 180.36 L197.00 180.06 L197.30 179.40 L197.60 180.65 L197.90 179.70 L198.20 181.33 L198.50 183.01 L198.80 183.64 L199.10 185.18 L199.40 186.43 L199.70 187.10 L200.00 187.90 L200.30 189.03 L200.60 189.07 L200.90 189.38 L201.20 189.11 L201.50 190.57 L201.80 191.18 L202.10 189.77 L202.40 190.19 L202.70 191.67 L203.00 190.84 L203.30 191.56 L203.60 192.67 L203.90 192.15 L204.20 192.03 L204.50 190.38 L204.80 191.03 L205.10 189.72 L205.40 190.61 L205.70 190.52 L206.00 189.93 L206.30 191.25 L206.60 191.35 L206.90 190.49 L206.90 190.49 M208.90 182.68 L209.00 182.11 L209.30 179.15 L209.60 175.66 L209.90 174.77 L210.20 173.16 L210.50 171.37 L210.80 170.03 L211.10 169.95 L211.40 167.71 L211.70 166.01 L212.00 164.63 L212.30 162.92 L212.60 162.56 L212.90 159.73 L213.20 160.31 L213.50 158.77 L213.80 159.21 L214.10 158.46 L214.40 156.94 L214.70 155.79 L215.00 155.11 L215.30 155.04 L215.60 155.06 L215.90 156.21 L216.20 155.68 L216.50 154.94 L216.80 152.28 L217.10 151.08 L217.40 147.67 L217.70 143.58 L218.00 141.28 L218.30 137.06 L218.60 134.83 L218.90 186.69 L219.20 186.15 L219.50 186.53 L219.80 184.21 L220.10 183.45 L220.40 182.16 L220.70 180.70 L221.00 179.24 L221.30 179.53 L221.60 177.82 L221.90 178.61 L222.20 177.29 L222.50 178.16 L222.80 178.36 L223.10 176.70 L223.40 176.13 L223.70 174.57 L224.00 170.87 L224.30 167.11 L224.60 163.94 L224.90 159.89 L225.20 154.52 L225.50 150.74 L225.80 147.05 L226.10 143.97 L226.40 141.06 L226.70 137.23 L227.00 132.63 L227.30 128.59 L227.60 123.70 L227.90 121.83 L228.20 121.20 L228.50 119.47 L228.80 121.28 L229.10 123.41 L229.40 126.16 L229.70 126.81 L230.00 126.96 L230.30 129.92 L230.60 132.53 L230.90 134.13 L231.20 138.10 L231.50 140.31 L231.80 142.90 L232.10 142.40 L232.40 142.64 L232.70 142.74 L233.00 141.97 L233.30 140.30 L233.60 140.75 L233.90 140.78 L234.20 140.25 L234.50 138.33 L234.80 136.75 L235.10 133.73 L235.40 133.09 L235.70 135.00 L236.00 135.83 L236.30 136.70 L236.60 138.72 L236.90 137.01 L237.20 137.26 L237.50 138.24 L237.80 139.16 L238.10 139.40 L238.40 139.44 L238.70 139.36 L239.00 139.61 L239.30 139.67 L239.60 139.19 L239.90 137.82 L240.20 137.29 L240.50 133.90 L240.80 130.60 L241.10 128.00 L241.40 124.85 L241.70 122.95 L242.00 121.65 L242.30 120.92 L242.60 119.36 L242.90 116.77 L243.20 115.73 L243.50 114.50 L243.80 113.92 L244.10 115.04 L244.40 117.71 L244.70 120.20 L245.00 121.77 L245.30 123.96 L245.60 124.84 L245.90 125.54 L246.20 127.35 L246.50 128.71 L246.80 131.66 L247.10 134.72 L247.40 138.88 L247.70 141.55 L248.00 143.42 L248.30 143.34 L248.60 144.37 L248.90 143.12 L249.20 141.52 L249.50 140.92 L249.80 137.62 L250.10 135.88 L250.40 131.52 L250.70 129.67 L251.00 127.27 L251.30 128.32 L251.60 129.88 L251.90 130.20 L252.20 131.93 L252.50 131.51 L252.80 131.02 L253.10 131.62 L253.40 131.93 L253.70 134.15 L254.00 136.64 L254.30 140.57 L254.60 142.38 L254.90 144.83 L255.20 145.23 L255.50 144.73 L255.80 144.02 L256.10 143.10 L256.40 141.21 L256.70 138.98 L257.00 135.50 L257.30 132.88 L257.60 130.33 L257.90 126.95 L258.20 127.90 L258.50 127.58 L258.80 127.19 L259.10 127.52 L259.40 128.02 L259.70 127.03 L260.00 128.70 L260.30 129.51 L260.60 131.65 L260.90 133.57 L261.20 135.08 L261.50 137.08 L261.80 137.06 L262.10 138.06 L262.40 138.95 L262.70 141.74 L263.00 141.85 L263.30 141.43 L263.60 139.82 L263.90 138.28 L264.20 137.35 L264.50 134.24 L264.80 132.94 L265.10 133.36 L265.40 131.30 L265.70 131.69 L266.00 132.07 L266.30 129.87 L266.60 128.97 L266.90 128.89 L267.20 128.07 L267.50 128.74 L267.80 129.27 L268.10 131.60 L268.40 133.54 L268.70 136.32 L269.00 137.90 L269.30 138.69 L269.60 138.20 L269.90 138.60 L270.20 139.35 L270.50 139.87 L270.80 139.74 L271.10 140.44 L271.40 141.29 L271.70 139.35 L272.00 140.79 L272.30 138.38 L272.60 135.56 L272.90 134.07 L273.20 130.84 L273.50 126.03 L273.80 123.20 L274.10 120.67 L274.40 121.20 L274.70 121.63 L275.00 124.62 L275.30 127.61 L275.50 129.29 M277.90 140.21 L278.00 140.00 L278.30 139.24 L278.60 138.35 L278.90 137.54 L279.20 137.03 L279.50 134.12 L279.80 135.84 L280.10 135.29 L280.40 136.28 L280.70 135.85 L281.00 135.01 L281.30 133.67 L281.60 134.02 L281.90 136.46 L282.20 138.74 L282.50 142.17 L282.80 141.20 L283.10 143.37 L283.40 141.63 L283.70 142.44 L284.00 138.21 L284.30 133.66 L284.60 129.14 L284.90 122.45 L285.20 114.65 L285.50 109.17 L285.80 104.92 L286.10 102.62 L286.40 99.25 L286.70 98.96 L287.00 99.54 L287.30 101.06 L287.60 104.56 L287.90 109.66 L288.20 114.93 L288.50 117.48 L288.80 119.97 L289.10 120.35 L289.40 122.92 L289.70 126.20 L290.00 131.48 L290.30 134.65 L290.60 137.98 L290.90 141.99 L291.20 144.70 L291.50 147.08 L291.80 145.83 L292.10 145.53 L292.40 145.39 L292.70 142.97 L293.00 140.16 L293.30 138.45 L293.60 137.20 L293.90 135.82 L294.20 133.82 L294.50 133.99 L294.80 132.82 L295.10 131.81 L295.40 130.91 L295.70 130.50 L296.00 131.92 L296.30 132.80 L296.60 133.61 L296.90 135.15 L297.20 135.28 L297.50 135.84 L297.80 136.31 L298.10 136.23 L298.40 133.90 L298.70 131.69 L299.00 131.14 L299.30 129.86 L299.60 129.22 L299.90 129.49 L300.20 127.51 L300.50 124.79 L300.80 123.49 L301.10 121.97 L301.40 121.18 L301.70 119.87 L302.00 119.37 L302.30 118.89 L302.60 119.53 L302.90 121.19 L303.20 123.44 L303.50 125.63 L303.80 127.49 L304.10 130.35 L304.40 133.50 L304.70 134.71 L305.00 138.04 L305.30 139.49 L305.60 141.25 L305.90 142.32 L306.20 144.31 L306.50 144.46 L306.80 144.20 L307.10 143.27 L307.40 141.83 L307.70 140.40 L308.00 139.06 L308.30 137.79 L308.60 135.35 L308.90 133.57 L309.20 131.25 L309.50 130.03 L309.80 129.30 L310.10 128.36 L310.40 132.22 L310.70 133.92 L311.00 137.36 L311.30 138.24 L311.60 141.24 L311.90 141.46 L312.20 142.31 L312.50 141.72 L312.80 141.71 L313.10 141.29 L313.40 142.55 L313.70 140.49 L314.00 138.67 L314.30 136.55 L314.60 135.92 L314.90 136.70 L315.20 136.88 L315.50 138.06 L315.80 139.36 L316.10 138.25 L316.40 136.08 L316.70 132.71 L317.00 131.37 L317.30 130.40 L317.60 128.50 L317.90 127.93 L318.20 128.06 L318.50 126.97 L318.80 125.90 L319.10 123.33 L319.40 122.35 L319.70 122.48 L320.00 123.72 L320.30 126.20 L320.60 128.72 L320.90 131.25 L321.20 132.74 L321.50 136.93 L321.80 139.35 L322.10 139.80 L322.40 141.04 L322.70 139.48 L323.00 137.95 L323.30 135.52 L323.60 135.19 L323.90 134.18 L324.20 133.43 L324.50 131.83 L324.80 130.33 L325.10 129.38 L325.40 129.77 L325.70 129.91 L326.00 131.36 L326.30 130.86 L326.60 132.01 L326.90 131.18 L327.20 132.15 L327.50 132.53 L327.80 133.95 L328.10 137.48 L328.40 139.45 L328.70 141.70 L329.00 141.46 L329.30 141.26 L329.60 141.16 L329.90 140.14 L330.20 139.91 L330.50 138.43 L330.80 137.42 L331.10 137.27 L331.40 135.62 L331.70 135.80 L332.00 136.01 L332.30 134.23 L332.60 133.15 L332.90 132.26 L333.20 131.19 L333.50 128.53 L333.80 126.94 L334.10 123.70 L334.40 123.27 L334.70 121.06 L335.00 121.11 L335.30 121.97 L335.60 122.53 L335.90 125.66 L336.20 126.01 L336.50 126.63 L336.80 128.85 L337.10 129.94 L337.40 132.88 L337.70 134.06 L338.00 135.50 L338.30 137.85 L338.60 137.01 L338.90 137.84 L339.20 136.21 L339.50 133.47 L339.80 133.35 L340.10 131.89 L340.40 130.83 L340.70 131.13 L341.00 130.72 L341.30 130.05 L341.60 127.52 L341.90 126.57 L342.20 125.36 L342.50 123.56 L342.80 122.79 L342.90 123.22 M345.40 133.68 L345.50 134.40 L345.80 137.44 L346.10 140.24 L346.40 140.82 L346.70 140.48 L347.00 139.90 L347.30 138.62 L347.60 138.58 L347.90 138.22 L348.20 137.32 L348.50 136.63 L348.80 134.58 L349.10 130.90 L349.40 129.22 L349.70 124.22 L350.00 120.69 L350.30 117.59 L350.60 117.26 L350.90 117.96 L351.20 120.02 L351.50 122.77 L351.80 123.70 L352.10 125.35 L352.40 127.60 L352.70 130.07 L353.00 130.82 L353.30 133.94 L353.60 135.13 L353.90 138.03 L354.20 138.97 L354.50 141.90 L354.80 143.93 L355.10 143.19 L355.40 143.35 L355.70 141.59 L356.00 140.57 L356.30 139.93 L356.60 138.89 L356.90 138.05 L357.20 137.76 L357.50 136.73 L357.80 137.06 L358.10 137.61 L358.40 139.02 L358.70 138.97 L359.00 139.03 L359.30 139.06 L359.60 139.04 L359.90 139.93 L360.20 140.04 L360.50 139.02 L360.80 137.86 L361.10 136.92 L361.40 136.68 L361.70 135.83 L362.00 135.31 L362.30 134.58 L362.60 134.06 L362.90 132.19 L363.20 132.52 L363.50 130.00 L363.80 129.90 L364.10 129.77 L364.40 129.14 L364.70 127.54 L365.00 127.51 L365.30 126.34 L365.60 122.91 L365.90 120.61 L366.20 122.70 L366.50 124.61 L366.80 127.38 L367.10 128.27 L367.40 129.39 L367.70 130.66 L368.00 133.39 L368.30 135.28 L368.60 137.86 L368.90 139.82 L369.20 140.95 L369.50 141.42 L369.80 140.92 L370.10 140.27 L370.40 138.93 L370.70 138.35 L371.00 139.54 L371.30 139.91 L371.60 138.71 L371.90 137.80 L372.20 137.97 L372.50 137.78 L372.80 138.51 L373.10 139.08 L373.40 138.79 L373.70 137.84 L374.00 138.37 L374.30 138.64 L374.60 140.20 L374.90 142.75 L375.20 144.55 L375.50 145.53 L375.80 145.34 L376.10 146.67 L376.40 146.90 L376.70 145.81 L377.00 145.64 L377.30 143.15 L377.60 141.03 L377.90 139.93 L378.20 138.51 L378.50 137.62 L378.80 134.24 L379.10 132.28 L379.40 128.54 L379.70 124.83 L380.00 121.93 L380.30 119.48 L380.60 119.18 L380.90 120.32 L381.20 124.04 L381.50 127.19 L381.80 126.62 L382.10 127.35 L382.40 127.84 L382.70 127.57 L383.00 127.60 L383.30 126.99 L383.60 127.29 L383.90 124.66 L384.20 121.13 L384.50 119.14 L384.80 117.67 L385.10 117.95 L385.40 117.18 L385.70 117.60 L386.00 119.04 L386.30 120.21 L386.60 122.18 L386.90 123.15 L387.20 124.69 L387.50 127.29 L387.80 131.43 L388.10 131.42 L388.40 134.92 L388.70 137.88 L389.00 138.61 L389.30 139.63 L389.60 141.86 L389.90 145.01 L390.20 146.05 L390.50 147.53 L390.80 146.64 L391.10 144.79 L391.40 141.84 L391.70 138.49 L392.00 134.79 L392.30 131.64 L392.60 127.68 L392.90 123.37 L393.20 119.36 L393.50 114.66 L393.80 109.82 L394.10 106.44 L394.40 103.49 L394.70 103.73 L395.00 106.15 L395.30 110.29 L395.60 112.93 L395.90 117.14 L396.20 121.85 L396.50 125.66 L396.80 128.29 L397.10 132.65 L397.40 134.92 L397.70 137.52 L398.00 139.88 L398.30 141.24 L398.60 142.74 L398.90 143.69 L399.20 143.22 L399.50 144.69 L399.80 144.58 L400.10 147.17 L400.40 147.34 L400.70 145.75 L401.00 143.59 L401.30 139.60 L401.60 136.01 L401.90 132.68 L402.20 128.81 L402.50 127.26 L402.80 127.64 L403.10 128.58 L403.40 132.02 L403.70 134.12 L404.00 136.57 L404.30 138.19 L404.60 138.87 L404.90 138.26 L405.20 140.22 L405.50 142.49 L405.80 142.86 L406.10 142.17 L406.40 141.95 L406.70 139.87 L407.00 138.36 L407.30 133.84 L407.60 130.11 L407.90 127.70 L408.20 125.33 L408.50 123.34 L408.80 120.79 L409.10 119.79 L409.40 118.53 L409.70 118.90 L410.00 123.27 L410.30 124.05 L410.60 124.72 L410.90 125.57 L411.20 123.99 L411.50 124.66 L411.80 124.90 L412.10 125.36 L412.40 126.94 L412.70 129.02 L413.00 131.94 L413.30 135.08 L413.60 133.59 L413.90 136.12 L414.20 135.90 L414.50 136.69 L414.80 135.26 L415.10 134.59 L415.40 133.17 L415.50 133.21 M418.00 135.63 L418.10 136.75 L418.40 136.88 L418.70 138.89 L419.00 138.82 L419.30 138.76 L419.60 138.52 L419.90 140.01 L420.20 139.97 L420.50 140.94 L420.80 143.02 L421.10 143.94 L421.40 144.83 L421.70 144.29 L422.00 144.10 L422.30 140.87 L422.60 138.75 L422.90 137.80 L423.20 137.13 L423.50 133.81 L423.80 130.56 L424.10 127.78 L424.40 121.77 L424.70 118.91 L425.00 116.29 L425.30 116.14 L425.60 116.71 L425.90 117.92 L426.20 119.95 L426.50 122.72 L426.80 125.29 L427.10 127.99 L427.40 131.06 L427.70 133.79 L428.00 137.25 L428.30 138.98 L428.60 140.18 L428.90 141.85 L429.20 141.49 L429.50 142.44 L429.80 141.05 L430.10 139.74 L430.40 138.52 L430.70 138.18 L431.00 136.11 L431.30 135.16 L431.60 135.71 L431.90 135.73 L432.20 136.76 L432.50 137.41 L432.80 138.57 L433.10 138.61 L433.40 138.49 L433.70 137.11 L434.00 137.59 L434.30 137.27 L434.60 139.04 L434.90 141.25 L435.20 143.13 L435.50 144.37 L435.80 147.02 L436.10 147.00 L436.40 145.93 L436.70 144.58 L437.00 141.24 L437.30 138.45 L437.60 135.19 L437.90 134.36 L438.20 132.64 L438.50 135.08 L438.80 133.57 L439.10 130.82 L439.40 128.06 L439.70 125.48 L440.00 125.33 L440.30 125.19 L440.60 126.64 L440.90 129.10 L441.20 132.48 L441.50 134.61 L441.80 137.39 L442.10 141.21 L442.40 142.76 L442.70 145.37 L443.00 145.85 L443.30 148.18 L443.60 149.58 L443.90 153.30 L444.20 151.44 L444.50 151.07 L444.80 150.07 L445.10 148.44 L445.40 145.13 L445.70 144.57 L446.00 142.64 L446.30 142.89 L446.60 140.87 L446.90 138.22 L447.20 135.36 L447.50 133.76 L447.80 132.01 L448.10 131.27 L448.40 129.94 L448.70 130.55 L449.00 128.77 L449.30 129.31 L449.60 131.16 L449.90 134.69 L450.20 137.11 L450.50 139.97 L450.80 139.88 L451.10 137.43 L451.40 135.98 L451.70 132.80 L452.00 131.85 L452.30 133.81 L452.60 133.63 L452.90 133.95 L453.20 131.49 L453.50 128.99 L453.80 126.06 L454.10 124.46 L454.40 121.20 L454.70 118.21 L455.00 118.61 L455.30 120.53 L455.60 123.21 L455.90 127.62 L456.20 129.74 L456.50 133.16 L456.80 136.31 L457.10 138.65 L457.40 141.66 L457.70 142.58 L458.00 144.11 L458.30 143.99 L458.60 143.38 L458.90 144.05 L459.20 144.04 L459.50 141.91 L459.80 141.77 L460.10 143.31 L460.40 143.15 L460.70 140.99 L461.00 140.32 L461.30 139.61 L461.60 139.40 L461.90 137.83 L462.20 135.57 L462.50 134.94 L462.80 134.88 L463.10 136.39 L463.40 138.66 L463.70 138.92 L464.00 138.20 L464.30 135.85 L464.60 135.77 L464.90 133.93 L465.20 133.82 L465.50 135.13 L465.80 134.23 L466.10 133.82 L466.40 132.23 L466.70 130.24 L467.00 129.92 L467.30 129.71 L467.60 128.81 L467.90 127.31 L468.20 127.67 L468.50 125.66 L468.80 124.62 L469.10 123.58 L469.40 122.65 L469.70 120.02 L470.00 118.73 L470.30 115.40 L470.60 115.48 L470.90 116.04 L471.20 116.46 L471.50 116.77 L471.80 118.63 L472.10 121.46 L472.40 125.04 L472.70 129.43 L473.00 133.66 L473.30 136.82 L473.60 138.81 L473.90 141.74 L474.20 142.79 L474.50 143.35 L474.80 145.60 L475.10 146.61 L475.40 146.49 L475.70 144.53 L476.00 143.66 L476.30 142.27 L476.60 140.54 L476.90 138.98 L477.20 137.61 L477.50 135.56 L477.80 134.87 L478.10 134.62 L478.40 135.17 L478.70 136.06 L479.00 136.46 L479.30 138.01 L479.60 140.95 L479.90 140.94 L480.20 142.62 L480.50 143.27 L480.80 145.55 L481.10 148.05 L481.40 148.37 L481.70 148.03 L482.00 146.21 L482.30 142.39 L482.60 137.78 L482.90 133.98 L483.20 131.07 L483.50 128.94 L483.80 126.72 L484.10 124.88 L484.40 122.10 L484.70 120.12 L485.00 115.75 L485.30 114.20 L485.60 113.24 L485.90 113.93 L486.20 115.26 L486.50 118.80 L486.80 120.65 L487.10 123.59 L487.40 124.97 L487.70 126.05 L488.00 129.39 L488.30 130.29 L488.60 132.24 L488.90 136.94 L489.20 138.86 L489.50 141.50 L489.80 142.17 L490.10 142.43 L490.40 141.45 L490.70 140.37 L491.00 138.59 L491.30 135.93 L491.60 135.32 L491.90 132.11 L492.20 131.90 L492.50 130.29 L492.80 131.24 L493.10 131.33 L493.40 132.43 L493.70 133.40 L494.00 133.71 L494.30 134.20 L494.60 134.51 L494.90 135.38 L495.20 138.10 L495.50 140.72 L495.80 143.17 L496.10 143.62 L496.40 143.35 L496.70 143.42 L497.00 142.96 L497.30 141.36 L497.60 139.63 L497.90 137.27 L498.20 133.89 L498.50 131.82 L498.80 130.54 L499.10 128.66 L499.40 126.77 L499.70 124.37 L500.00 121.40 L500.30 117.96 L500.60 117.59 L500.90 117.36 L501.20 118.30 L501.50 120.61 L501.80 122.96 L502.10 124.42 L502.40 128.16 L502.70 128.91 L503.00 131.16 L503.30 132.36 L503.60 133.97 L503.90 135.41 L504.20 137.91 L504.50 138.73 L504.80 137.83 L505.10 139.05 L505.40 137.13 L505.70 135.85 L506.00 133.15 L506.30 131.75 L506.60 130.62 L506.90 129.09 L507.20 132.75 L507.50 134.15 L507.80 135.45 L508.10 137.32 L508.40 136.90 L508.70 136.36 L509.00 135.26 L509.30 138.16 L509.60 139.03 L509.90 141.71 L510.20 142.45 L510.50 144.80 L510.80 145.53 L511.10 145.64 L511.40 144.43 L511.70 143.02 L512.00 142.85 L512.30 141.46 L512.60 140.85 L512.90 139.24 L513.20 139.19 L513.50 136.70 L513.80 136.02 L514.10 133.93 L514.40 133.84 L514.70 133.41 L515.00 133.15 L515.30 132.67 L515.60 133.26 L515.90 131.69 L516.20 129.29 L516.50 127.75 L516.80 125.70 L517.10 122.85 L517.40 121.34 L517.70 119.54 L518.00 118.45 L518.30 119.52 L518.60 121.79 L518.90 124.61 L519.20 127.88 L519.50 131.31 L519.80 132.85 L520.10 135.36 L520.40 138.08 L520.70 139.60 L521.00 140.35 L521.30 140.69 L521.60 140.85 L521.90 138.92 L522.20 137.13 L522.50 138.44 L522.80 137.47 L523.10 138.37 L523.40 137.55 L523.70 137.25 L524.00 139.07 L524.30 139.86 L524.60 141.73 L524.90 142.00 L525.20 141.22 L525.50 141.48 L525.80 139.01 L526.10 138.51 L526.40 139.73 L526.70 141.19 L527.00 142.46 L527.30 143.56 L527.60 145.48 L527.90 143.54 L528.20 142.56 L528.50 141.09 L528.80 138.37 L529.10 137.80 L529.40 135.83 L529.70 133.67 L530.00 130.83 L530.30 127.54 L530.60 123.65 L530.90 120.36 L531.20 116.85 L531.50 115.93 L531.80 113.72 L532.10 111.73 L532.40 108.76 L532.70 108.51 L533.00 109.05 L533.30 110.97 L533.60 110.85 L533.90 111.77 L534.20 114.15 L534.50 117.14 L534.80 119.51 L535.10 122.24 L535.40 125.62 L535.70 127.28 L536.00 129.60 L536.30 131.05 L536.60 134.35 L536.90 134.78 L537.20 136.97 L537.50 137.67 L537.80 137.95 L538.10 139.07 L538.40 141.48 L538.70 140.30 L539.00 141.12 L539.30 140.63 L539.60 138.47 L539.90 137.61 L540.20 137.20 L540.50 139.37 L540.80 138.75 L541.10 138.04 L541.40 138.01 L541.70 138.44 L542.00 139.77 L542.30 140.65 L542.60 143.21 L542.90 144.61" fill="none" stroke="#ff0000" stroke-width="1.05" stroke-linejoin="round"/>
<path d="M136.90 200.81 L136.90 251.60 L139.20 251.60 L139.20 205.72 M206.90 190.49 L206.90 245.80 L208.90 245.80 L208.90 182.68 M275.50 129.29 L275.50 232.60 L277.90 232.60 L277.90 140.21 M342.90 123.22 L342.90 233.00 L345.40 233.00 L345.40 133.68 M415.50 133.21 L415.50 233.00 L418.00 233.00 L418.00 135.63" fill="none" stroke="#ff0000" stroke-width="0.8" stroke-linejoin="miter"/>
<path d="M89.00 122.27 L89.30 122.23 L89.60 119.20 L89.90 118.80 L90.20 116.82 L90.50 116.27 L90.80 113.40 L91.10 115.46 L91.40 116.44 L91.70 117.27 L92.00 119.14 L92.30 120.73 L92.60 123.47 L92.90 123.99 L93.20 126.15 L93.50 128.46 L93.80 129.93 L94.10 132.64 L94.40 133.43 L94.70 135.12 L95.00 137.78 L95.30 138.05 L95.60 141.06 L95.90 141.50 L96.20 143.12 L96.50 144.28 L96.80 144.98 L97.10 146.10 L97.40 145.77 L97.70 144.00 L98.00 142.51 L98.30 139.58 L98.60 137.03 L98.90 134.57 L99.20 132.90 L99.50 131.27 L99.80 129.43 L100.10 130.25 L100.40 130.84 L100.70 131.46 L101.00 129.60 L101.30 128.14 L101.60 126.27 L101.90 125.08 L102.20 123.43 L102.50 125.28 L102.80 129.37 L103.10 132.23 L103.40 136.05 L103.70 136.75 L104.00 136.46 L104.30 138.06 L104.60 137.55 L104.90 137.23 L105.20 139.09 L105.50 138.37 L105.80 138.40 L106.10 139.58 L106.40 139.70 L106.70 138.56 L107.00 137.84 L107.30 137.26 L107.60 136.28 L107.90 134.63 L108.20 135.06 L108.50 134.33 L108.80 132.05 L109.10 131.32 L109.40 128.29 L109.70 125.78 L110.00 125.39 L110.30 121.63 L110.60 121.70 L110.90 119.72 L111.20 119.04 L111.50 116.85 L111.80 117.95 L112.10 117.59 L112.40 118.41 L112.70 121.28 L113.00 121.05 L113.30 123.64 L113.60 123.12 L113.90 123.75 L114.20 123.43 L114.50 124.46 L114.80 123.85 L115.10 126.06 L115.40 126.23 L115.70 127.68 L116.00 129.64 L116.30 131.25 L116.60 133.23 L116.90 135.18 L117.20 136.19 L117.50 137.85 L117.80 138.53 L118.10 139.18 L118.40 139.56 L118.70 139.54 L119.00 140.15 L119.30 141.08 L119.60 146.45 L119.90 152.90 L120.20 155.14 L120.50 157.46 L120.80 160.08 L121.10 159.35 L121.40 159.68 L121.70 156.38 L122.00 150.48 L122.30 144.50 L122.60 140.27 L122.90 135.17 L123.20 131.35 L123.50 128.39 L123.80 128.20 L124.10 127.03 L124.40 129.26 L124.70 129.28 L125.00 129.75 L125.30 130.25 L125.60 132.63 L125.90 133.28 L126.20 135.06 L126.50 135.85 L126.80 136.15 L127.10 138.27 L127.40 139.66 L127.70 138.95 L128.00 140.54 L128.30 142.84 L128.60 142.83 L128.90 140.62 L129.20 138.35 L129.50 138.25 L129.80 136.37 L130.10 134.33 L130.40 132.04 L130.70 128.73 L131.00 127.93 L131.30 127.10 L131.60 126.98 L131.90 124.53 L132.20 123.80 L132.50 121.62 L132.80 121.12 L133.10 121.10 L133.40 120.62 L133.70 119.16 L134.00 118.59 L134.30 116.39 L134.60 115.93 L134.90 115.63 L135.20 115.83 L135.50 115.09 L135.80 117.28 L136.10 117.87 L136.40 119.72 L136.70 121.10 L136.90 122.03 M139.20 132.42 L139.40 132.62 L139.70 132.56 L140.00 132.30 L140.30 133.85 L140.60 134.27 L140.90 134.37 L141.20 133.18 L141.50 131.50 L141.80 126.36 L142.10 124.04 L142.40 123.28 L142.70 122.88 L143.00 124.81 L143.30 123.93 L143.60 125.74 L143.90 126.62 L144.20 127.39 L144.50 126.86 L144.80 126.99 L145.10 128.75 L145.40 128.21 L145.70 128.73 L146.00 131.46 L146.30 134.19 L146.60 136.30 L146.90 138.39 L147.20 139.79 L147.50 143.10 L147.80 146.25 L148.10 150.10 L148.40 152.46 L148.70 156.19 L149.00 160.26 L149.30 164.21 L149.60 168.77 L149.90 173.36 L150.20 177.15 L150.50 178.11 L150.80 178.62 L151.10 177.19 L151.40 176.61 L151.70 174.81 L152.00 176.35 L152.30 176.14 L152.60 176.88 L152.90 179.98 L153.20 180.05 L153.50 181.74 L153.80 182.73 L154.10 132.29 L154.40 131.54 L154.70 131.51 L155.00 131.53 L155.30 132.62 L155.60 132.83 L155.90 133.07 L156.20 135.45 L156.50 135.20 L156.80 136.69 L157.10 138.33 L157.40 140.24 L157.70 141.30 L158.00 142.94 L158.30 144.45 L158.60 146.60 L158.90 148.77 L159.20 150.43 L159.50 153.97 L159.80 155.35 L160.10 158.24 L160.40 160.11 L160.70 164.31 L161.00 166.62 L161.30 168.19 L161.60 166.61 L161.90 165.12 L162.20 163.38 L162.50 161.57 L162.80 162.48 L163.10 162.89 L163.40 164.19 L163.70 166.43 L164.00 167.38 L164.30 168.84 L164.60 168.25 L164.90 165.54 L165.20 163.88 L165.50 164.70 L165.80 163.78 L166.10 164.56 L166.40 166.27 L166.70 166.65 L167.00 166.54 L167.30 167.54 L167.60 168.67 L167.90 169.16 L168.20 170.68 L168.50 172.26 L168.80 173.00 L169.10 174.75 L169.40 176.47 L169.70 177.93 L170.00 180.37 L170.30 181.10 L170.60 183.38 L170.90 183.05 L171.20 181.74 L171.50 180.87 L171.80 178.95 L172.10 178.62 L172.40 178.88 L172.70 179.68 L173.00 180.48 L173.30 181.15 L173.60 182.93 L173.90 183.25 L174.20 183.84 L174.50 181.71 L174.80 181.37 L175.10 177.49 L175.40 174.64 L175.70 172.02 L176.00 169.34 L176.30 170.31 L176.60 171.46 L176.90 172.17 L177.20 173.60 L177.50 174.80 L177.80 176.33 L178.10 177.25 L178.40 177.85 L178.70 177.83 L179.00 177.14 L179.30 177.63 L179.60 176.35 L179.90 176.45 L180.20 175.52 L180.50 174.81 L180.80 174.00 L181.10 173.06 L181.40 172.46 L181.70 171.98 L182.00 170.61 L182.30 170.12 L182.60 167.44 L182.90 165.84 L183.20 164.04 L183.50 161.10 L183.80 158.34 L184.10 157.24 L184.40 156.17 L184.70 154.32 L185.00 153.25 L185.30 152.79 L185.60 153.38 L185.90 156.01 L186.20 159.70 L186.50 162.12 L186.80 164.15 L187.10 164.04 L187.40 165.22 L187.70 163.85 L188.00 164.92 L188.30 164.44 L188.60 165.08 L188.90 165.68 L189.20 165.40 L189.50 166.34 L189.80 167.57 L190.10 168.72 L190.40 168.68 L190.70 170.79 L191.00 172.34 L191.30 173.55 L191.60 175.39 L191.90 179.28 L192.20 181.70 L192.50 182.49 L192.80 182.08 L193.10 181.52 L193.40 180.34 L193.70 179.48 L194.00 179.63 L194.30 180.44 L194.60 180.79 L194.90 180.68 L195.20 182.98 L195.50 183.09 L195.80 182.26 L196.10 177.57 L196.40 173.91 L196.70 171.84 L197.00 169.92 L197.30 172.69 L197.60 175.41 L197.90 178.41 L198.20 181.44 L198.50 181.71 L198.80 182.72 L199.10 183.24 L199.40 182.41 L199.70 183.01 L200.00 184.11 L200.30 183.78 L200.60 184.12 L200.90 184.70 L201.20 183.82 L201.50 184.52 L201.80 187.00 L202.10 186.51 L202.40 186.90 L202.70 186.82 L203.00 185.50 L203.30 184.09 L203.60 181.95 L203.90 181.57 L204.20 179.36 L204.50 178.56 L204.80 179.26 L205.10 177.41 L205.40 179.04 L205.70 179.38 L206.00 179.87 L206.30 180.94 L206.60 181.64 L206.90 180.07 L206.90 180.07 M208.90 179.33 L209.00 179.43 L209.30 178.70 L209.60 179.12 L209.90 179.08 L210.20 178.11 L210.50 178.29 L210.80 178.44 L211.10 178.87 L211.40 180.24 L211.70 180.17 L212.00 180.96 L212.30 182.51 L212.60 182.43 L212.90 184.52 L213.20 185.40 L213.50 187.68 L213.80 188.66 L214.10 189.29 L214.40 191.67 L214.70 193.42 L215.00 195.02 L215.30 194.60 L215.60 195.00 L215.90 196.28 L216.20 195.92 L216.50 194.91 L216.80 196.35 L217.10 197.60 L217.40 197.93 L217.70 198.00 L218.00 198.49 L218.30 196.00 L218.60 195.41 L218.90 194.48 L219.20 193.15 L219.50 191.80 L219.80 190.39 L220.10 190.08 L220.40 188.25 L220.70 187.60 L221.00 185.88 L221.30 186.96 L221.60 187.14 L221.90 187.10 L222.20 186.69 L222.50 187.50 L222.80 187.90 L223.10 187.86 L223.40 187.91 L223.70 188.25 L224.00 190.54 L224.30 191.67 L224.60 192.93 L224.90 195.19 L225.20 195.55 L225.50 198.37 L225.80 196.46 L226.10 199.52 L226.40 200.57 L226.70 200.18 L227.00 200.31 L227.30 202.23 L227.60 202.01 L227.90 202.60 L228.20 203.48 L228.50 203.38 L228.80 203.61 L229.10 203.63 L229.40 202.37 L229.70 202.65 L230.00 202.47 L230.30 201.82 L230.60 199.53 L230.90 196.57 L231.20 195.76 L231.50 193.74 L231.80 193.48 L232.10 196.77 L232.40 198.04 L232.70 199.64 L233.00 200.28 L233.30 199.87 L233.60 201.62 L233.90 203.08 L234.20 203.64 L234.50 204.03 L234.80 203.64 L235.10 203.98 L235.40 203.34 L235.70 203.47 L236.00 203.21 L236.30 202.81 L236.60 202.90 L236.90 202.45 L237.20 202.38 L237.50 202.70 L237.80 201.94 L238.10 202.09 L238.40 201.79 L238.70 200.12 L239.00 197.49 L239.30 195.05 L239.60 193.55 L239.90 192.57 L240.20 192.19 L240.50 190.64 L240.80 191.48 L241.10 193.14 L241.40 193.99 L241.70 195.56 L242.00 196.68 L242.30 197.77 L242.60 198.69 L242.90 198.57 L243.20 198.98 L243.50 199.67 L243.80 197.27 L244.10 196.90 L244.40 196.87 L244.70 196.84 L245.00 199.33 L245.30 201.50 L245.60 205.67 L245.90 207.50 L246.20 210.34 L246.50 210.76 L246.80 211.45 L247.10 210.59 L247.40 210.09 L247.70 209.26 L248.00 209.32 L248.30 210.44 L248.60 209.75 L248.90 207.88 L249.20 206.40 L249.50 205.44 L249.80 205.15 L250.10 203.78 L250.40 204.31 L250.70 201.92 L251.00 200.38 L251.30 199.31 L251.60 196.73 L251.90 197.62 L252.20 196.06 L252.50 196.94 L252.80 200.05 L253.10 200.44 L253.40 202.58 L253.70 202.55 L254.00 203.75 L254.30 202.59 L254.60 202.14 L254.90 203.05 L255.20 200.18 L255.50 201.10 L255.80 201.98 L256.10 202.09 L256.40 203.31 L256.70 203.23 L257.00 205.72 L257.30 207.46 L257.60 206.08 L257.90 207.18 L258.20 209.39 L258.50 210.65 L258.80 211.12 L259.10 212.37 L259.40 210.80 L259.70 209.14 L260.00 206.68 L260.30 204.69 L260.60 202.04 L260.90 200.06 L261.20 198.84 L261.50 196.80 L261.80 194.07 L262.10 192.48 L262.40 191.34 L262.70 191.97 L263.00 190.32 L263.30 190.16 L263.60 187.96 L263.90 188.76 L264.20 190.39 L264.50 192.03 L264.80 192.76 L265.10 192.46 L265.40 194.88 L265.70 194.94 L266.00 197.22 L266.30 197.85 L266.60 200.15 L266.90 200.73 L267.20 201.32 L267.50 202.55 L267.80 202.11 L268.10 203.43 L268.40 203.27 L268.70 204.49 L269.00 206.19 L269.30 205.16 L269.60 204.26 L269.90 203.32 L270.20 203.18 L270.50 201.48 L270.80 200.96 L271.10 201.05 L271.40 199.93 L271.70 199.49 L272.00 198.70 L272.30 198.38 L272.60 197.15 L272.90 198.41 L273.20 201.25 L273.50 203.29 L273.80 204.04 L274.10 205.01 L274.40 205.15 L274.70 205.10 L275.00 205.17 L275.30 205.34 L275.50 205.04 M277.90 207.45 L278.00 207.18 L278.30 208.16 L278.60 206.53 L278.90 207.09 L279.20 206.58 L279.50 205.55 L279.80 205.60 L280.10 201.97 L280.40 202.38 L280.70 200.65 L281.00 199.74 L281.30 200.10 L281.60 200.09 L281.90 202.27 L282.20 204.00 L282.50 206.25 L282.80 209.75 L283.10 211.68 L283.40 212.78 L283.70 214.51 L284.00 214.16 L284.30 216.12 L284.60 215.16 L284.90 216.61 L285.20 219.00 L285.50 219.37 L285.80 220.09 L286.10 218.49 L286.40 217.88 L286.70 215.91 L287.00 214.52 L287.30 212.47 L287.60 210.42 L287.90 208.95 L288.20 208.26 L288.50 207.24 L288.80 204.49 L289.10 204.71 L289.40 202.13 L289.70 202.46 L290.00 201.08 L290.30 200.01 L290.60 199.93 L290.90 198.94 L291.20 198.69 L291.50 198.40 L291.80 197.20 L292.10 197.64 L292.40 197.93 L292.70 197.23 L293.00 197.52 L293.30 197.94 L293.60 198.16 L293.90 197.68 L294.20 197.67 L294.50 198.07 L294.80 196.64 L295.10 196.95 L295.40 196.57 L295.70 196.29 L296.00 195.84 L296.30 196.18 L296.60 195.61 L296.90 197.28 L297.20 198.77 L297.50 200.16 L297.80 201.24 L298.10 200.56 L298.40 201.69 L298.70 202.88 L299.00 204.51 L299.30 206.74 L299.60 208.44 L299.90 209.51 L300.20 210.06 L300.50 210.42 L300.80 209.00 L301.10 208.81 L301.40 209.73 L301.70 209.63 L302.00 209.80 L302.30 209.18 L302.60 206.97 L302.90 206.37 L303.20 204.53 L303.50 204.90 L303.80 204.92 L304.10 204.70 L304.40 202.32 L304.70 202.66 L305.00 200.36 L305.30 199.78 L305.60 198.38 L305.90 198.52 L306.20 194.97 L306.50 194.97 L306.80 194.70 L307.10 193.88 L307.40 193.40 L307.70 194.72 L308.00 195.91 L308.30 196.99 L308.60 197.90 L308.90 197.04 L309.20 196.77 L309.50 199.30 L309.80 198.11 L310.10 199.58 L310.40 199.24 L310.70 198.80 L311.00 199.27 L311.30 200.78 L311.60 202.49 L311.90 203.22 L312.20 203.91 L312.50 204.77 L312.80 203.11 L313.10 203.17 L313.40 202.32 L313.70 202.28 L314.00 201.48 L314.30 201.35 L314.60 200.36 L314.90 198.67 L315.20 197.38 L315.50 196.22 L315.80 192.43 L316.10 191.75 L316.40 189.33 L316.70 189.40 L317.00 191.07 L317.30 191.25 L317.60 191.95 L317.90 192.59 L318.20 195.88 L318.50 197.46 L318.80 199.92 L319.10 199.96 L319.40 201.26 L319.70 202.10 L320.00 202.66 L320.30 201.40 L320.60 203.68 L320.90 204.03 L321.20 203.46 L321.50 203.59 L321.80 203.08 L322.10 204.06 L322.40 207.06 L322.70 206.85 L323.00 207.43 L323.30 206.33 L323.60 206.21 L323.90 205.37 L324.20 206.52 L324.50 205.13 L324.80 206.67 L325.10 207.02 L325.40 205.07 L325.70 204.03 L326.00 203.95 L326.30 201.69 L326.60 199.65 L326.90 199.29 L327.20 198.05 L327.50 198.10 L327.80 197.30 L328.10 197.25 L328.40 198.38 L328.70 199.11 L329.00 201.13 L329.30 200.49 L329.60 199.89 L329.90 199.70 L330.20 199.96 L330.50 202.11 L330.80 201.93 L331.10 202.21 L331.40 202.39 L331.70 203.61 L332.00 204.42 L332.30 205.38 L332.60 206.42 L332.90 207.14 L333.20 206.79 L333.50 208.24 L333.80 207.65 L334.10 207.97 L334.40 208.58 L334.70 208.81 L335.00 208.51 L335.30 206.00 L335.60 205.72 L335.90 204.48 L336.20 202.81 L336.50 202.16 L336.80 201.87 L337.10 199.78 L337.40 201.02 L337.70 199.58 L338.00 198.55 L338.30 199.36 L338.60 200.71 L338.90 201.60 L339.20 201.97 L339.50 202.80 L339.80 202.94 L340.10 204.23 L340.40 202.40 L340.70 202.35 L341.00 200.41 L341.30 198.71 L341.60 198.37 L341.90 198.37 L342.20 199.04 L342.50 199.21 L342.80 197.64 L342.90 197.44 M345.40 196.84 L345.50 197.06 L345.80 197.72 L346.10 197.14 L346.40 198.20 L346.70 199.92 L347.00 200.40 L347.30 202.48 L347.60 202.70 L347.90 202.61 L348.20 203.61 L348.50 205.91 L348.80 206.02 L349.10 206.80 L349.40 206.47 L349.70 205.73 L350.00 203.39 L350.30 203.58 L350.60 202.23 L350.90 201.40 L351.20 200.75 L351.50 199.10 L351.80 199.71 L352.10 199.19 L352.40 201.28 L352.70 202.67 L353.00 202.64 L353.30 204.53 L353.60 205.15 L353.90 206.49 L354.20 209.92 L354.50 209.23 L354.80 210.38 L355.10 210.38 L355.40 209.49 L355.70 210.67 L356.00 210.03 L356.30 210.02 L356.60 208.55 L356.90 207.47 L357.20 207.00 L357.50 206.25 L357.80 206.18 L358.10 203.42 L358.40 201.85 L358.70 201.46 L359.00 199.50 L359.30 199.20 L359.60 197.90 L359.90 196.62 L360.20 195.66 L360.50 193.34 L360.80 192.30 L361.10 192.03 L361.40 193.15 L361.70 193.82 L362.00 195.14 L362.30 196.29 L362.60 198.04 L362.90 199.38 L363.20 200.79 L363.50 201.59 L363.80 199.94 L364.10 200.44 L364.40 200.48 L364.70 199.73 L365.00 199.18 L365.30 200.63 L365.60 199.79 L365.90 202.11 L366.20 202.62 L366.50 201.71 L366.80 202.10 L367.10 202.93 L367.40 201.62 L367.70 202.17 L368.00 201.17 L368.30 202.53 L368.60 200.37 L368.90 201.47 L369.20 201.49 L369.50 201.88 L369.80 201.81 L370.10 201.47 L370.40 201.23 L370.70 202.91 L371.00 202.74 L371.30 204.00 L371.60 203.73 L371.90 204.92 L372.20 205.80 L372.50 206.11 L372.80 205.04 L373.10 204.51 L373.40 205.34 L373.70 207.05 L374.00 210.14 L374.30 211.13 L374.60 211.79 L374.90 212.79 L375.20 212.16 L375.50 210.07 L375.80 210.28 L376.10 208.60 L376.40 209.01 L376.70 209.00 L377.00 207.82 L377.30 207.96 L377.60 207.71 L377.90 206.88 L378.20 205.67 L378.50 205.01 L378.80 203.68 L379.10 202.76 L379.40 201.13 L379.70 202.55 L380.00 203.32 L380.30 202.77 L380.60 204.90 L380.90 208.38 L381.20 210.49 L381.50 211.41 L381.80 215.69 L382.10 218.48 L382.40 219.26 L382.70 219.72 L383.00 219.61 L383.30 220.09 L383.60 219.96 L383.90 220.98 L384.20 221.75 L384.50 222.72 L384.80 223.35 L385.10 222.94 L385.40 222.61 L385.70 222.22 L386.00 222.24 L386.30 222.31 L386.60 222.91 L386.90 222.06 L387.20 222.24 L387.50 220.48 L387.80 219.98 L388.10 219.69 L388.40 219.02 L388.70 216.15 L389.00 213.52 L389.30 211.16 L389.60 208.53 L389.90 205.84 L390.20 205.13 L390.50 202.03 L390.80 202.41 L391.10 202.81 L391.40 202.08 L391.70 199.69 L392.00 199.61 L392.30 197.72 L392.60 199.45 L392.90 197.48 L393.20 196.96 L393.50 197.21 L393.80 197.98 L394.10 197.26 L394.40 198.80 L394.70 199.25 L395.00 199.51 L395.30 202.15 L395.60 202.11 L395.90 202.76 L396.20 203.19 L396.50 204.39 L396.80 204.03 L397.10 203.78 L397.40 204.22 L397.70 204.21 L398.00 205.26 L398.30 204.65 L398.60 203.81 L398.90 204.49 L399.20 203.99 L399.50 203.18 L399.80 203.19 L400.10 204.31 L400.40 204.13 L400.70 203.90 L401.00 203.13 L401.30 202.77 L401.60 203.21 L401.90 201.71 L402.20 202.64 L402.50 201.61 L402.80 200.51 L403.10 201.65 L403.40 200.23 L403.70 200.84 L404.00 200.03 L404.30 200.67 L404.60 201.08 L404.90 201.48 L405.20 202.07 L405.50 201.33 L405.80 202.18 L406.10 201.73 L406.40 203.47 L406.70 203.23 L407.00 202.94 L407.30 202.56 L407.60 202.61 L407.90 201.44 L408.20 200.63 L408.50 199.97 L408.80 198.68 L409.10 199.50 L409.40 197.39 L409.70 198.55 L410.00 197.81 L410.30 198.67 L410.60 199.71 L410.90 200.39 L411.20 200.82 L411.50 200.65 L411.80 200.25 L412.10 201.48 L412.40 202.03 L412.70 201.25 L413.00 201.14 L413.30 200.31 L413.60 199.75 L413.90 200.00 L414.20 199.20 L414.50 198.94 L414.80 200.53 L415.10 201.57 L415.40 199.97 L415.50 199.69 M418.00 201.88 L418.10 201.79 L418.40 203.71 L418.70 203.11 L419.00 204.72 L419.30 205.63 L419.60 205.03 L419.90 204.35 L420.20 204.33 L420.50 203.84 L420.80 204.49 L421.10 204.67 L421.40 204.85 L421.70 203.98 L422.00 202.80 L422.30 203.39 L422.60 201.78 L422.90 200.74 L423.20 201.66 L423.50 201.51 L423.80 201.34 L424.10 200.31 L424.40 200.08 L424.70 199.85 L425.00 200.49 L425.30 200.07 L425.60 200.92 L425.90 202.24 L426.20 203.88 L426.50 204.06 L426.80 205.30 L427.10 205.77 L427.40 206.47 L427.70 207.50 L428.00 208.67 L428.30 209.75 L428.60 211.89 L428.90 213.27 L429.20 211.27 L429.50 209.84 L429.80 209.74 L430.10 207.76 L430.40 205.98 L430.70 204.91 L431.00 204.28 L431.30 202.78 L431.60 202.00 L431.90 202.91 L432.20 201.62 L432.50 201.73 L432.80 199.22 L433.10 200.15 L433.40 200.19 L433.70 198.95 L434.00 198.92 L434.30 199.71 L434.60 200.09 L434.90 202.20 L435.20 201.88 L435.50 202.93 L435.80 201.96 L436.10 201.37 L436.40 202.36 L436.70 202.61 L437.00 203.32 L437.30 203.64 L437.60 204.17 L437.90 203.39 L438.20 205.02 L438.50 204.88 L438.80 203.17 L439.10 202.05 L439.40 202.55 L439.70 202.65 L440.00 200.78 L440.30 198.38 L440.60 199.25 L440.90 198.93 L441.20 200.24 L441.50 200.36 L441.80 200.37 L442.10 201.90 L442.40 202.72 L442.70 203.53 L443.00 204.96 L443.30 206.64 L443.60 205.97 L443.90 204.72 L444.20 202.68 L444.50 203.87 L444.80 204.50 L445.10 205.31 L445.40 203.66 L445.70 203.32 L446.00 202.22 L446.30 199.83 L446.60 199.64 L446.90 200.32 L447.20 199.38 L447.50 198.45 L447.80 198.93 L448.10 201.56 L448.40 201.17 L448.70 201.02 L449.00 202.60 L449.30 203.06 L449.60 203.81 L449.90 205.67 L450.20 207.81 L450.50 208.82 L450.80 208.53 L451.10 206.96 L451.40 205.54 L451.70 204.84 L452.00 203.71 L452.30 203.73 L452.60 201.48 L452.90 201.12 L453.20 200.18 L453.50 200.17 L453.80 199.29 L454.10 199.71 L454.40 200.01 L454.70 200.78 L455.00 199.71 L455.30 200.10 L455.60 200.58 L455.90 201.07 L456.20 203.89 L456.50 205.52 L456.80 205.44 L457.10 207.20 L457.40 206.40 L457.70 207.95 L458.00 208.19 L458.30 209.43 L458.60 208.98 L458.90 210.59 L459.20 208.52 L459.50 209.14 L459.80 208.92 L460.10 207.30 L460.40 206.72 L460.70 206.67 L461.00 205.97 L461.30 206.87 L461.60 207.21 L461.90 207.68 L462.20 206.87 L462.50 206.88 L462.80 206.82 L463.10 206.22 L463.40 206.31 L463.70 205.76 L464.00 205.11 L464.30 203.92 L464.60 202.89 L464.90 202.87 L465.20 202.25 L465.50 201.68 L465.80 201.64 L466.10 202.55 L466.40 203.21 L466.70 202.68 L467.00 201.96 L467.30 200.70 L467.60 200.95 L467.90 200.46 L468.20 200.52 L468.50 197.92 L468.80 197.05 L469.10 196.50 L469.40 195.99 L469.70 195.14 L470.00 197.18 L470.30 196.88 L470.60 197.04 L470.90 198.57 L471.20 199.97 L471.50 198.89 L471.80 200.10 L472.10 200.50 L472.40 201.27 L472.70 200.38 L473.00 200.84 L473.30 200.80 L473.60 201.06 L473.90 202.24 L474.20 201.13 L474.50 201.50 L474.80 203.36 L475.10 201.74 L475.40 201.52 L475.70 203.30 L476.00 203.90 L476.30 204.09 L476.60 204.35 L476.90 204.71 L477.20 204.72 L477.50 205.52 L477.80 205.75 L478.10 205.08 L478.40 206.57 L478.70 206.38 L479.00 204.57 L479.30 203.76 L479.60 203.05 L479.90 201.42 L480.20 201.03 L480.50 199.71 L480.80 199.55 L481.10 199.61 L481.40 197.68 L481.70 198.20 L482.00 199.57 L482.30 201.08 L482.60 202.82 L482.90 201.91 L483.20 203.37 L483.50 204.96 L483.80 206.01 L484.10 208.00 L484.40 208.57 L484.70 209.42 L485.00 210.32 L485.30 211.30 L485.60 210.50 L485.90 210.69 L486.20 210.21 L486.50 208.99 L486.80 206.76 L487.10 206.13 L487.40 205.05 L487.70 203.36 L488.00 201.16 L488.30 200.44 L488.60 200.47 L488.90 200.29 L489.20 200.08 L489.50 199.10 L489.80 197.12 L490.10 196.28 L490.40 196.45 L490.70 196.51 L491.00 197.30 L491.30 198.47 L491.60 198.52 L491.90 197.80 L492.20 197.57 L492.50 197.33 L492.80 197.74 L493.10 198.94 L493.40 198.70 L493.70 198.16 L494.00 197.68 L494.30 197.49 L494.60 197.73 L494.90 197.28 L495.20 197.65 L495.50 198.61 L495.80 200.51 L496.10 201.62 L496.40 203.53 L496.70 202.86 L497.00 205.19 L497.30 205.72 L497.60 206.46 L497.90 204.71 L498.20 205.17 L498.50 203.13 L498.80 202.85 L499.10 202.59 L499.40 201.12 L499.70 200.72 L500.00 202.06 L500.30 201.18 L500.60 201.15 L500.90 200.37 L501.20 199.49 L501.50 198.57 L501.80 199.09 L502.10 197.68 L502.40 197.33 L502.70 200.00 L503.00 200.42 L503.30 202.93 L503.60 204.44 L503.90 205.48 L504.20 207.16 L504.50 208.25 L504.80 210.23 L505.10 211.81 L505.40 212.87 L505.70 214.60 L506.00 214.61 L506.30 214.38 L506.60 212.86 L506.90 211.54 L507.20 210.58 L507.50 210.22 L507.80 209.31 L508.10 208.17 L508.40 207.72 L508.70 206.48 L509.00 205.46 L509.30 204.07 L509.60 202.60 L509.90 203.44 L510.20 203.67 L510.50 202.41 L510.80 203.05 L511.10 202.06 L511.40 202.22 L511.70 200.48 L512.00 198.66 L512.30 196.79 L512.60 196.25 L512.90 195.55 L513.20 195.46 L513.50 195.81 L513.80 195.81 L514.10 194.54 L514.40 195.99 L514.70 194.46 L515.00 197.08 L515.30 196.63 L515.60 195.92 L515.90 196.22 L516.20 195.91 L516.50 197.92 L516.80 198.51 L517.10 197.91 L517.40 199.18 L517.70 197.90 L518.00 199.60 L518.30 199.91 L518.60 199.73 L518.90 200.92 L519.20 200.53 L519.50 199.47 L519.80 200.73 L520.10 199.64 L520.40 198.60 L520.70 199.76 L521.00 200.91 L521.30 201.00 L521.60 202.17 L521.90 203.09 L522.20 202.30 L522.50 201.80 L522.80 201.50 L523.10 203.25 L523.40 203.43 L523.70 204.19 L524.00 204.73 L524.30 205.71 L524.60 206.73 L524.90 207.42 L525.20 209.10 L525.50 209.87 L525.80 210.58 L526.10 211.09 L526.40 212.29 L526.70 213.58 L527.00 212.08 L527.30 210.45 L527.60 209.97 L527.90 209.03 L528.20 208.46 L528.50 208.04 L528.80 207.05 L529.10 206.71 L529.40 206.35 L529.70 205.81 L530.00 205.40 L530.30 203.93 L530.60 202.32 L530.90 200.25 L531.20 199.76 L531.50 197.93 L531.80 198.27 L532.10 198.50 L532.40 198.66 L532.70 197.05 L533.00 196.58 L533.30 196.15 L533.60 195.83 L533.90 195.68 L534.20 195.07 L534.50 194.46 L534.80 193.16 L535.10 194.02 L535.40 194.59 L535.70 195.47 L536.00 194.64 L536.30 197.51 L536.60 196.16 L536.90 197.42 L537.20 198.50 L537.50 199.97 L537.80 201.82 L538.10 201.11 L538.40 201.79 L538.70 199.61 L539.00 200.70 L539.30 199.50 L539.60 199.75 L539.90 200.30 L540.20 201.98 L540.50 201.10 L540.80 200.06 L541.10 198.97 L541.40 199.27 L541.70 199.22 L542.00 199.74 L542.30 199.97 L542.60 198.65 L542.90 198.33" fill="none" stroke="#008000" stroke-width="1.05" stroke-linejoin="round"/>
<path d="M136.90 122.03 L136.90 242.80 L139.20 242.80 L139.20 132.42 M206.90 180.07 L206.90 252.20 L208.90 252.20 L208.90 179.33 M275.50 205.04 L275.50 255.20 L277.90 255.20 L277.90 207.45 M342.90 197.44 L342.90 255.20 L345.40 255.20 L345.40 196.84 M415.50 199.69 L415.50 255.20 L418.00 255.20 L418.00 201.88" fill="none" stroke="#008000" stroke-width="0.8" stroke-linejoin="miter"/>
<path d="M89.00 175.83 L89.30 176.35 L89.60 176.08 L89.90 174.28 L90.20 173.39 L90.50 173.53 L90.80 173.35 L91.10 173.90 L91.40 174.42 L91.70 174.34 L92.00 175.17 L92.30 176.96 L92.60 178.94 L92.90 180.51 L93.20 181.37 L93.50 183.06 L93.80 183.44 L94.10 184.62 L94.40 187.19 L94.70 185.94 L95.00 187.91 L95.30 188.45 L95.60 188.39 L95.90 188.42 L96.20 187.04 L96.50 186.06 L96.80 183.81 L97.10 183.26 L97.40 181.12 L97.70 181.71 L98.00 180.98 L98.30 179.91 L98.60 178.63 L98.90 178.84 L99.20 177.97 L99.50 177.48 L99.80 177.53 L100.10 177.54 L100.40 178.28 L100.70 177.04 L101.00 177.24 L101.30 177.47 L101.60 177.09 L101.90 177.57 L102.20 179.58 L102.50 179.82 L102.80 180.08 L103.10 179.34 L103.40 180.23 L103.70 180.86 L104.00 180.28 L104.30 181.36 L104.60 181.02 L104.90 182.06 L105.20 182.06 L105.50 182.37 L105.80 182.93 L106.10 182.65 L106.40 184.10 L106.70 184.12 L107.00 185.14 L107.30 185.05 L107.60 184.53 L107.90 186.35 L108.20 186.07 L108.50 186.18 L108.80 185.86 L109.10 184.12 L109.40 183.75 L109.70 182.33 L110.00 182.88 L110.30 181.43 L110.60 180.54 L110.90 181.88 L111.20 179.79 L111.50 178.19 L111.80 177.12 L112.10 173.74 L112.40 173.13 L112.70 172.55 L113.00 172.14 L113.30 174.17 L113.60 174.91 L113.90 174.90 L114.20 176.37 L114.50 177.04 L114.80 178.62 L115.10 178.71 L115.40 180.17 L115.70 181.76 L116.00 183.05 L116.30 184.60 L116.60 185.20 L116.90 185.11 L117.20 186.73 L117.50 186.29 L117.80 187.61 L118.10 187.68 L118.40 188.53 L118.70 189.00 L119.00 186.47 L119.30 182.57 L119.60 180.07 L119.90 174.39 L120.20 166.28 L120.50 160.92 L120.80 154.80 L121.10 150.21 L121.40 147.41 L121.70 151.70 L122.00 157.90 L122.30 166.10 L122.60 173.38 L122.90 173.68 L123.20 176.44 L123.50 177.98 L123.80 179.04 L124.10 181.28 L124.40 182.05 L124.70 180.84 L125.00 183.02 L125.30 182.79 L125.60 183.15 L125.90 183.75 L126.20 183.01 L126.50 183.38 L126.80 183.35 L127.10 183.71 L127.40 184.13 L127.70 182.95 L128.00 183.84 L128.30 183.09 L128.60 183.73 L128.90 183.08 L129.20 183.73 L129.50 183.10 L129.80 183.55 L130.10 183.91 L130.40 184.12 L130.70 181.90 L131.00 183.37 L131.30 182.35 L131.60 180.93 L131.90 181.87 L132.20 181.63 L132.50 180.06 L132.80 179.52 L133.10 179.22 L133.40 179.49 L133.70 178.06 L134.00 177.29 L134.30 175.39 L134.60 176.35 L134.90 175.59 L135.20 174.17 L135.50 174.43 L135.80 174.18 L136.10 173.58 L136.40 174.46 L136.70 175.42 L136.90 176.25 M139.20 187.66 L139.40 187.77 L139.70 187.54 L140.00 186.93 L140.30 185.45 L140.60 184.01 L140.90 181.49 L141.20 179.39 L141.50 177.12 L141.80 177.79 L142.10 176.45 L142.40 175.20 L142.70 172.90 L143.00 173.17 L143.30 171.34 L143.60 171.40 L143.90 169.50 L144.20 170.67 L144.50 169.67 L144.80 169.00 L145.10 169.19 L145.40 170.89 L145.70 171.94 L146.00 172.14 L146.30 172.92 L146.60 172.82 L146.90 172.72 L147.20 174.44 L147.50 175.43 L147.80 176.19 L148.10 177.60 L148.40 178.53 L148.70 177.24 L149.00 177.45 L149.30 176.55 L149.60 175.11 L149.90 174.57 L150.20 172.47 L150.50 171.20 L150.80 169.68 L151.10 168.95 L151.40 166.91 L151.70 165.23 L152.00 163.01 L152.30 163.43 L152.60 162.25 L152.90 163.41 L153.20 163.18 L153.50 163.73 L153.80 164.25 L154.10 169.03 L154.40 171.57 L154.70 170.99 L155.00 171.49 L155.30 173.43 L155.60 173.48 L155.90 172.13 L156.20 171.30 L156.50 170.30 L156.80 168.63 L157.10 166.94 L157.40 166.88 L157.70 165.65 L158.00 165.28 L158.30 167.38 L158.60 167.07 L158.90 168.56 L159.20 168.59 L159.50 168.65 L159.80 169.50 L160.10 169.92 L160.40 171.78 L160.70 173.18 L161.00 174.31 L161.30 175.85 L161.60 175.53 L161.90 175.92 L162.20 175.43 L162.50 173.62 L162.80 170.65 L163.10 167.76 L163.40 164.65 L163.70 160.98 L164.00 159.40 L164.30 157.96 L164.60 155.29 L164.90 153.60 L165.20 152.57 L165.50 149.21 L165.80 148.54 L166.10 147.46 L166.40 145.93 L166.70 146.95 L167.00 149.15 L167.30 149.12 L167.60 149.86 L167.90 151.73 L168.20 153.86 L168.50 155.67 L168.80 158.12 L169.10 161.04 L169.40 161.59 L169.70 162.23 L170.00 163.06 L170.30 163.09 L170.60 163.95 L170.90 163.44 L171.20 162.94 L171.50 163.07 L171.80 161.85 L172.10 161.85 L172.40 160.55 L172.70 159.94 L173.00 159.20 L173.30 159.21 L173.60 157.66 L173.90 157.04 L174.20 157.11 L174.50 156.29 L174.80 156.06 L175.10 155.28 L175.40 154.79 L175.70 153.74 L176.00 153.28 L176.30 152.85 L176.60 154.07 L176.90 155.59 L177.20 158.01 L177.50 158.01 L177.80 159.03 L178.10 159.08 L178.40 159.33 L178.70 159.31 L179.00 159.77 L179.30 159.29 L179.60 159.07 L179.90 158.25 L180.20 158.15 L180.50 160.63 L180.80 161.52 L181.10 163.74 L181.40 167.87 L181.70 170.37 L182.00 172.01 L182.30 175.59 L182.60 176.72 L182.90 178.39 L183.20 181.18 L183.50 182.10 L183.80 183.13 L184.10 182.10 L184.40 179.01 L184.70 176.34 L185.00 171.56 L185.30 169.77 L185.60 166.29 L185.90 163.49 L186.20 160.23 L186.50 157.55 L186.80 155.80 L187.10 153.71 L187.40 152.42 L187.70 150.36 L188.00 148.90 L188.30 147.43 L188.60 147.48 L188.90 148.85 L189.20 149.46 L189.50 149.52 L189.80 151.50 L190.10 150.92 L190.40 151.97 L190.70 153.48 L191.00 155.09 L191.30 156.81 L191.60 157.98 L191.90 159.80 L192.20 160.11 L192.50 160.49 L192.80 161.51 L193.10 160.37 L193.40 160.87 L193.70 161.61 L194.00 162.39 L194.30 161.10 L194.60 159.97 L194.90 159.00 L195.20 155.78 L195.50 153.48 L195.80 152.28 L196.10 151.30 L196.40 149.72 L196.70 148.95 L197.00 147.51 L197.30 146.92 L197.60 147.95 L197.90 149.12 L198.20 150.74 L198.50 152.21 L198.80 153.28 L199.10 153.53 L199.40 155.78 L199.70 157.12 L200.00 159.01 L200.30 159.72 L200.60 160.39 L200.90 160.87 L201.20 161.11 L201.50 161.11 L201.80 162.45 L202.10 162.30 L202.40 162.19 L202.70 160.73 L203.00 161.82 L203.30 162.02 L203.60 162.05 L203.90 162.47 L204.20 160.87 L204.50 159.98 L204.80 157.92 L205.10 158.44 L205.40 158.26 L205.70 159.74 L206.00 160.85 L206.30 162.04 L206.60 163.13 L206.90 167.37 L206.90 167.37 M208.90 153.58 L209.00 152.75 L209.30 150.39 L209.60 149.48 L209.90 148.39 L210.20 145.36 L210.50 144.84 L210.80 143.79 L211.10 145.32 L211.40 143.08 L211.70 145.43 L212.00 145.64 L212.30 145.74 L212.60 146.10 L212.90 145.33 L213.20 146.97 L213.50 147.50 L213.80 149.65 L214.10 152.56 L214.40 151.48 L214.70 150.68 L215.00 150.41 L215.30 149.08 L215.60 147.57 L215.90 146.63 L216.20 145.32 L216.50 145.14 L216.80 143.74 L217.10 140.08 L217.40 139.38 L217.70 136.45 L218.00 133.90 L218.30 132.19 L218.60 129.83 L218.90 160.62 L219.20 159.76 L219.50 156.86 L219.80 153.92 L220.10 153.12 L220.40 153.41 L220.70 152.64 L221.00 150.04 L221.30 151.32 L221.60 148.41 L221.90 148.08 L222.20 144.80 L222.50 144.77 L222.80 144.26 L223.10 141.62 L223.40 139.33 L223.70 139.36 L224.00 136.26 L224.30 134.85 L224.60 133.65 L224.90 131.29 L225.20 128.94 L225.50 125.77 L225.80 125.63 L226.10 123.63 L226.40 122.92 L226.70 121.28 L227.00 120.87 L227.30 121.60 L227.60 121.54 L227.90 123.06 L228.20 123.73 L228.50 126.16 L228.80 130.05 L229.10 132.95 L229.40 135.40 L229.70 136.15 L230.00 138.08 L230.30 138.92 L230.60 138.37 L230.90 136.42 L231.20 136.84 L231.50 134.50 L231.80 132.36 L232.10 132.09 L232.40 130.71 L232.70 128.77 L233.00 127.83 L233.30 126.89 L233.60 127.01 L233.90 124.74 L234.20 125.17 L234.50 124.90 L234.80 127.39 L235.10 129.50 L235.40 133.69 L235.70 135.61 L236.00 137.50 L236.30 138.52 L236.60 139.61 L236.90 139.06 L237.20 140.35 L237.50 138.68 L237.80 137.76 L238.10 138.29 L238.40 137.10 L238.70 136.15 L239.00 134.43 L239.30 133.61 L239.60 131.06 L239.90 129.08 L240.20 127.41 L240.50 125.16 L240.80 123.07 L241.10 121.56 L241.40 119.70 L241.70 119.12 L242.00 118.73 L242.30 121.17 L242.60 121.82 L242.90 122.40 L243.20 123.22 L243.50 122.92 L243.80 123.39 L244.10 124.18 L244.40 124.81 L244.70 127.10 L245.00 127.88 L245.30 131.42 L245.60 131.30 L245.90 130.56 L246.20 128.99 L246.50 128.19 L246.80 128.70 L247.10 127.48 L247.40 128.87 L247.70 128.85 L248.00 128.07 L248.30 129.83 L248.60 130.28 L248.90 129.83 L249.20 131.70 L249.50 132.69 L249.80 134.75 L250.10 135.76 L250.40 138.97 L250.70 141.15 L251.00 141.72 L251.30 143.49 L251.60 144.61 L251.90 143.24 L252.20 141.84 L252.50 136.51 L252.80 133.44 L253.10 128.44 L253.40 125.81 L253.70 125.59 L254.00 124.74 L254.30 124.87 L254.60 124.28 L254.90 122.86 L255.20 123.67 L255.50 124.80 L255.80 127.10 L256.10 130.35 L256.40 130.97 L256.70 134.12 L257.00 135.15 L257.30 136.82 L257.60 138.96 L257.90 141.74 L258.20 142.36 L258.50 145.16 L258.80 144.84 L259.10 145.39 L259.40 145.88 L259.70 144.44 L260.00 143.12 L260.30 141.93 L260.60 141.44 L260.90 138.26 L261.20 138.46 L261.50 137.28 L261.80 137.30 L262.10 134.47 L262.40 133.09 L262.70 134.27 L263.00 133.40 L263.30 133.11 L263.60 132.96 L263.90 135.49 L264.20 134.68 L264.50 137.41 L264.80 138.44 L265.10 137.56 L265.40 136.50 L265.70 136.89 L266.00 136.06 L266.30 136.44 L266.60 136.84 L266.90 136.70 L267.20 134.38 L267.50 132.86 L267.80 129.62 L268.10 127.17 L268.40 124.74 L268.70 123.39 L269.00 123.64 L269.30 123.19 L269.60 122.86 L269.90 123.92 L270.20 125.66 L270.50 126.10 L270.80 125.96 L271.10 122.33 L271.40 122.72 L271.70 122.28 L272.00 123.49 L272.30 125.21 L272.60 128.54 L272.90 131.03 L273.20 131.24 L273.50 131.26 L273.80 131.42 L274.10 130.44 L274.40 130.41 L274.70 130.27 L275.00 129.92 L275.30 131.85 L275.50 130.82 M277.90 130.30 L278.00 130.85 L278.30 132.08 L278.60 134.98 L278.90 136.61 L279.20 139.18 L279.50 139.49 L279.80 140.73 L280.10 140.47 L280.40 140.40 L280.70 139.78 L281.00 138.27 L281.30 136.74 L281.60 134.62 L281.90 132.44 L282.20 129.41 L282.50 125.17 L282.80 122.59 L283.10 118.29 L283.40 114.85 L283.70 115.81 L284.00 114.00 L284.30 114.77 L284.60 113.95 L284.90 114.64 L285.20 116.38 L285.50 116.92 L285.80 117.31 L286.10 120.08 L286.40 120.56 L286.70 123.04 L287.00 127.17 L287.30 129.18 L287.60 133.09 L287.90 136.16 L288.20 136.69 L288.50 137.69 L288.80 138.59 L289.10 137.91 L289.40 138.22 L289.70 138.04 L290.00 136.88 L290.30 136.32 L290.60 134.48 L290.90 133.08 L291.20 131.37 L291.50 128.08 L291.80 127.12 L292.10 124.90 L292.40 123.21 L292.70 121.69 L293.00 119.82 L293.30 120.63 L293.60 120.87 L293.90 121.00 L294.20 121.85 L294.50 123.46 L294.80 124.30 L295.10 126.78 L295.40 129.02 L295.70 130.66 L296.00 132.59 L296.30 132.72 L296.60 131.93 L296.90 131.47 L297.20 131.13 L297.50 128.31 L297.80 128.37 L298.10 125.54 L298.40 124.41 L298.70 122.12 L299.00 121.35 L299.30 119.93 L299.60 121.12 L299.90 121.59 L300.20 121.16 L300.50 122.08 L300.80 121.79 L301.10 122.71 L301.40 123.40 L301.70 125.34 L302.00 127.69 L302.30 130.19 L302.60 131.19 L302.90 129.12 L303.20 130.40 L303.50 129.90 L303.80 128.62 L304.10 127.40 L304.40 127.23 L304.70 125.47 L305.00 124.33 L305.30 123.58 L305.60 121.74 L305.90 119.18 L306.20 118.72 L306.50 119.32 L306.80 120.51 L307.10 120.97 L307.40 123.75 L307.70 126.09 L308.00 128.21 L308.30 131.80 L308.60 134.70 L308.90 135.54 L309.20 138.58 L309.50 142.03 L309.80 144.00 L310.10 146.01 L310.40 145.20 L310.70 142.73 L311.00 141.59 L311.30 139.41 L311.60 135.71 L311.90 132.79 L312.20 129.08 L312.50 126.28 L312.80 122.15 L313.10 120.10 L313.40 118.28 L313.70 116.16 L314.00 114.00 L314.30 113.05 L314.60 113.58 L314.90 113.13 L315.20 113.53 L315.50 116.31 L315.80 117.57 L316.10 120.45 L316.40 122.32 L316.70 124.78 L317.00 125.28 L317.30 127.28 L317.60 130.27 L317.90 131.44 L318.20 132.27 L318.50 133.78 L318.80 132.85 L319.10 131.68 L319.40 132.02 L319.70 133.12 L320.00 133.29 L320.30 133.47 L320.60 133.58 L320.90 131.83 L321.20 129.50 L321.50 127.12 L321.80 126.42 L322.10 125.47 L322.40 125.18 L322.70 126.78 L323.00 127.87 L323.30 131.32 L323.60 130.84 L323.90 131.91 L324.20 130.89 L324.50 131.47 L324.80 130.03 L325.10 131.15 L325.40 130.42 L325.70 129.59 L326.00 127.35 L326.30 125.22 L326.60 121.81 L326.90 118.30 L327.20 117.86 L327.50 115.15 L327.80 114.81 L328.10 116.99 L328.40 117.73 L328.70 119.95 L329.00 123.18 L329.30 123.65 L329.60 124.87 L329.90 125.47 L330.20 128.13 L330.50 129.86 L330.80 131.76 L331.10 133.54 L331.40 134.50 L331.70 137.12 L332.00 137.23 L332.30 139.66 L332.60 139.71 L332.90 141.29 L333.20 142.23 L333.50 141.37 L333.80 141.07 L334.10 139.30 L334.40 137.92 L334.70 136.92 L335.00 133.65 L335.30 131.88 L335.60 128.49 L335.90 126.68 L336.20 124.17 L336.50 122.87 L336.80 120.10 L337.10 119.14 L337.40 119.31 L337.70 119.60 L338.00 120.53 L338.30 121.63 L338.60 122.27 L338.90 123.31 L339.20 122.37 L339.50 122.89 L339.80 124.70 L340.10 126.68 L340.40 128.34 L340.70 129.56 L341.00 131.18 L341.30 133.55 L341.60 133.31 L341.90 135.89 L342.20 133.57 L342.50 131.68 L342.80 128.01 L342.90 127.35 M345.40 111.90 L345.50 111.23 L345.80 110.47 L346.10 110.04 L346.40 108.49 L346.70 109.58 L347.00 109.69 L347.30 110.79 L347.60 114.08 L347.90 116.86 L348.20 120.56 L348.50 123.13 L348.80 125.99 L349.10 128.80 L349.40 132.19 L349.70 134.33 L350.00 135.56 L350.30 135.38 L350.60 135.40 L350.90 134.49 L351.20 135.96 L351.50 135.62 L351.80 134.51 L352.10 134.49 L352.40 132.21 L352.70 130.29 L353.00 127.78 L353.30 126.89 L353.60 125.98 L353.90 126.36 L354.20 126.11 L354.50 127.53 L354.80 128.32 L355.10 129.57 L355.40 128.66 L355.70 131.35 L356.00 132.46 L356.30 136.86 L356.60 137.71 L356.90 136.42 L357.20 136.80 L357.50 134.86 L357.80 131.49 L358.10 131.03 L358.40 127.75 L358.70 126.29 L359.00 123.77 L359.30 120.65 L359.60 119.84 L359.90 119.23 L360.20 117.60 L360.50 118.71 L360.80 117.72 L361.10 116.57 L361.40 116.61 L361.70 117.01 L362.00 118.32 L362.30 118.71 L362.60 120.69 L362.90 121.83 L363.20 124.17 L363.50 125.86 L363.80 127.33 L364.10 129.10 L364.40 129.85 L364.70 131.50 L365.00 132.02 L365.30 133.19 L365.60 134.52 L365.90 134.37 L366.20 136.11 L366.50 135.58 L366.80 133.77 L367.10 131.11 L367.40 128.93 L367.70 126.86 L368.00 125.94 L368.30 126.18 L368.60 125.85 L368.90 125.75 L369.20 125.05 L369.50 123.50 L369.80 124.19 L370.10 126.01 L370.40 127.62 L370.70 129.69 L371.00 132.16 L371.30 134.14 L371.60 135.25 L371.90 138.29 L372.20 138.37 L372.50 140.54 L372.80 141.13 L373.10 140.94 L373.40 137.52 L373.70 134.51 L374.00 130.66 L374.30 127.76 L374.60 124.33 L374.90 121.78 L375.20 119.91 L375.50 119.41 L375.80 119.66 L376.10 119.74 L376.40 121.17 L376.70 121.16 L377.00 121.78 L377.30 122.74 L377.60 124.09 L377.90 125.63 L378.20 129.27 L378.50 131.40 L378.80 134.65 L379.10 136.79 L379.40 137.08 L379.70 139.05 L380.00 137.99 L380.30 138.24 L380.60 137.85 L380.90 137.80 L381.20 136.17 L381.50 133.85 L381.80 131.68 L382.10 130.67 L382.40 127.10 L382.70 123.60 L383.00 120.36 L383.30 116.63 L383.60 112.63 L383.90 108.24 L384.20 104.70 L384.50 103.00 L384.80 101.42 L385.10 102.28 L385.40 105.37 L385.70 107.37 L386.00 110.12 L386.30 112.57 L386.60 115.86 L386.90 118.72 L387.20 121.87 L387.50 122.89 L387.80 124.22 L388.10 125.20 L388.40 124.46 L388.70 125.51 L389.00 125.85 L389.30 125.81 L389.60 124.66 L389.90 125.38 L390.20 125.11 L390.50 126.34 L390.80 125.14 L391.10 126.61 L391.40 126.37 L391.70 126.60 L392.00 126.17 L392.30 126.03 L392.60 126.53 L392.90 128.27 L393.20 128.17 L393.50 128.95 L393.80 129.52 L394.10 129.17 L394.40 131.79 L394.70 131.91 L395.00 131.97 L395.30 131.35 L395.60 130.70 L395.90 131.66 L396.20 131.52 L396.50 130.96 L396.80 132.24 L397.10 132.31 L397.40 131.71 L397.70 131.38 L398.00 129.15 L398.30 128.88 L398.60 128.43 L398.90 127.07 L399.20 126.73 L399.50 127.24 L399.80 126.36 L400.10 126.31 L400.40 129.43 L400.70 129.58 L401.00 130.27 L401.30 131.49 L401.60 130.72 L401.90 132.13 L402.20 133.74 L402.50 135.42 L402.80 133.73 L403.10 133.58 L403.40 132.58 L403.70 133.57 L404.00 131.08 L404.30 132.27 L404.60 131.40 L404.90 130.20 L405.20 130.24 L405.50 131.04 L405.80 129.38 L406.10 128.76 L406.40 125.77 L406.70 123.19 L407.00 120.36 L407.30 118.67 L407.60 116.13 L407.90 115.41 L408.20 115.25 L408.50 116.15 L408.80 115.03 L409.10 116.26 L409.40 117.18 L409.70 118.01 L410.00 119.63 L410.30 119.27 L410.60 122.63 L410.90 125.76 L411.20 128.98 L411.50 132.50 L411.80 135.92 L412.10 139.96 L412.40 141.03 L412.70 143.95 L413.00 145.72 L413.30 143.34 L413.60 143.86 L413.90 143.67 L414.20 142.38 L414.50 141.78 L414.80 140.11 L415.10 138.49 L415.40 136.94 L415.50 136.38 M418.00 138.04 L418.10 137.84 L418.40 137.85 L418.70 136.97 L419.00 136.15 L419.30 136.04 L419.60 133.35 L419.90 131.70 L420.20 130.14 L420.50 127.61 L420.80 126.66 L421.10 126.45 L421.40 125.45 L421.70 123.73 L422.00 123.12 L422.30 124.50 L422.60 125.20 L422.90 124.03 L423.20 125.80 L423.50 124.40 L423.80 124.02 L424.10 125.16 L424.40 122.69 L424.70 124.34 L425.00 124.82 L425.30 126.47 L425.60 128.05 L425.90 130.74 L426.20 132.48 L426.50 132.78 L426.80 131.44 L427.10 130.40 L427.40 129.07 L427.70 129.82 L428.00 130.90 L428.30 131.11 L428.60 132.45 L428.90 131.11 L429.20 129.39 L429.50 128.66 L429.80 128.43 L430.10 128.27 L430.40 128.04 L430.70 127.70 L431.00 127.66 L431.30 127.84 L431.60 130.03 L431.90 132.72 L432.20 136.80 L432.50 139.09 L432.80 139.62 L433.10 138.42 L433.40 137.68 L433.70 136.29 L434.00 134.26 L434.30 132.11 L434.60 129.85 L434.90 128.65 L435.20 126.74 L435.50 122.59 L435.80 119.22 L436.10 116.86 L436.40 116.59 L436.70 116.26 L437.00 115.58 L437.30 115.00 L437.60 116.57 L437.90 115.73 L438.20 117.10 L438.50 118.87 L438.80 121.30 L439.10 123.79 L439.40 127.09 L439.70 130.17 L440.00 133.23 L440.30 135.10 L440.60 133.85 L440.90 134.43 L441.20 132.76 L441.50 133.40 L441.80 131.36 L442.10 132.12 L442.40 132.15 L442.70 132.23 L443.00 132.60 L443.30 132.27 L443.60 130.29 L443.90 129.60 L444.20 130.30 L444.50 130.37 L444.80 130.61 L445.10 131.11 L445.40 133.68 L445.70 134.63 L446.00 136.62 L446.30 136.46 L446.60 137.01 L446.90 136.41 L447.20 135.28 L447.50 134.74 L447.80 132.50 L448.10 132.48 L448.40 130.67 L448.70 127.91 L449.00 126.47 L449.30 125.80 L449.60 123.50 L449.90 124.36 L450.20 122.49 L450.50 122.24 L450.80 120.77 L451.10 120.07 L451.40 119.23 L451.70 120.18 L452.00 120.57 L452.30 121.66 L452.60 122.62 L452.90 124.85 L453.20 127.48 L453.50 128.87 L453.80 130.71 L454.10 131.80 L454.40 132.99 L454.70 135.70 L455.00 136.09 L455.30 137.00 L455.60 137.95 L455.90 137.71 L456.20 136.53 L456.50 134.38 L456.80 131.76 L457.10 128.39 L457.40 123.69 L457.70 121.12 L458.00 120.22 L458.30 122.25 L458.60 122.78 L458.90 123.12 L459.20 122.30 L459.50 122.45 L459.80 123.01 L460.10 123.82 L460.40 125.78 L460.70 128.99 L461.00 130.80 L461.30 132.49 L461.60 132.62 L461.90 131.65 L462.20 131.72 L462.50 131.53 L462.80 132.17 L463.10 132.29 L463.40 131.58 L463.70 130.48 L464.00 128.57 L464.30 127.10 L464.60 126.33 L464.90 124.03 L465.20 123.44 L465.50 122.02 L465.80 121.30 L466.10 119.47 L466.40 119.20 L466.70 119.75 L467.00 121.79 L467.30 122.00 L467.60 123.85 L467.90 122.74 L468.20 123.96 L468.50 124.09 L468.80 123.87 L469.10 126.54 L469.40 128.81 L469.70 130.10 L470.00 131.51 L470.30 132.38 L470.60 133.94 L470.90 134.78 L471.20 135.52 L471.50 137.07 L471.80 137.85 L472.10 137.19 L472.40 137.44 L472.70 137.88 L473.00 135.93 L473.30 136.25 L473.60 134.39 L473.90 133.00 L474.20 133.57 L474.50 132.85 L474.80 131.20 L475.10 131.53 L475.40 131.53 L475.70 130.84 L476.00 131.74 L476.30 131.50 L476.60 131.19 L476.90 128.49 L477.20 128.71 L477.50 127.14 L477.80 128.23 L478.10 129.49 L478.40 129.46 L478.70 130.58 L479.00 129.69 L479.30 130.05 L479.60 130.73 L479.90 130.82 L480.20 128.86 L480.50 126.86 L480.80 127.00 L481.10 127.12 L481.40 126.48 L481.70 127.26 L482.00 128.00 L482.30 129.23 L482.60 130.06 L482.90 131.26 L483.20 131.39 L483.50 132.34 L483.80 132.63 L484.10 132.70 L484.40 132.71 L484.70 131.35 L485.00 131.55 L485.30 131.29 L485.60 131.29 L485.90 131.59 L486.20 133.21 L486.50 133.58 L486.80 134.67 L487.10 135.57 L487.40 134.12 L487.70 134.29 L488.00 135.17 L488.30 134.12 L488.60 133.58 L488.90 133.06 L489.20 132.51 L489.50 131.72 L489.80 131.26 L490.10 130.01 L490.40 128.15 L490.70 127.56 L491.00 126.89 L491.30 126.11 L491.60 127.55 L491.90 129.68 L492.20 132.73 L492.50 135.62 L492.80 138.72 L493.10 141.58 L493.40 144.64 L493.70 145.09 L494.00 144.65 L494.30 146.47 L494.60 146.60 L494.90 145.49 L495.20 144.51 L495.50 143.87 L495.80 141.97 L496.10 140.43 L496.40 137.69 L496.70 135.13 L497.00 132.41 L497.30 128.53 L497.60 127.33 L497.90 126.24 L498.20 125.45 L498.50 124.51 L498.80 124.26 L499.10 124.69 L499.40 126.11 L499.70 127.09 L500.00 127.64 L500.30 128.51 L500.60 130.55 L500.90 131.22 L501.20 130.33 L501.50 130.70 L501.80 132.06 L502.10 133.41 L502.40 134.27 L502.70 134.89 L503.00 135.25 L503.30 135.40 L503.60 136.62 L503.90 137.27 L504.20 136.36 L504.50 136.40 L504.80 135.67 L505.10 135.19 L505.40 134.49 L505.70 132.23 L506.00 131.70 L506.30 130.86 L506.60 131.17 L506.90 130.28 L507.20 129.53 L507.50 127.70 L507.80 126.95 L508.10 125.40 L508.40 124.38 L508.70 124.26 L509.00 125.25 L509.30 124.97 L509.60 126.44 L509.90 128.65 L510.20 130.70 L510.50 133.32 L510.80 135.07 L511.10 136.27 L511.40 138.30 L511.70 137.40 L512.00 136.45 L512.30 135.56 L512.60 136.03 L512.90 134.13 L513.20 131.44 L513.50 130.85 L513.80 128.20 L514.10 128.17 L514.40 126.65 L514.70 127.29 L515.00 126.78 L515.30 127.20 L515.60 125.33 L515.90 124.06 L516.20 124.49 L516.50 123.08 L516.80 124.02 L517.10 124.47 L517.40 125.57 L517.70 127.85 L518.00 129.75 L518.30 132.43 L518.60 131.71 L518.90 133.66 L519.20 135.03 L519.50 137.31 L519.80 138.99 L520.10 139.67 L520.40 140.58 L520.70 139.13 L521.00 139.85 L521.30 139.15 L521.60 138.97 L521.90 137.09 L522.20 135.64 L522.50 135.36 L522.80 133.70 L523.10 131.66 L523.40 131.58 L523.70 131.13 L524.00 132.28 L524.30 132.67 L524.60 133.33 L524.90 133.28 L525.20 134.82 L525.50 134.46 L525.80 136.61 L526.10 138.59 L526.40 139.86 L526.70 141.04 L527.00 141.65 L527.30 141.70 L527.60 140.08 L527.90 138.07 L528.20 137.24 L528.50 133.09 L528.80 132.60 L529.10 130.72 L529.40 129.16 L529.70 126.58 L530.00 123.80 L530.30 118.92 L530.60 117.13 L530.90 116.75 L531.20 114.57 L531.50 115.34 L531.80 117.16 L532.10 118.95 L532.40 119.68 L532.70 122.40 L533.00 123.30 L533.30 126.58 L533.60 129.86 L533.90 133.48 L534.20 136.55 L534.50 138.97 L534.80 138.55 L535.10 139.36 L535.40 139.78 L535.70 139.09 L536.00 139.71 L536.30 139.33 L536.60 138.47 L536.90 137.01 L537.20 136.13 L537.50 133.43 L537.80 132.32 L538.10 130.69 L538.40 130.73 L538.70 128.88 L539.00 127.69 L539.30 127.19 L539.60 127.56 L539.90 129.35 L540.20 131.58 L540.50 133.25 L540.80 135.76 L541.10 137.91 L541.40 141.27 L541.70 141.49 L542.00 140.82 L542.30 141.65 L542.60 140.97 L542.90 139.72" fill="none" stroke="#800080" stroke-width="1.05" stroke-linejoin="round"/>
<path d="M136.90 176.25 L136.90 235.20 L139.20 235.20 L139.20 187.66 M206.90 167.37 L206.90 232.10 L208.90 232.10 L208.90 153.58 M275.50 130.82 L275.50 219.00 L277.90 219.00 L277.90 130.30 M342.90 127.35 L342.90 219.50 L345.40 219.50 L345.40 111.90 M415.50 136.38 L415.50 219.50 L418.00 219.50 L418.00 138.04" fill="none" stroke="#800080" stroke-width="0.8" stroke-linejoin="miter"/>
<line x1="153.86" x2="153.86" y1="85.5" y2="263.5" stroke="#000" stroke-width="0.55"/>
<line x1="218.71" x2="218.71" y1="85.5" y2="263.5" stroke="#000" stroke-width="0.55"/>
</g>
<rect x="118.67" y="161.07" width="5.00" height="16.85" rx="0.8" fill="#fff" fill-opacity="0.82" stroke="#666" stroke-width="0.55"/><text transform="translate(122.43 169.50) rotate(-90)" font-size="3.5" text-anchor="middle" fill="#ff0000">Anomaly</text>
<rect x="181.19" y="161.27" width="5.00" height="16.85" rx="0.8" fill="#fff" fill-opacity="0.82" stroke="#666" stroke-width="0.55"/><text transform="translate(184.95 169.70) rotate(-90)" font-size="3.5" text-anchor="middle" fill="#ff0000">Anomaly</text>
<rect x="283.67" y="145.47" width="5.00" height="16.85" rx="0.8" fill="#fff" fill-opacity="0.82" stroke="#666" stroke-width="0.55"/><text transform="translate(287.43 153.90) rotate(-90)" font-size="3.5" text-anchor="middle" fill="#ff0000">Anomaly</text>
<rect x="382.25" y="145.47" width="5.00" height="16.85" rx="0.8" fill="#fff" fill-opacity="0.82" stroke="#666" stroke-width="0.55"/><text transform="translate(386.01 153.90) rotate(-90)" font-size="3.5" text-anchor="middle" fill="#ff0000">Anomaly</text>
<rect x="89.0" y="85.5" width="454.0" height="178.0" fill="none" stroke="#000" stroke-width="0.5"/>
<text transform="translate(155.46 86.4) rotate(-90)" font-size="5" text-anchor="middle" fill="#000" stroke="#000" stroke-width="0.15">Transition</text>
<text transform="translate(220.31 86.4) rotate(-90)" font-size="5" text-anchor="middle" fill="#000" stroke="#000" stroke-width="0.15">Transition</text>
<line x1="89.00" x2="89.00" y1="263.5" y2="265.3" stroke="#000" stroke-width="0.4"/>
<text x="89.00" y="271.8" font-size="6.25" text-anchor="middle" fill="#111" stroke="#111" stroke-width="0.12">0</text>
<line x1="153.86" x2="153.86" y1="263.5" y2="265.3" stroke="#000" stroke-width="0.4"/>
<text x="153.86" y="271.8" font-size="6.25" text-anchor="middle" fill="#111" stroke="#111" stroke-width="0.12">5</text>
<line x1="218.71" x2="218.71" y1="263.5" y2="265.3" stroke="#000" stroke-width="0.4"/>
<text x="218.71" y="271.8" font-size="6.25" text-anchor="middle" fill="#111" stroke="#111" stroke-width="0.12">10</text>
<line x1="283.57" x2="283.57" y1="263.5" y2="265.3" stroke="#000" stroke-width="0.4"/>
<text x="283.57" y="271.8" font-size="6.25" text-anchor="middle" fill="#111" stroke="#111" stroke-width="0.12">15</text>
<line x1="348.43" x2="348.43" y1="263.5" y2="265.3" stroke="#000" stroke-width="0.4"/>
<text x="348.43" y="271.8" font-size="6.25" text-anchor="middle" fill="#111" stroke="#111" stroke-width="0.12">20</text>
<line x1="413.29" x2="413.29" y1="263.5" y2="265.3" stroke="#000" stroke-width="0.4"/>
<text x="413.29" y="271.8" font-size="6.25" text-anchor="middle" fill="#111" stroke="#111" stroke-width="0.12">25</text>
<line x1="478.14" x2="478.14" y1="263.5" y2="265.3" stroke="#000" stroke-width="0.4"/>
<text x="478.14" y="271.8" font-size="6.25" text-anchor="middle" fill="#111" stroke="#111" stroke-width="0.12">30</text>
<line x1="543.00" x2="543.00" y1="263.5" y2="265.3" stroke="#000" stroke-width="0.4"/>
<text x="543.00" y="271.8" font-size="6.25" text-anchor="middle" fill="#111" stroke="#111" stroke-width="0.12">35</text>
<line x1="87.2" x2="89.0" y1="229.10" y2="229.10" stroke="#000" stroke-width="0.4"/>
<text x="85.40" y="231.65" font-size="6.25" text-anchor="end" fill="#111" stroke="#111" stroke-width="0.12">5000</text>
<line x1="87.2" x2="89.0" y1="193.10" y2="193.10" stroke="#000" stroke-width="0.4"/>
<text x="85.40" y="195.65" font-size="6.25" text-anchor="end" fill="#111" stroke="#111" stroke-width="0.12">10,000.0</text>
<line x1="87.2" x2="89.0" y1="157.10" y2="157.10" stroke="#000" stroke-width="0.4"/>
<text x="85.40" y="159.65" font-size="6.25" text-anchor="end" fill="#111" stroke="#111" stroke-width="0.12">15,000.0</text>
<line x1="87.2" x2="89.0" y1="121.10" y2="121.10" stroke="#000" stroke-width="0.4"/>
<text x="85.40" y="123.65" font-size="6.25" text-anchor="end" fill="#111" stroke="#111" stroke-width="0.12">20,000.0</text>
<text transform="translate(55.2 174.6) rotate(-90)" font-size="7.05" text-anchor="middle" fill="#111" stroke="#111" stroke-width="0.12">Parameter Values</text>
<text x="121.50" y="276.6" font-size="5" font-weight="bold" text-anchor="middle" fill="#000" stroke="#000" stroke-width="0.12">Soft Rock Zone</text>
<text x="201.80" y="276.6" font-size="5" font-weight="bold" text-anchor="middle" fill="#000" stroke="#000" stroke-width="0.12">5m Fractured Zone with Water</text>
<text x="381.00" y="276.6" font-size="5" font-weight="bold" text-anchor="middle" fill="#000" stroke="#000" stroke-width="0.12">25m High Ground Stress Zone</text>
<rect x="204.8" y="90.1" width="334.59999999999997" height="14.800000000000011" rx="1" fill="#fff" fill-opacity="0.8" stroke="#ccc" stroke-opacity="0.8" stroke-width="0.5"/>
<rect x="206.6" y="92.9" width="10.2" height="3.8" fill="#0000ff" fill-opacity="0.17"/>
<line x1="206.6" x2="216.79999999999998" y1="101.6" y2="101.6" stroke="#0000ff" stroke-width="0.8"/>
<text x="220.2" y="96.7" font-size="4.5" fill="#000" stroke="#000" stroke-width="0.08">Total Thrust Range (kN)</text>
<text x="220.2" y="103.2" font-size="4.5" fill="#000" stroke="#000" stroke-width="0.08">Total Thrust Actual</text>
<rect x="282.5" y="92.9" width="10.2" height="3.8" fill="#ff0000" fill-opacity="0.215"/>
<line x1="282.5" x2="292.7" y1="101.6" y2="101.6" stroke="#ff0000" stroke-width="0.8"/>
<text x="296.0" y="96.7" font-size="4.5" fill="#000" stroke="#000" stroke-width="0.08">Total Torque Range (×2.4)</text>
<text x="296.0" y="103.2" font-size="4.5" fill="#000" stroke="#000" stroke-width="0.08">Total Torque Actual</text>
<rect x="364.0" y="92.9" width="10.2" height="3.8" fill="#3cb371" fill-opacity="0.3"/>
<line x1="364.0" x2="374.2" y1="101.6" y2="101.6" stroke="#008000" stroke-width="0.8"/>
<text x="377.3" y="96.7" font-size="4.5" fill="#000" stroke="#000" stroke-width="0.08">Rotation Speed Range (×4400.0)</text>
<text x="377.3" y="103.2" font-size="4.5" fill="#000" stroke="#000" stroke-width="0.08">Rotation Speed Actual</text>
<rect x="461.5" y="92.9" width="10.2" height="3.8" fill="#da70d6" fill-opacity="0.36"/>
<line x1="461.5" x2="471.7" y1="101.6" y2="101.6" stroke="#800080" stroke-width="0.8"/>
<text x="474.8" y="96.7" font-size="4.5" fill="#000" stroke="#000" stroke-width="0.08">Cutting Power Range (×6.3)</text>
<text x="474.8" y="103.2" font-size="4.5" fill="#000" stroke="#000" stroke-width="0.08">Cutting Power Actual</text>
<rect x="88.6" y="299.1" width="113.60" height="11.20" fill="#fff" stroke="#000" stroke-width="0.5"/>
<text x="145.40" y="306.40" font-size="4.6" text-anchor="middle" fill="#000" stroke="#000" stroke-width="0.06">Geological Condition</text>
<rect x="202.2" y="299.1" width="113.60" height="11.20" fill="#fff" stroke="#000" stroke-width="0.5"/>
<text x="259.00" y="306.40" font-size="4.6" text-anchor="middle" fill="#000" stroke="#000" stroke-width="0.06">Total Thrust (kN)</text>
<rect x="315.8" y="299.1" width="113.60" height="11.20" fill="#fff" stroke="#000" stroke-width="0.5"/>
<text x="372.60" y="306.40" font-size="4.6" text-anchor="middle" fill="#000" stroke="#000" stroke-width="0.06">Total Torque (kN·m)</text>
<rect x="429.4" y="299.1" width="113.60" height="11.20" fill="#fff" stroke="#000" stroke-width="0.5"/>
<text x="486.20" y="306.40" font-size="4.6" text-anchor="middle" fill="#000" stroke="#000" stroke-width="0.06">Rotation Speed (rpm)</text>
<rect x="5.6" y="310.3" width="83.00" height="11.00" fill="#fff" stroke="#000" stroke-width="0.5"/>
<text x="14.00" y="317.50" font-size="4.6" fill="#000" stroke="#000" stroke-width="0.06">Soft Rock Zone</text>
<rect x="88.6" y="310.3" width="113.60" height="11.00" fill="#fff" stroke="#000" stroke-width="0.5"/>
<text x="145.40" y="317.50" font-size="4.6" text-anchor="middle" fill="#000" stroke="#000" stroke-width="0.06">8000-12,000</text>
<rect x="202.2" y="310.3" width="113.60" height="11.00" fill="#fff" stroke="#000" stroke-width="0.5"/>
<text x="259.00" y="317.50" font-size="4.6" text-anchor="middle" fill="#000" stroke="#000" stroke-width="0.06">2500-4000</text>
<rect x="315.8" y="310.3" width="113.60" height="11.00" fill="#fff" stroke="#000" stroke-width="0.5"/>
<text x="372.60" y="317.50" font-size="4.6" text-anchor="middle" fill="#000" stroke="#000" stroke-width="0.06">3.5-5.0</text>
<rect x="429.4" y="310.3" width="113.60" height="11.00" fill="#fff" stroke="#000" stroke-width="0.5"/>
<text x="486.20" y="317.50" font-size="4.6" text-anchor="middle" fill="#000" stroke="#000" stroke-width="0.06">1500-2200</text>
<rect x="5.6" y="321.3" width="83.00" height="11.00" fill="#fff" stroke="#000" stroke-width="0.5"/>
<text x="14.00" y="328.50" font-size="4.6" fill="#000" stroke="#000" stroke-width="0.06">5m Fractured Zone with Water</text>
<rect x="88.6" y="321.3" width="113.60" height="11.00" fill="#fff" stroke="#000" stroke-width="0.5"/>
<text x="145.40" y="328.50" font-size="4.6" text-anchor="middle" fill="#000" stroke="#000" stroke-width="0.06">6000-9000</text>
<rect x="202.2" y="321.3" width="113.60" height="11.00" fill="#fff" stroke="#000" stroke-width="0.5"/>
<text x="259.00" y="328.50" font-size="4.6" text-anchor="middle" fill="#000" stroke="#000" stroke-width="0.06">3500-5500</text>
<rect x="315.8" y="321.3" width="113.60" height="11.00" fill="#fff" stroke="#000" stroke-width="0.5"/>
<text x="372.60" y="328.50" font-size="4.6" text-anchor="middle" fill="#000" stroke="#000" stroke-width="0.06">2.0-3.5</text>
<rect x="429.4" y="321.3" width="113.60" height="11.00" fill="#fff" stroke="#000" stroke-width="0.5"/>
<text x="486.20" y="328.50" font-size="4.6" text-anchor="middle" fill="#000" stroke="#000" stroke-width="0.06">1800-2800</text>
<rect x="5.6" y="332.3" width="83.00" height="11.00" fill="#fff" stroke="#000" stroke-width="0.5"/>
<text x="14.00" y="339.50" font-size="4.6" fill="#000" stroke="#000" stroke-width="0.06">25m High Ground Stress Zone</text>
<rect x="88.6" y="332.3" width="113.60" height="11.00" fill="#fff" stroke="#000" stroke-width="0.5"/>
<text x="145.40" y="339.50" font-size="4.6" text-anchor="middle" fill="#000" stroke="#000" stroke-width="0.06">15,000-22,000</text>
<rect x="202.2" y="332.3" width="113.60" height="11.00" fill="#fff" stroke="#000" stroke-width="0.5"/>
<text x="259.00" y="339.50" font-size="4.6" text-anchor="middle" fill="#000" stroke="#000" stroke-width="0.06">6000-9000</text>
<rect x="315.8" y="332.3" width="113.60" height="11.00" fill="#fff" stroke="#000" stroke-width="0.5"/>
<text x="372.60" y="339.50" font-size="4.6" text-anchor="middle" fill="#000" stroke="#000" stroke-width="0.06">1.5-2.5</text>
<rect x="429.4" y="332.3" width="113.60" height="11.00" fill="#fff" stroke="#000" stroke-width="0.5"/>
<text x="486.20" y="339.50" font-size="4.6" text-anchor="middle" fill="#000" stroke="#000" stroke-width="0.06">2500-3500</text>
</svg>
</body></html>
